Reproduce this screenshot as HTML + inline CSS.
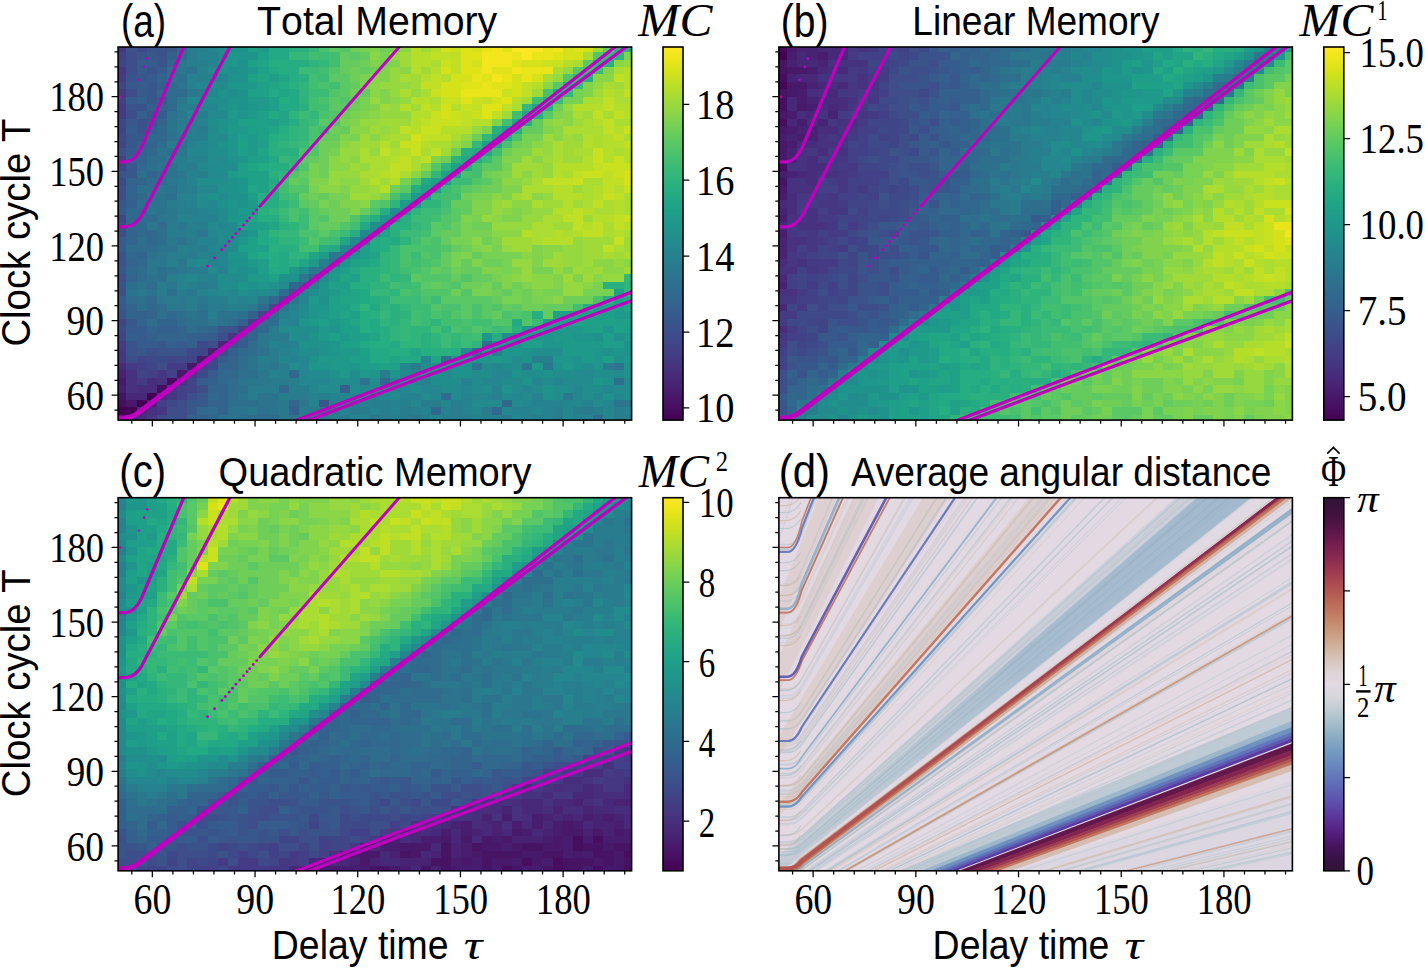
<!DOCTYPE html><html><head><meta charset="utf-8"><style>html,body{margin:0;padding:0;background:#fff;overflow:hidden}svg{display:block}text{font-kerning:none}</style></head><body><svg width="1425" height="968" viewBox="0 0 1425 968"><defs><clipPath id="clipA0_0"><rect x="118.1" y="47" width="513.5" height="373.1"/></clipPath><clipPath id="clipA661_0"><rect x="778.9" y="47" width="513.5" height="373.1"/></clipPath><clipPath id="clipA0_451"><rect x="118.1" y="497.7" width="513.5" height="373.1"/></clipPath><clipPath id="clipA661_451"><rect x="778.9" y="497.7" width="513.5" height="373.1"/></clipPath></defs><g clip-path="url(#clipA0_0)"><g transform="translate(116.25 44.8) scale(10.15 7.4)" shape-rendering="crispEdges"><path fill="#440154" d="M3 47h1v1h-1zM2 48h1v1h-1zM0 49h2v1h-2zM0 50h1v1h-1z"/><path fill="#470d60" d="M5 45h1v1h-1zM4 46h1v1h-1zM0 48h1v1h-1z"/><path fill="#471365" d="M0 47h1v1h-1z"/><path fill="#48186a" d="M7 43h1v1h-1zM6 44h1v1h-1zM0 45h1v1h-1zM1 48h1v1h-1z"/><path fill="#481d6f" d="M8 42h1v1h-1zM0 46h1v1h-1z"/><path fill="#482374" d="M9 41h1v1h-1zM0 44h1v1h-1zM3 48h1v1h-1z"/><path fill="#482878" d="M10 40h1v1h-1zM0 43h1v1h-1zM1 47h2v1h-2zM1 50h1v1h-1z"/><path fill="#472d7b" d="M3 45h1v1h-1zM2 46h2v1h-2zM4 47h1v1h-1zM2 49h1v1h-1zM2 50h1v1h-1z"/><path fill="#46327e" d="M1 44h1v1h-1zM1 45h1v1h-1zM4 45h1v1h-1zM1 46h1v1h-1zM3 49h1v1h-1z"/><path fill="#453781" d="M0 0h1v1h-1zM0 3h1v1h-1zM11 39h1v1h-1zM0 41h1v1h-1zM0 42h1v1h-1zM4 44h1v1h-1zM6 45h1v1h-1zM5 47h1v1h-1zM4 49h1v1h-1zM3 50h1v1h-1z"/><path fill="#443b84" d="M0 4h1v1h-1zM0 6h1v1h-1zM0 8h1v1h-1zM0 9h1v1h-1zM0 40h1v1h-1zM1 43h1v1h-1zM5 43h2v1h-2zM7 44h1v1h-1zM2 45h1v1h-1zM5 46h1v1h-1z"/><path fill="#424086" d="M0 1h1v1h-1zM0 7h1v1h-1zM0 15h1v1h-1zM13 37h1v1h-1zM12 38h1v1h-1zM2 43h1v1h-1zM8 43h1v1h-1zM3 44h1v1h-1zM5 44h1v1h-1zM6 46h1v1h-1zM6 47h1v1h-1zM4 48h1v1h-1z"/><path fill="#404588" d="M0 2h1v1h-1zM0 5h1v1h-1zM0 10h1v1h-1zM0 11h1v1h-1zM0 13h1v1h-1zM0 16h1v1h-1zM0 37h1v1h-1zM0 39h1v1h-1zM8 41h1v1h-1zM2 42h1v1h-1zM5 42h1v1h-1zM7 42h1v1h-1zM3 43h1v1h-1zM2 44h1v1h-1zM7 45h1v1h-1zM7 46h1v1h-1z"/><path fill="#3e4989" d="M2 0h1v1h-1zM0 12h1v1h-1zM0 18h1v1h-1zM0 23h1v1h-1zM14 36h1v1h-1zM0 38h1v1h-1zM8 40h1v1h-1zM7 41h1v1h-1zM3 42h2v1h-2zM6 42h1v1h-1zM9 42h1v1h-1zM9 43h1v1h-1zM8 44h1v1h-1zM5 48h1v1h-1zM4 50h1v1h-1z"/><path fill="#3d4e8a" d="M1 1h1v1h-1zM1 2h1v1h-1zM1 3h1v1h-1zM1 6h1v1h-1zM1 9h1v1h-1zM0 14h1v1h-1zM0 19h1v1h-1zM0 20h1v1h-1zM0 24h1v1h-1zM0 25h1v1h-1zM0 31h1v1h-1zM0 33h1v1h-1zM15 35h1v1h-1zM10 39h1v1h-1zM9 40h1v1h-1zM3 41h1v1h-1zM10 41h1v1h-1zM1 42h1v1h-1zM4 43h1v1h-1zM8 46h1v1h-1zM7 47h1v1h-1zM6 48h1v1h-1zM5 49h2v1h-2zM5 50h2v1h-2z"/><path fill="#3a538b" d="M1 0h1v1h-1zM3 0h2v1h-2zM2 1h1v1h-1zM4 1h1v1h-1zM4 2h1v1h-1zM3 3h1v1h-1zM1 4h1v1h-1zM1 8h2v1h-2zM2 10h1v1h-1zM2 11h1v1h-1zM0 17h1v1h-1zM0 28h1v1h-1zM0 29h1v1h-1zM0 32h1v1h-1zM16 34h1v1h-1zM0 36h1v1h-1zM11 38h1v1h-1zM1 40h1v1h-1zM11 40h1v1h-1zM1 41h1v1h-1zM4 41h3v1h-3z"/><path fill="#38588c" d="M5 0h1v1h-1zM3 1h1v1h-1zM2 4h1v1h-1zM1 5h1v1h-1zM3 5h1v1h-1zM3 6h1v1h-1zM3 7h1v1h-1zM3 9h1v1h-1zM1 10h1v1h-1zM3 10h1v1h-1zM1 12h2v1h-2zM1 13h1v1h-1zM1 16h1v1h-1zM1 17h1v1h-1zM0 21h1v1h-1zM0 22h1v1h-1zM0 30h1v1h-1zM17 33h1v1h-1zM0 35h1v1h-1zM1 37h1v1h-1zM10 38h1v1h-1zM4 40h1v1h-1zM2 41h1v1h-1zM8 47h1v1h-1zM7 48h2v1h-2zM20 48h1v1h-1zM7 49h1v1h-1z"/><path fill="#365c8d" d="M2 2h2v1h-2zM2 3h1v1h-1zM4 3h1v1h-1zM3 4h1v1h-1zM2 5h1v1h-1zM2 6h1v1h-1zM1 7h1v1h-1zM4 7h1v1h-1zM4 9h1v1h-1zM1 11h1v1h-1zM1 14h1v1h-1zM0 26h1v1h-1zM0 27h1v1h-1zM0 34h1v1h-1zM1 38h2v1h-2zM2 39h1v1h-1zM9 39h1v1h-1zM12 39h1v1h-1zM2 40h2v1h-2zM6 40h1v1h-1zM12 40h1v1h-1zM10 42h1v1h-1zM9 44h1v1h-1zM8 45h1v1h-1z"/><path fill="#34608d" d="M5 1h1v1h-1zM4 5h1v1h-1zM2 7h1v1h-1zM3 8h1v1h-1zM2 9h1v1h-1zM3 11h1v1h-1zM2 13h1v1h-1zM1 15h1v1h-1zM1 21h1v1h-1zM2 36h1v1h-1zM13 36h1v1h-1zM12 37h1v1h-1zM4 38h2v1h-2zM13 38h1v1h-1zM1 39h1v1h-1zM3 39h1v1h-1zM7 39h2v1h-2zM5 40h1v1h-1zM7 40h1v1h-1zM11 41h1v1h-1zM9 45h1v1h-1zM22 46h1v1h-1zM17 49h1v1h-1zM7 50h2v1h-2z"/><path fill="#32648e" d="M5 2h1v1h-1zM4 4h1v1h-1zM4 8h1v1h-1zM4 10h1v1h-1zM3 13h1v1h-1zM2 14h1v1h-1zM2 15h1v1h-1zM3 17h1v1h-1zM1 18h2v1h-2zM1 19h1v1h-1zM1 20h1v1h-1zM1 25h1v1h-1zM1 26h1v1h-1zM2 28h1v1h-1zM1 29h1v1h-1zM1 31h1v1h-1zM19 31h1v1h-1zM18 32h1v1h-1zM1 35h1v1h-1zM1 36h1v1h-1zM3 36h1v1h-1zM2 37h1v1h-1zM4 37h2v1h-2zM3 38h1v1h-1zM6 38h1v1h-1zM9 38h1v1h-1zM4 39h3v1h-3zM13 39h1v1h-1zM11 42h1v1h-1zM10 43h2v1h-2zM9 46h2v1h-2zM10 47h1v1h-1zM9 48h2v1h-2zM17 48h1v1h-1zM10 49h1v1h-1z"/><path fill="#31688e" d="M6 0h1v1h-1zM4 6h1v1h-1zM5 8h1v1h-1zM4 11h1v1h-1zM3 12h2v1h-2zM3 14h1v1h-1zM2 16h1v1h-1zM2 20h1v1h-1zM1 22h2v1h-2zM1 23h1v1h-1zM1 24h2v1h-2zM2 25h2v1h-2zM3 26h1v1h-1zM1 28h1v1h-1zM2 29h1v1h-1zM1 30h1v1h-1zM17 32h1v1h-1zM3 34h1v1h-1zM15 34h1v1h-1zM3 35h1v1h-1zM14 35h1v1h-1zM5 36h1v1h-1zM8 38h1v1h-1zM14 38h1v1h-1zM12 41h1v1h-1zM10 44h2v1h-2zM17 44h1v1h-1zM10 45h1v1h-1zM26 45h1v1h-1zM16 46h1v1h-1zM9 47h1v1h-1zM38 48h1v1h-1zM8 49h1v1h-1zM31 49h1v1h-1zM37 49h1v1h-1zM9 50h1v1h-1z"/><path fill="#2f6c8e" d="M5 5h1v1h-1zM5 6h2v1h-2zM5 7h1v1h-1zM4 13h1v1h-1zM4 17h1v1h-1zM3 18h2v1h-2zM3 19h1v1h-1zM3 23h1v1h-1zM4 24h1v1h-1zM1 27h3v1h-3zM2 30h1v1h-1zM2 31h1v1h-1zM3 32h1v1h-1zM16 33h1v1h-1zM1 34h1v1h-1zM4 35h1v1h-1zM3 37h1v1h-1zM6 37h1v1h-1zM11 37h1v1h-1zM14 37h2v1h-2zM7 38h1v1h-1zM13 40h1v1h-1zM13 41h1v1h-1zM12 42h1v1h-1zM12 43h1v1h-1zM11 45h1v1h-1zM11 46h1v1h-1zM11 47h1v1h-1zM32 47h1v1h-1zM9 49h1v1h-1zM13 50h3v1h-3zM47 50h1v1h-1z"/><path fill="#2d708e" d="M6 1h1v1h-1zM5 3h1v1h-1zM6 4h1v1h-1zM5 12h1v1h-1zM5 14h1v1h-1zM3 15h2v1h-2zM3 16h1v1h-1zM2 17h1v1h-1zM2 19h1v1h-1zM5 20h1v1h-1zM2 21h1v1h-1zM2 23h1v1h-1zM4 25h1v1h-1zM2 26h1v1h-1zM4 26h1v1h-1zM21 29h1v1h-1zM4 30h1v1h-1zM4 31h1v1h-1zM1 32h1v1h-1zM5 33h1v1h-1zM2 34h1v1h-1zM2 35h1v1h-1zM4 36h1v1h-1zM6 36h1v1h-1zM8 36h1v1h-1zM12 36h1v1h-1zM15 36h1v1h-1zM7 37h2v1h-2zM35 41h1v1h-1zM32 42h1v1h-1zM12 44h2v1h-2zM49 45h1v1h-1zM12 46h1v1h-1zM11 48h3v1h-3zM14 49h1v1h-1zM10 50h1v1h-1zM12 50h1v1h-1z"/><path fill="#2c738e" d="M7 3h1v1h-1zM5 4h1v1h-1zM6 5h1v1h-1zM5 9h1v1h-1zM5 10h1v1h-1zM5 11h1v1h-1zM6 13h1v1h-1zM4 14h1v1h-1zM4 16h2v1h-2zM5 17h1v1h-1zM5 19h1v1h-1zM3 20h2v1h-2zM3 21h2v1h-2zM4 22h1v1h-1zM6 26h1v1h-1zM4 27h2v1h-2zM3 28h1v1h-1zM5 30h1v1h-1zM20 30h1v1h-1zM3 31h1v1h-1zM2 32h1v1h-1zM1 33h1v1h-1zM3 33h1v1h-1zM8 35h1v1h-1zM7 36h1v1h-1zM10 36h2v1h-2zM10 37h1v1h-1zM36 40h1v1h-1zM14 41h1v1h-1zM13 42h1v1h-1zM13 43h1v1h-1zM35 43h1v1h-1zM40 43h1v1h-1zM49 43h1v1h-1zM12 45h1v1h-1zM24 45h1v1h-1zM12 47h1v1h-1zM14 47h2v1h-2zM14 48h2v1h-2zM49 48h1v1h-1zM11 49h2v1h-2zM15 49h1v1h-1zM11 50h1v1h-1zM17 50h1v1h-1z"/><path fill="#2a778e" d="M6 2h1v1h-1zM6 3h1v1h-1zM7 6h1v1h-1zM6 7h1v1h-1zM6 9h1v1h-1zM6 12h1v1h-1zM6 14h1v1h-1zM6 17h1v1h-1zM5 18h1v1h-1zM4 19h1v1h-1zM3 22h1v1h-1zM5 22h1v1h-1zM4 23h2v1h-2zM3 24h1v1h-1zM6 24h1v1h-1zM8 25h1v1h-1zM5 26h1v1h-1zM4 28h1v1h-1zM21 28h2v1h-2zM3 29h2v1h-2zM6 29h1v1h-1zM3 30h1v1h-1zM6 30h1v1h-1zM19 30h1v1h-1zM18 31h1v1h-1zM5 32h1v1h-1zM2 33h1v1h-1zM7 33h1v1h-1zM4 34h1v1h-1zM6 34h1v1h-1zM8 34h1v1h-1zM14 34h1v1h-1zM17 34h1v1h-1zM5 35h2v1h-2zM13 35h1v1h-1zM16 35h1v1h-1zM9 37h1v1h-1zM14 39h1v1h-1zM14 40h1v1h-1zM15 43h1v1h-1zM42 43h1v1h-1zM14 44h1v1h-1zM13 45h2v1h-2zM44 47h1v1h-1zM16 48h1v1h-1zM18 48h1v1h-1zM50 48h1v1h-1zM13 49h1v1h-1zM16 49h1v1h-1zM20 49h1v1h-1zM16 50h1v1h-1zM19 50h2v1h-2zM25 50h1v1h-1zM29 50h1v1h-1z"/><path fill="#297b8e" d="M7 0h1v1h-1zM7 1h1v1h-1zM7 8h1v1h-1zM6 10h2v1h-2zM8 11h1v1h-1zM5 13h1v1h-1zM5 15h2v1h-2zM7 16h1v1h-1zM6 18h1v1h-1zM6 19h1v1h-1zM5 21h1v1h-1zM5 24h1v1h-1zM5 25h2v1h-2zM7 26h1v1h-1zM24 26h1v1h-1zM8 27h1v1h-1zM5 28h1v1h-1zM7 28h1v1h-1zM7 30h2v1h-2zM4 32h1v1h-1zM8 32h1v1h-1zM4 33h1v1h-1zM5 34h1v1h-1zM7 35h1v1h-1zM9 35h2v1h-2zM15 38h1v1h-1zM15 39h2v1h-2zM15 41h1v1h-1zM15 42h1v1h-1zM14 43h1v1h-1zM29 43h1v1h-1zM48 43h1v1h-1zM26 44h1v1h-1zM15 45h2v1h-2zM13 46h3v1h-3zM13 47h1v1h-1zM17 47h2v1h-2zM23 48h1v1h-1zM30 48h1v1h-1zM18 49h2v1h-2zM21 49h1v1h-1zM23 49h1v1h-1zM28 49h1v1h-1zM33 49h1v1h-1zM36 49h1v1h-1zM46 49h1v1h-1zM18 50h1v1h-1zM22 50h1v1h-1zM26 50h1v1h-1zM28 50h1v1h-1zM33 50h1v1h-1zM38 50h1v1h-1zM43 50h1v1h-1z"/><path fill="#277f8e" d="M8 0h1v1h-1zM7 2h2v1h-2zM8 4h1v1h-1zM8 6h1v1h-1zM6 8h1v1h-1zM8 9h1v1h-1zM6 11h2v1h-2zM7 12h2v1h-2zM6 16h1v1h-1zM8 17h1v1h-1zM7 19h1v1h-1zM6 21h1v1h-1zM6 22h2v1h-2zM7 24h2v1h-2zM7 25h1v1h-1zM6 27h2v1h-2zM23 27h1v1h-1zM6 28h1v1h-1zM5 29h1v1h-1zM20 29h1v1h-1zM5 31h1v1h-1zM7 32h1v1h-1zM9 32h1v1h-1zM6 33h1v1h-1zM7 34h1v1h-1zM9 34h2v1h-2zM11 35h2v1h-2zM9 36h1v1h-1zM16 36h1v1h-1zM16 40h1v1h-1zM37 41h1v1h-1zM14 42h1v1h-1zM41 42h2v1h-2zM16 43h1v1h-1zM16 44h1v1h-1zM17 45h1v1h-1zM17 46h2v1h-2zM16 47h1v1h-1zM20 47h1v1h-1zM25 47h1v1h-1zM25 48h2v1h-2zM28 48h1v1h-1zM31 48h1v1h-1zM33 48h1v1h-1zM24 49h1v1h-1zM26 49h1v1h-1zM29 49h1v1h-1zM43 49h1v1h-1zM45 49h1v1h-1zM47 49h1v1h-1zM49 49h1v1h-1zM21 50h1v1h-1zM27 50h1v1h-1zM30 50h1v1h-1zM32 50h1v1h-1zM34 50h1v1h-1zM36 50h2v1h-2zM41 50h1v1h-1zM49 50h2v1h-2z"/><path fill="#26828e" d="M8 1h2v1h-2zM9 2h1v1h-1zM8 3h1v1h-1zM7 4h1v1h-1zM9 4h1v1h-1zM7 5h1v1h-1zM8 10h1v1h-1zM7 13h1v1h-1zM7 15h2v1h-2zM7 17h1v1h-1zM7 18h1v1h-1zM6 20h2v1h-2zM7 21h1v1h-1zM8 22h1v1h-1zM6 23h4v1h-4zM8 26h2v1h-2zM8 28h2v1h-2zM9 29h1v1h-1zM10 30h1v1h-1zM6 31h1v1h-1zM8 31h2v1h-2zM6 32h1v1h-1zM19 32h1v1h-1zM8 33h1v1h-1zM12 34h1v1h-1zM17 35h1v1h-1zM17 37h1v1h-1zM15 40h1v1h-1zM17 40h1v1h-1zM16 41h1v1h-1zM17 42h1v1h-1zM15 44h1v1h-1zM27 45h1v1h-1zM30 45h1v1h-1zM34 45h1v1h-1zM37 46h1v1h-1zM19 47h1v1h-1zM21 47h1v1h-1zM28 47h2v1h-2zM34 47h1v1h-1zM37 47h1v1h-1zM41 47h1v1h-1zM19 48h1v1h-1zM21 48h2v1h-2zM24 48h1v1h-1zM27 48h1v1h-1zM34 48h1v1h-1zM41 48h3v1h-3zM46 48h1v1h-1zM22 49h1v1h-1zM25 49h1v1h-1zM27 49h1v1h-1zM30 49h1v1h-1zM32 49h1v1h-1zM34 49h1v1h-1zM39 49h2v1h-2zM42 49h1v1h-1zM50 49h1v1h-1zM23 50h2v1h-2zM35 50h1v1h-1zM40 50h1v1h-1zM42 50h1v1h-1zM45 50h2v1h-2z"/><path fill="#24868e" d="M9 0h1v1h-1zM10 4h1v1h-1zM8 5h1v1h-1zM9 6h1v1h-1zM7 7h2v1h-2zM8 8h2v1h-2zM7 9h1v1h-1zM8 13h1v1h-1zM7 14h2v1h-2zM8 16h1v1h-1zM8 19h2v1h-2zM9 21h1v1h-1zM9 22h1v1h-1zM10 24h1v1h-1zM9 25h1v1h-1zM24 25h1v1h-1zM9 27h2v1h-2zM22 27h1v1h-1zM10 28h1v1h-1zM7 29h1v1h-1zM10 29h1v1h-1zM7 31h1v1h-1zM9 33h1v1h-1zM11 33h1v1h-1zM15 33h1v1h-1zM18 33h1v1h-1zM11 34h1v1h-1zM13 34h1v1h-1zM18 34h1v1h-1zM17 36h1v1h-1zM16 37h1v1h-1zM17 41h1v1h-1zM16 42h1v1h-1zM18 42h1v1h-1zM30 42h1v1h-1zM18 43h1v1h-1zM28 43h1v1h-1zM37 43h1v1h-1zM18 44h1v1h-1zM29 44h1v1h-1zM37 44h2v1h-2zM18 45h3v1h-3zM29 45h1v1h-1zM36 45h2v1h-2zM41 45h1v1h-1zM43 45h1v1h-1zM19 46h1v1h-1zM24 46h1v1h-1zM27 46h2v1h-2zM30 46h2v1h-2zM34 46h1v1h-1zM40 46h1v1h-1zM45 46h1v1h-1zM48 46h1v1h-1zM22 47h2v1h-2zM26 47h1v1h-1zM31 47h1v1h-1zM35 47h2v1h-2zM39 47h1v1h-1zM45 47h1v1h-1zM47 47h1v1h-1zM49 47h1v1h-1zM29 48h1v1h-1zM32 48h1v1h-1zM40 48h1v1h-1zM44 48h2v1h-2zM48 48h1v1h-1zM35 49h1v1h-1zM38 49h1v1h-1zM41 49h1v1h-1zM44 49h1v1h-1zM48 49h1v1h-1zM31 50h1v1h-1zM39 50h1v1h-1zM44 50h1v1h-1zM48 50h1v1h-1z"/><path fill="#238a8d" d="M10 0h1v1h-1zM10 1h1v1h-1zM9 3h1v1h-1zM10 5h1v1h-1zM9 9h2v1h-2zM9 11h1v1h-1zM10 12h1v1h-1zM9 13h1v1h-1zM10 15h1v1h-1zM9 16h1v1h-1zM9 17h2v1h-2zM8 20h1v1h-1zM10 20h1v1h-1zM8 21h1v1h-1zM10 22h1v1h-1zM10 23h1v1h-1zM9 24h1v1h-1zM11 24h1v1h-1zM26 24h1v1h-1zM10 25h2v1h-2zM25 25h1v1h-1zM10 26h1v1h-1zM23 26h1v1h-1zM11 27h1v1h-1zM8 29h1v1h-1zM9 30h1v1h-1zM11 31h1v1h-1zM20 31h1v1h-1zM16 32h1v1h-1zM10 33h1v1h-1zM13 33h1v1h-1zM18 35h1v1h-1zM16 38h1v1h-1zM18 39h1v1h-1zM19 41h1v1h-1zM39 42h1v1h-1zM17 43h1v1h-1zM36 43h1v1h-1zM38 43h1v1h-1zM19 44h2v1h-2zM28 44h1v1h-1zM32 44h1v1h-1zM35 44h1v1h-1zM45 44h2v1h-2zM49 44h1v1h-1zM23 45h1v1h-1zM35 45h1v1h-1zM38 45h2v1h-2zM42 45h1v1h-1zM44 45h3v1h-3zM50 45h1v1h-1zM21 46h1v1h-1zM25 46h2v1h-2zM32 46h2v1h-2zM35 46h1v1h-1zM39 46h1v1h-1zM41 46h1v1h-1zM49 46h1v1h-1zM24 47h1v1h-1zM27 47h1v1h-1zM30 47h1v1h-1zM33 47h1v1h-1zM38 47h1v1h-1zM40 47h1v1h-1zM35 48h3v1h-3zM39 48h1v1h-1zM47 48h1v1h-1z"/><path fill="#218e8d" d="M11 3h1v1h-1zM9 5h1v1h-1zM11 6h1v1h-1zM9 7h2v1h-2zM9 10h1v1h-1zM9 12h1v1h-1zM9 14h2v1h-2zM9 15h1v1h-1zM10 16h2v1h-2zM8 18h3v1h-3zM27 22h1v1h-1zM25 24h1v1h-1zM12 25h1v1h-1zM11 26h1v1h-1zM12 30h1v1h-1zM18 30h1v1h-1zM10 31h1v1h-1zM12 31h1v1h-1zM10 32h2v1h-2zM14 33h1v1h-1zM19 33h1v1h-1zM18 36h1v1h-1zM17 38h3v1h-3zM17 39h1v1h-1zM38 39h1v1h-1zM18 41h1v1h-1zM34 41h1v1h-1zM41 41h3v1h-3zM30 43h1v1h-1zM39 43h1v1h-1zM46 43h1v1h-1zM23 44h1v1h-1zM30 44h1v1h-1zM36 44h1v1h-1zM40 44h2v1h-2zM43 44h2v1h-2zM47 44h2v1h-2zM21 45h2v1h-2zM25 45h1v1h-1zM31 45h3v1h-3zM20 46h1v1h-1zM23 46h1v1h-1zM29 46h1v1h-1zM36 46h1v1h-1zM43 46h2v1h-2zM46 46h2v1h-2zM50 46h1v1h-1zM43 47h1v1h-1zM46 47h1v1h-1zM50 47h1v1h-1z"/><path fill="#20928c" d="M11 0h2v1h-2zM10 2h1v1h-1zM12 2h1v1h-1zM10 3h1v1h-1zM12 3h1v1h-1zM11 4h2v1h-2zM10 6h1v1h-1zM12 6h1v1h-1zM11 7h2v1h-2zM10 8h1v1h-1zM12 8h1v1h-1zM10 10h1v1h-1zM10 11h1v1h-1zM10 13h1v1h-1zM11 15h1v1h-1zM11 18h1v1h-1zM10 19h2v1h-2zM9 20h1v1h-1zM11 20h2v1h-2zM10 21h1v1h-1zM12 21h1v1h-1zM11 22h1v1h-1zM23 28h1v1h-1zM11 29h2v1h-2zM11 30h1v1h-1zM13 30h1v1h-1zM16 31h2v1h-2zM13 32h1v1h-1zM15 32h1v1h-1zM12 33h1v1h-1zM20 34h1v1h-1zM19 39h1v1h-1zM39 39h1v1h-1zM47 39h1v1h-1zM49 39h1v1h-1zM18 40h3v1h-3zM50 40h1v1h-1zM20 41h1v1h-1zM40 41h1v1h-1zM48 41h1v1h-1zM50 41h1v1h-1zM19 42h1v1h-1zM40 42h1v1h-1zM45 42h1v1h-1zM49 42h1v1h-1zM33 43h2v1h-2zM43 43h1v1h-1zM45 43h1v1h-1zM50 43h1v1h-1zM21 44h1v1h-1zM31 44h1v1h-1zM33 44h2v1h-2zM39 44h1v1h-1zM42 44h1v1h-1zM50 44h1v1h-1zM28 45h1v1h-1zM40 45h1v1h-1zM48 45h1v1h-1zM38 46h1v1h-1zM42 46h1v1h-1zM42 47h1v1h-1zM48 47h1v1h-1z"/><path fill="#1f968b" d="M11 1h3v1h-3zM11 2h1v1h-1zM13 3h1v1h-1zM11 5h2v1h-2zM11 8h1v1h-1zM13 8h1v1h-1zM12 9h1v1h-1zM11 10h1v1h-1zM11 12h1v1h-1zM11 13h1v1h-1zM11 14h1v1h-1zM12 15h1v1h-1zM12 18h1v1h-1zM12 19h1v1h-1zM11 21h1v1h-1zM29 21h1v1h-1zM11 23h2v1h-2zM26 23h2v1h-2zM13 25h1v1h-1zM12 26h1v1h-1zM11 28h2v1h-2zM22 29h1v1h-1zM21 30h1v1h-1zM12 32h1v1h-1zM14 32h1v1h-1zM20 32h1v1h-1zM20 33h1v1h-1zM19 35h2v1h-2zM19 36h1v1h-1zM18 37h1v1h-1zM21 38h1v1h-1zM43 38h1v1h-1zM48 38h1v1h-1zM36 39h1v1h-1zM42 39h1v1h-1zM45 39h2v1h-2zM21 40h1v1h-1zM37 40h1v1h-1zM39 40h1v1h-1zM42 40h2v1h-2zM21 41h1v1h-1zM38 41h2v1h-2zM47 41h1v1h-1zM49 41h1v1h-1zM33 42h1v1h-1zM35 42h2v1h-2zM38 42h1v1h-1zM43 42h2v1h-2zM47 42h1v1h-1zM50 42h1v1h-1zM19 43h2v1h-2zM23 43h1v1h-1zM31 43h2v1h-2zM47 43h1v1h-1zM25 44h1v1h-1zM27 44h1v1h-1zM47 45h1v1h-1z"/><path fill="#1f9a8a" d="M14 0h1v1h-1zM13 5h1v1h-1zM13 7h2v1h-2zM14 8h1v1h-1zM11 9h1v1h-1zM13 9h1v1h-1zM11 11h2v1h-2zM13 12h1v1h-1zM13 13h1v1h-1zM13 14h1v1h-1zM11 17h1v1h-1zM29 20h2v1h-2zM13 21h1v1h-1zM28 21h1v1h-1zM12 22h2v1h-2zM20 28h1v1h-1zM13 29h1v1h-1zM19 29h1v1h-1zM17 30h1v1h-1zM13 31h2v1h-2zM21 31h1v1h-1zM21 33h1v1h-1zM19 34h1v1h-1zM20 36h1v1h-1zM49 36h2v1h-2zM19 37h1v1h-1zM21 37h1v1h-1zM20 38h1v1h-1zM40 38h1v1h-1zM42 38h1v1h-1zM44 38h2v1h-2zM20 39h1v1h-1zM22 39h1v1h-1zM40 39h2v1h-2zM43 39h2v1h-2zM50 39h1v1h-1zM38 40h1v1h-1zM44 40h4v1h-4zM22 41h2v1h-2zM36 41h1v1h-1zM44 41h3v1h-3zM20 42h3v1h-3zM34 42h1v1h-1zM37 42h1v1h-1zM46 42h1v1h-1zM21 43h2v1h-2zM41 43h1v1h-1zM44 43h1v1h-1zM22 44h1v1h-1zM24 44h1v1h-1z"/><path fill="#1f9e89" d="M15 4h1v1h-1zM15 8h1v1h-1zM12 10h1v1h-1zM15 10h1v1h-1zM13 11h1v1h-1zM12 12h1v1h-1zM14 13h1v1h-1zM12 14h1v1h-1zM13 15h1v1h-1zM12 16h1v1h-1zM12 17h1v1h-1zM31 18h1v1h-1zM31 19h1v1h-1zM13 20h1v1h-1zM28 22h1v1h-1zM12 24h2v1h-2zM12 27h1v1h-1zM24 27h1v1h-1zM24 28h1v1h-1zM14 29h1v1h-1zM14 30h1v1h-1zM22 30h1v1h-1zM22 32h1v1h-1zM49 34h1v1h-1zM47 35h1v1h-1zM49 35h1v1h-1zM21 36h1v1h-1zM48 36h1v1h-1zM20 37h1v1h-1zM22 37h1v1h-1zM42 37h3v1h-3zM49 37h1v1h-1zM22 38h2v1h-2zM46 38h1v1h-1zM50 38h1v1h-1zM23 39h1v1h-1zM48 39h1v1h-1zM22 40h1v1h-1zM40 40h2v1h-2zM48 40h2v1h-2zM23 42h2v1h-2zM48 42h1v1h-1zM24 43h2v1h-2z"/><path fill="#1fa187" d="M13 0h1v1h-1zM14 1h1v1h-1zM13 2h1v1h-1zM14 3h1v1h-1zM13 4h1v1h-1zM14 5h1v1h-1zM13 6h2v1h-2zM15 7h1v1h-1zM14 9h1v1h-1zM13 10h2v1h-2zM14 11h1v1h-1zM38 11h1v1h-1zM14 12h1v1h-1zM12 13h1v1h-1zM36 13h1v1h-1zM14 15h1v1h-1zM33 16h1v1h-1zM13 17h2v1h-2zM32 17h2v1h-2zM13 18h2v1h-2zM32 18h1v1h-1zM14 19h1v1h-1zM30 19h1v1h-1zM14 24h1v1h-1zM13 26h1v1h-1zM13 27h2v1h-2zM23 29h1v1h-1zM15 31h1v1h-1zM23 31h1v1h-1zM21 32h1v1h-1zM22 33h1v1h-1zM49 33h1v1h-1zM21 34h1v1h-1zM21 35h2v1h-2zM23 36h1v1h-1zM43 36h5v1h-5zM46 37h3v1h-3zM50 37h1v1h-1zM41 38h1v1h-1zM47 38h1v1h-1zM49 38h1v1h-1zM21 39h1v1h-1zM24 39h1v1h-1zM23 40h1v1h-1zM24 41h1v1h-1zM26 43h2v1h-2z"/><path fill="#21a585" d="M14 2h1v1h-1zM14 4h1v1h-1zM16 4h1v1h-1zM15 5h1v1h-1zM16 6h1v1h-1zM41 8h1v1h-1zM16 9h1v1h-1zM40 9h1v1h-1zM16 10h1v1h-1zM39 10h1v1h-1zM15 11h1v1h-1zM37 12h1v1h-1zM37 13h1v1h-1zM14 14h1v1h-1zM13 16h1v1h-1zM13 19h1v1h-1zM13 23h1v1h-1zM15 24h1v1h-1zM26 25h1v1h-1zM22 26h1v1h-1zM13 28h1v1h-1zM19 28h1v1h-1zM25 28h1v1h-1zM18 29h1v1h-1zM24 29h1v1h-1zM22 31h1v1h-1zM23 33h1v1h-1zM22 34h2v1h-2zM48 35h1v1h-1zM50 35h1v1h-1zM22 36h1v1h-1zM23 37h1v1h-1zM45 37h1v1h-1zM25 39h1v1h-1zM29 41h1v1h-1zM27 42h1v1h-1zM31 42h1v1h-1z"/><path fill="#23a983" d="M15 0h2v1h-2zM15 1h2v1h-2zM15 3h1v1h-1zM16 5h1v1h-1zM15 6h1v1h-1zM17 6h1v1h-1zM43 6h1v1h-1zM17 7h1v1h-1zM16 8h2v1h-2zM15 9h1v1h-1zM35 14h2v1h-2zM15 15h1v1h-1zM34 15h1v1h-1zM14 16h1v1h-1zM15 18h1v1h-1zM30 18h1v1h-1zM24 24h1v1h-1zM14 25h1v1h-1zM14 26h1v1h-1zM25 26h1v1h-1zM27 26h1v1h-1zM21 27h1v1h-1zM25 27h1v1h-1zM14 28h1v1h-1zM16 28h1v1h-1zM16 29h1v1h-1zM25 29h1v1h-1zM15 30h2v1h-2zM23 30h1v1h-1zM24 33h1v1h-1zM24 34h1v1h-1zM50 34h1v1h-1zM23 35h1v1h-1zM25 35h1v1h-1zM25 37h1v1h-1zM39 37h1v1h-1zM25 38h1v1h-1zM24 40h1v1h-1zM27 40h1v1h-1zM25 41h2v1h-2zM25 42h2v1h-2zM28 42h2v1h-2z"/><path fill="#26ad81" d="M15 2h4v1h-4zM16 3h2v1h-2zM17 4h1v1h-1zM46 4h1v1h-1zM44 5h1v1h-1zM16 7h1v1h-1zM42 7h1v1h-1zM41 9h1v1h-1zM17 10h1v1h-1zM40 10h1v1h-1zM16 11h1v1h-1zM15 12h1v1h-1zM38 12h1v1h-1zM35 15h1v1h-1zM15 16h2v1h-2zM34 16h1v1h-1zM29 19h1v1h-1zM14 20h2v1h-2zM14 21h2v1h-2zM26 22h1v1h-1zM14 23h2v1h-2zM25 23h1v1h-1zM23 25h1v1h-1zM15 26h1v1h-1zM26 26h1v1h-1zM16 27h1v1h-1zM20 27h1v1h-1zM26 27h1v1h-1zM15 28h1v1h-1zM15 29h1v1h-1zM23 32h2v1h-2zM25 34h1v1h-1zM46 35h1v1h-1zM24 36h1v1h-1zM41 36h1v1h-1zM24 37h1v1h-1zM24 38h1v1h-1zM26 38h1v1h-1zM26 39h1v1h-1zM37 39h1v1h-1zM25 40h2v1h-2zM27 41h2v1h-2zM30 41h1v1h-1zM33 41h1v1h-1z"/><path fill="#2ab07f" d="M17 0h2v1h-2zM50 0h1v1h-1zM47 2h2v1h-2zM18 4h1v1h-1zM17 5h1v1h-1zM18 8h1v1h-1zM42 8h1v1h-1zM37 11h1v1h-1zM39 11h1v1h-1zM16 12h1v1h-1zM15 13h1v1h-1zM15 14h3v1h-3zM34 14h1v1h-1zM15 17h1v1h-1zM15 19h1v1h-1zM14 22h1v1h-1zM28 23h1v1h-1zM16 24h1v1h-1zM27 24h2v1h-2zM27 25h1v1h-1zM15 27h1v1h-1zM17 27h1v1h-1zM17 29h1v1h-1zM24 30h2v1h-2zM24 31h2v1h-2zM48 32h2v1h-2zM26 34h1v1h-1zM48 34h1v1h-1zM27 35h1v1h-1zM25 36h1v1h-1zM27 36h1v1h-1zM27 37h1v1h-1zM39 38h1v1h-1zM30 39h1v1h-1zM30 40h1v1h-1zM31 41h2v1h-2z"/><path fill="#2fb47c" d="M49 0h1v1h-1zM49 1h1v1h-1zM19 2h1v1h-1zM18 5h1v1h-1zM18 6h1v1h-1zM18 7h1v1h-1zM17 9h1v1h-1zM17 11h1v1h-1zM17 12h1v1h-1zM16 13h1v1h-1zM17 15h1v1h-1zM33 15h1v1h-1zM32 16h1v1h-1zM16 17h1v1h-1zM28 20h1v1h-1zM16 21h1v1h-1zM27 21h1v1h-1zM30 21h2v1h-2zM15 22h1v1h-1zM29 22h1v1h-1zM17 24h1v1h-1zM15 25h1v1h-1zM16 26h2v1h-2zM28 26h1v1h-1zM17 28h2v1h-2zM26 28h1v1h-1zM26 29h1v1h-1zM26 30h1v1h-1zM27 31h1v1h-1zM25 32h2v1h-2zM50 32h1v1h-1zM27 33h1v1h-1zM24 35h1v1h-1zM26 35h1v1h-1zM28 36h1v1h-1zM26 37h1v1h-1zM31 37h1v1h-1zM27 38h1v1h-1zM29 38h2v1h-2zM32 38h1v1h-1zM27 39h1v1h-1zM29 39h1v1h-1zM31 39h1v1h-1zM28 40h2v1h-2zM31 40h1v1h-1zM33 40h1v1h-1zM35 40h1v1h-1z"/><path fill="#35b779" d="M19 0h1v1h-1zM17 1h2v1h-2zM48 1h1v1h-1zM20 2h1v1h-1zM45 4h1v1h-1zM45 5h1v1h-1zM44 6h1v1h-1zM40 8h1v1h-1zM19 9h1v1h-1zM18 10h1v1h-1zM18 11h1v1h-1zM18 12h1v1h-1zM36 12h1v1h-1zM17 13h1v1h-1zM35 13h1v1h-1zM16 15h1v1h-1zM17 16h1v1h-1zM31 17h1v1h-1zM16 23h1v1h-1zM24 23h1v1h-1zM29 24h1v1h-1zM16 25h2v1h-2zM27 27h1v1h-1zM27 28h1v1h-1zM27 29h1v1h-1zM27 30h1v1h-1zM28 31h1v1h-1zM50 31h1v1h-1zM25 33h2v1h-2zM50 33h1v1h-1zM28 35h1v1h-1zM26 36h1v1h-1zM28 37h1v1h-1zM28 38h1v1h-1zM28 39h1v1h-1zM33 39h1v1h-1z"/><path fill="#3bbb75" d="M20 1h1v1h-1zM18 3h2v1h-2zM46 3h2v1h-2zM20 4h1v1h-1zM19 6h2v1h-2zM43 7h1v1h-1zM18 9h1v1h-1zM19 10h1v1h-1zM18 13h1v1h-1zM36 15h1v1h-1zM33 18h2v1h-2zM32 19h1v1h-1zM16 20h1v1h-1zM31 20h1v1h-1zM17 21h1v1h-1zM16 22h1v1h-1zM30 22h2v1h-2zM18 23h1v1h-1zM29 23h2v1h-2zM18 24h1v1h-1zM30 24h1v1h-1zM22 25h1v1h-1zM28 25h2v1h-2zM18 26h1v1h-1zM21 26h1v1h-1zM29 28h1v1h-1zM26 31h1v1h-1zM28 32h1v1h-1zM27 34h3v1h-3zM31 34h1v1h-1zM29 35h2v1h-2zM30 36h1v1h-1zM30 37h1v1h-1zM41 37h1v1h-1zM37 38h1v1h-1zM32 39h1v1h-1zM34 39h1v1h-1zM32 40h1v1h-1zM34 40h1v1h-1z"/><path fill="#42be71" d="M19 1h1v1h-1zM21 1h1v1h-1zM21 2h1v1h-1zM20 3h1v1h-1zM19 4h1v1h-1zM19 5h1v1h-1zM21 5h1v1h-1zM19 7h1v1h-1zM41 7h1v1h-1zM19 8h2v1h-2zM39 9h1v1h-1zM38 10h1v1h-1zM20 11h1v1h-1zM37 14h1v1h-1zM35 16h1v1h-1zM35 17h1v1h-1zM16 18h1v1h-1zM16 19h1v1h-1zM17 20h1v1h-1zM32 20h2v1h-2zM32 21h1v1h-1zM18 22h1v1h-1zM31 23h1v1h-1zM23 24h1v1h-1zM30 25h1v1h-1zM20 26h1v1h-1zM29 26h1v1h-1zM18 27h2v1h-2zM29 29h1v1h-1zM28 30h1v1h-1zM27 32h1v1h-1zM29 32h1v1h-1zM29 33h1v1h-1zM45 35h1v1h-1zM29 36h1v1h-1zM32 36h1v1h-1zM29 37h1v1h-1zM32 37h2v1h-2zM35 37h2v1h-2zM31 38h1v1h-1zM34 38h1v1h-1zM38 38h1v1h-1zM35 39h1v1h-1z"/><path fill="#4ac16d" d="M20 0h1v1h-1zM20 5h1v1h-1zM42 6h1v1h-1zM20 7h1v1h-1zM20 9h1v1h-1zM19 11h1v1h-1zM19 12h1v1h-1zM39 12h1v1h-1zM38 13h1v1h-1zM18 14h1v1h-1zM34 17h1v1h-1zM33 19h1v1h-1zM27 20h1v1h-1zM17 22h1v1h-1zM25 22h1v1h-1zM32 22h1v1h-1zM17 23h1v1h-1zM18 25h2v1h-2zM21 25h1v1h-1zM31 26h1v1h-1zM28 27h4v1h-4zM28 28h1v1h-1zM31 28h1v1h-1zM28 29h1v1h-1zM30 29h1v1h-1zM29 30h1v1h-1zM28 33h1v1h-1zM30 34h1v1h-1zM47 34h1v1h-1zM32 35h2v1h-2zM35 35h1v1h-1zM31 36h1v1h-1zM35 36h1v1h-1zM38 36h1v1h-1zM40 36h1v1h-1zM34 37h1v1h-1zM33 38h1v1h-1zM36 38h1v1h-1z"/><path fill="#52c569" d="M22 0h1v1h-1zM47 1h1v1h-1zM21 3h1v1h-1zM44 4h1v1h-1zM21 6h1v1h-1zM22 7h1v1h-1zM21 9h1v1h-1zM21 10h1v1h-1zM19 13h1v1h-1zM19 14h1v1h-1zM18 16h1v1h-1zM31 16h1v1h-1zM17 17h1v1h-1zM29 18h1v1h-1zM35 18h1v1h-1zM17 19h2v1h-2zM26 21h1v1h-1zM20 23h1v1h-1zM23 23h1v1h-1zM32 23h1v1h-1zM22 24h1v1h-1zM32 24h1v1h-1zM19 26h1v1h-1zM30 26h1v1h-1zM32 27h1v1h-1zM30 28h1v1h-1zM31 29h1v1h-1zM30 30h1v1h-1zM30 31h3v1h-3zM34 31h1v1h-1zM33 32h1v1h-1zM30 33h3v1h-3zM34 33h1v1h-1zM31 35h1v1h-1zM37 35h1v1h-1zM33 36h1v1h-1zM39 36h1v1h-1zM37 37h2v1h-2zM40 37h1v1h-1zM35 38h1v1h-1z"/><path fill="#5ac864" d="M21 0h1v1h-1zM23 1h1v1h-1zM46 2h1v1h-1zM45 3h1v1h-1zM21 4h2v1h-2zM22 5h1v1h-1zM43 5h1v1h-1zM22 6h1v1h-1zM21 7h1v1h-1zM21 8h2v1h-2zM42 9h1v1h-1zM20 10h1v1h-1zM18 15h1v1h-1zM37 15h1v1h-1zM36 16h2v1h-2zM18 18h1v1h-1zM36 18h1v1h-1zM28 19h1v1h-1zM34 19h1v1h-1zM18 21h1v1h-1zM25 21h1v1h-1zM19 22h1v1h-1zM33 22h1v1h-1zM19 23h1v1h-1zM33 23h1v1h-1zM19 24h1v1h-1zM31 24h1v1h-1zM20 25h1v1h-1zM31 25h1v1h-1zM32 30h1v1h-1zM29 31h1v1h-1zM30 32h1v1h-1zM32 32h1v1h-1zM32 34h5v1h-5zM34 35h1v1h-1zM36 35h1v1h-1zM39 35h1v1h-1zM34 36h1v1h-1zM36 36h1v1h-1z"/><path fill="#65cb5e" d="M48 0h1v1h-1zM22 1h1v1h-1zM24 1h1v1h-1zM22 2h2v1h-2zM22 3h1v1h-1zM24 3h1v1h-1zM23 5h1v1h-1zM24 6h1v1h-1zM23 7h1v1h-1zM41 10h1v1h-1zM22 11h1v1h-1zM40 11h2v1h-2zM20 12h2v1h-2zM19 15h1v1h-1zM18 17h1v1h-1zM30 17h1v1h-1zM17 18h1v1h-1zM35 19h1v1h-1zM18 20h1v1h-1zM20 20h1v1h-1zM19 21h1v1h-1zM33 21h2v1h-2zM20 22h1v1h-1zM24 22h1v1h-1zM34 22h1v1h-1zM20 24h2v1h-2zM33 24h1v1h-1zM32 25h2v1h-2zM32 26h1v1h-1zM33 27h1v1h-1zM32 28h1v1h-1zM35 28h1v1h-1zM32 29h1v1h-1zM34 29h1v1h-1zM31 30h1v1h-1zM34 30h2v1h-2zM33 31h1v1h-1zM35 31h2v1h-2zM31 32h1v1h-1zM37 32h1v1h-1zM38 33h1v1h-1zM37 34h1v1h-1zM38 35h1v1h-1zM42 35h3v1h-3zM37 36h1v1h-1zM42 36h1v1h-1z"/><path fill="#6ece58" d="M23 0h1v1h-1zM26 0h1v1h-1zM24 2h1v1h-1zM23 3h1v1h-1zM25 3h1v1h-1zM23 4h1v1h-1zM23 6h1v1h-1zM23 8h1v1h-1zM43 8h1v1h-1zM22 9h1v1h-1zM21 11h1v1h-1zM35 12h1v1h-1zM20 13h2v1h-2zM39 13h1v1h-1zM20 14h1v1h-1zM33 14h1v1h-1zM38 14h1v1h-1zM20 15h1v1h-1zM32 15h1v1h-1zM20 16h1v1h-1zM20 17h1v1h-1zM36 17h1v1h-1zM37 18h1v1h-1zM27 19h1v1h-1zM36 19h2v1h-2zM19 20h1v1h-1zM34 20h1v1h-1zM21 21h1v1h-1zM21 22h2v1h-2zM21 23h2v1h-2zM35 24h2v1h-2zM36 26h1v1h-1zM34 27h1v1h-1zM36 29h2v1h-2zM33 30h1v1h-1zM34 32h2v1h-2zM39 32h1v1h-1zM33 33h1v1h-1zM37 33h1v1h-1zM40 33h1v1h-1zM40 34h1v1h-1zM44 34h3v1h-3zM40 35h2v1h-2z"/><path fill="#77d153" d="M24 0h1v1h-1zM27 0h1v1h-1zM26 1h1v1h-1zM26 2h1v1h-1zM24 4h1v1h-1zM45 6h1v1h-1zM24 7h1v1h-1zM44 7h2v1h-2zM24 8h1v1h-1zM23 9h1v1h-1zM22 10h1v1h-1zM23 12h1v1h-1zM40 12h2v1h-2zM40 13h1v1h-1zM21 14h1v1h-1zM19 16h1v1h-1zM38 16h1v1h-1zM19 17h1v1h-1zM37 17h1v1h-1zM28 18h1v1h-1zM19 19h1v1h-1zM21 20h2v1h-2zM35 20h2v1h-2zM20 21h1v1h-1zM35 23h1v1h-1zM34 24h1v1h-1zM34 25h3v1h-3zM33 26h2v1h-2zM37 27h1v1h-1zM33 28h1v1h-1zM36 28h4v1h-4zM33 29h1v1h-1zM38 29h1v1h-1zM38 30h1v1h-1zM41 30h2v1h-2zM37 31h1v1h-1zM36 32h1v1h-1zM47 32h1v1h-1zM35 33h2v1h-2zM39 33h1v1h-1zM42 33h2v1h-2zM46 33h3v1h-3zM38 34h2v1h-2zM41 34h1v1h-1z"/><path fill="#81d34d" d="M25 0h1v1h-1zM50 1h1v1h-1zM25 2h1v1h-1zM27 2h1v1h-1zM26 3h1v1h-1zM48 3h1v1h-1zM26 4h1v1h-1zM24 5h1v1h-1zM46 5h1v1h-1zM26 6h1v1h-1zM46 6h1v1h-1zM26 7h1v1h-1zM25 8h1v1h-1zM24 9h1v1h-1zM43 9h1v1h-1zM23 10h1v1h-1zM37 10h1v1h-1zM36 11h1v1h-1zM42 11h1v1h-1zM22 12h1v1h-1zM34 13h1v1h-1zM39 14h2v1h-2zM31 15h1v1h-1zM38 15h2v1h-2zM38 17h1v1h-1zM19 18h2v1h-2zM22 19h1v1h-1zM38 19h2v1h-2zM26 20h1v1h-1zM38 20h1v1h-1zM22 21h2v1h-2zM35 21h2v1h-2zM23 22h1v1h-1zM35 22h2v1h-2zM39 22h1v1h-1zM34 23h1v1h-1zM38 23h2v1h-2zM37 26h1v1h-1zM35 27h1v1h-1zM41 27h1v1h-1zM34 28h1v1h-1zM41 28h1v1h-1zM35 29h1v1h-1zM41 29h1v1h-1zM36 30h2v1h-2zM39 30h1v1h-1zM44 30h1v1h-1zM38 31h1v1h-1zM43 31h1v1h-1zM45 31h1v1h-1zM38 32h1v1h-1zM40 32h1v1h-1zM43 32h1v1h-1zM41 33h1v1h-1zM42 34h1v1h-1z"/><path fill="#8bd646" d="M28 0h1v1h-1zM25 1h1v1h-1zM49 2h1v1h-1zM28 3h1v1h-1zM25 4h1v1h-1zM47 4h2v1h-2zM25 5h1v1h-1zM42 5h1v1h-1zM25 6h1v1h-1zM27 7h1v1h-1zM25 9h1v1h-1zM44 9h1v1h-1zM42 10h1v1h-1zM44 10h1v1h-1zM23 11h2v1h-2zM43 11h1v1h-1zM25 12h1v1h-1zM43 12h1v1h-1zM22 13h1v1h-1zM41 13h1v1h-1zM21 15h1v1h-1zM23 15h1v1h-1zM41 15h1v1h-1zM21 16h2v1h-2zM30 16h1v1h-1zM29 17h1v1h-1zM40 17h1v1h-1zM22 18h2v1h-2zM38 18h2v1h-2zM20 19h2v1h-2zM37 20h1v1h-1zM41 20h1v1h-1zM24 21h1v1h-1zM39 21h2v1h-2zM38 22h1v1h-1zM40 22h1v1h-1zM37 23h1v1h-1zM37 25h3v1h-3zM35 26h1v1h-1zM36 27h1v1h-1zM42 27h2v1h-2zM40 28h1v1h-1zM42 28h1v1h-1zM47 29h2v1h-2zM50 29h1v1h-1zM48 30h2v1h-2zM39 31h1v1h-1zM41 31h2v1h-2zM47 31h1v1h-1zM41 32h2v1h-2zM46 32h1v1h-1zM43 34h1v1h-1z"/><path fill="#95d840" d="M27 1h1v1h-1zM50 2h1v1h-1zM27 3h1v1h-1zM44 3h1v1h-1zM27 4h1v1h-1zM43 4h1v1h-1zM26 5h3v1h-3zM47 5h1v1h-1zM27 6h1v1h-1zM29 6h1v1h-1zM25 7h1v1h-1zM28 7h1v1h-1zM27 8h1v1h-1zM44 8h1v1h-1zM26 9h3v1h-3zM24 10h2v1h-2zM43 10h1v1h-1zM26 11h1v1h-1zM35 11h1v1h-1zM34 12h1v1h-1zM45 12h1v1h-1zM23 13h1v1h-1zM33 13h1v1h-1zM42 13h1v1h-1zM22 14h2v1h-2zM25 14h1v1h-1zM42 14h1v1h-1zM22 15h1v1h-1zM24 16h1v1h-1zM42 16h1v1h-1zM21 17h3v1h-3zM42 17h1v1h-1zM21 18h1v1h-1zM40 18h1v1h-1zM23 19h2v1h-2zM25 20h1v1h-1zM42 20h1v1h-1zM37 21h1v1h-1zM37 22h1v1h-1zM41 22h2v1h-2zM36 23h1v1h-1zM40 23h2v1h-2zM37 24h4v1h-4zM45 26h1v1h-1zM38 27h1v1h-1zM44 27h2v1h-2zM44 28h2v1h-2zM39 29h2v1h-2zM44 29h2v1h-2zM49 29h1v1h-1zM40 30h1v1h-1zM43 30h1v1h-1zM46 30h1v1h-1zM40 31h1v1h-1zM48 31h2v1h-2zM44 32h2v1h-2zM44 33h2v1h-2z"/><path fill="#a0da39" d="M30 0h1v1h-1zM47 0h1v1h-1zM28 1h1v1h-1zM28 2h1v1h-1zM30 3h1v1h-1zM29 4h1v1h-1zM29 5h1v1h-1zM49 5h1v1h-1zM41 6h1v1h-1zM47 6h1v1h-1zM40 7h1v1h-1zM26 8h1v1h-1zM29 8h1v1h-1zM38 9h1v1h-1zM46 9h1v1h-1zM26 10h3v1h-3zM45 10h1v1h-1zM25 11h1v1h-1zM27 11h1v1h-1zM24 12h1v1h-1zM26 12h1v1h-1zM42 12h1v1h-1zM44 12h1v1h-1zM24 13h2v1h-2zM27 13h1v1h-1zM44 13h2v1h-2zM32 14h1v1h-1zM41 14h1v1h-1zM44 14h1v1h-1zM40 15h1v1h-1zM42 15h1v1h-1zM44 15h2v1h-2zM23 16h1v1h-1zM39 16h3v1h-3zM39 17h1v1h-1zM41 17h1v1h-1zM24 18h1v1h-1zM26 18h1v1h-1zM25 19h1v1h-1zM45 19h1v1h-1zM23 20h2v1h-2zM39 20h1v1h-1zM38 21h1v1h-1zM42 21h2v1h-2zM45 21h1v1h-1zM46 23h1v1h-1zM43 24h2v1h-2zM38 26h3v1h-3zM46 26h3v1h-3zM50 26h1v1h-1zM39 27h2v1h-2zM46 27h2v1h-2zM50 27h1v1h-1zM43 28h1v1h-1zM46 28h2v1h-2zM49 28h1v1h-1zM42 29h2v1h-2zM46 29h1v1h-1zM45 30h1v1h-1zM47 30h1v1h-1zM50 30h1v1h-1zM44 31h1v1h-1zM46 31h1v1h-1z"/><path fill="#aadc32" d="M46 1h1v1h-1zM31 2h1v1h-1zM45 2h1v1h-1zM43 3h1v1h-1zM49 3h1v1h-1zM28 4h1v1h-1zM42 4h1v1h-1zM48 5h1v1h-1zM28 6h1v1h-1zM30 6h1v1h-1zM49 6h1v1h-1zM31 7h1v1h-1zM46 7h2v1h-2zM49 7h2v1h-2zM39 8h1v1h-1zM45 9h1v1h-1zM48 9h1v1h-1zM46 10h1v1h-1zM49 10h2v1h-2zM44 11h4v1h-4zM27 12h2v1h-2zM33 12h1v1h-1zM47 12h1v1h-1zM50 12h1v1h-1zM31 13h2v1h-2zM43 13h1v1h-1zM47 13h1v1h-1zM24 14h1v1h-1zM27 14h1v1h-1zM30 14h1v1h-1zM43 14h1v1h-1zM45 14h2v1h-2zM49 14h1v1h-1zM24 15h3v1h-3zM29 15h1v1h-1zM43 15h1v1h-1zM25 16h2v1h-2zM29 16h1v1h-1zM24 17h2v1h-2zM28 17h1v1h-1zM44 17h1v1h-1zM41 18h1v1h-1zM46 18h2v1h-2zM40 19h3v1h-3zM46 19h1v1h-1zM40 20h1v1h-1zM46 20h1v1h-1zM50 20h1v1h-1zM41 21h1v1h-1zM46 21h1v1h-1zM48 21h1v1h-1zM50 21h1v1h-1zM47 22h2v1h-2zM50 22h1v1h-1zM42 23h2v1h-2zM41 24h2v1h-2zM48 24h1v1h-1zM41 25h2v1h-2zM44 25h1v1h-1zM48 25h1v1h-1zM50 25h1v1h-1zM41 26h1v1h-1zM49 27h1v1h-1zM48 28h1v1h-1zM50 28h1v1h-1z"/><path fill="#b5de2b" d="M29 0h1v1h-1zM31 0h1v1h-1zM29 1h2v1h-2zM29 2h2v1h-2zM44 2h1v1h-1zM29 3h1v1h-1zM31 3h1v1h-1zM50 3h1v1h-1zM30 4h1v1h-1zM32 4h1v1h-1zM50 4h1v1h-1zM41 5h1v1h-1zM50 5h1v1h-1zM48 6h1v1h-1zM29 7h2v1h-2zM39 7h1v1h-1zM28 8h1v1h-1zM31 8h1v1h-1zM33 8h1v1h-1zM45 8h3v1h-3zM49 8h2v1h-2zM29 9h2v1h-2zM50 9h1v1h-1zM29 10h1v1h-1zM35 10h2v1h-2zM47 10h1v1h-1zM29 11h1v1h-1zM32 11h3v1h-3zM49 11h1v1h-1zM46 12h1v1h-1zM48 12h1v1h-1zM26 13h1v1h-1zM30 13h1v1h-1zM46 13h1v1h-1zM48 13h2v1h-2zM28 14h1v1h-1zM48 14h1v1h-1zM50 14h1v1h-1zM27 15h1v1h-1zM46 15h1v1h-1zM48 15h1v1h-1zM50 15h1v1h-1zM43 16h4v1h-4zM26 17h1v1h-1zM43 17h1v1h-1zM25 18h1v1h-1zM27 18h1v1h-1zM26 19h1v1h-1zM43 19h2v1h-2zM47 19h1v1h-1zM49 19h1v1h-1zM43 20h3v1h-3zM47 20h1v1h-1zM44 21h1v1h-1zM49 21h1v1h-1zM43 22h2v1h-2zM46 22h1v1h-1zM49 22h1v1h-1zM47 23h2v1h-2zM46 24h1v1h-1zM50 24h1v1h-1zM40 25h1v1h-1zM43 25h1v1h-1zM45 25h1v1h-1zM49 25h1v1h-1zM42 26h3v1h-3z"/><path fill="#c0df25" d="M31 1h3v1h-3zM33 2h1v1h-1zM33 3h1v1h-1zM31 4h1v1h-1zM49 4h1v1h-1zM30 5h2v1h-2zM40 5h1v1h-1zM40 6h1v1h-1zM50 6h1v1h-1zM36 7h1v1h-1zM48 7h1v1h-1zM30 8h1v1h-1zM35 8h1v1h-1zM38 8h1v1h-1zM48 8h1v1h-1zM34 9h1v1h-1zM37 9h1v1h-1zM47 9h1v1h-1zM49 9h1v1h-1zM30 10h1v1h-1zM34 10h1v1h-1zM48 10h1v1h-1zM28 11h1v1h-1zM48 11h1v1h-1zM30 12h3v1h-3zM49 12h1v1h-1zM50 13h1v1h-1zM26 14h1v1h-1zM31 14h1v1h-1zM28 15h1v1h-1zM30 15h1v1h-1zM27 16h2v1h-2zM47 16h1v1h-1zM27 17h1v1h-1zM45 17h1v1h-1zM48 17h1v1h-1zM42 18h3v1h-3zM48 18h2v1h-2zM48 19h1v1h-1zM49 20h1v1h-1zM47 21h1v1h-1zM45 22h1v1h-1zM44 23h2v1h-2zM49 23h1v1h-1zM45 24h1v1h-1zM47 24h1v1h-1zM49 24h1v1h-1zM46 25h2v1h-2zM48 27h1v1h-1z"/><path fill="#cae11f" d="M33 0h1v1h-1zM32 2h1v1h-1zM42 2h2v1h-2zM31 6h1v1h-1zM38 6h1v1h-1zM32 7h2v1h-2zM35 7h1v1h-1zM34 8h1v1h-1zM31 9h1v1h-1zM33 9h1v1h-1zM35 9h1v1h-1zM31 10h3v1h-3zM30 11h2v1h-2zM50 11h1v1h-1zM28 13h2v1h-2zM29 14h1v1h-1zM47 14h1v1h-1zM47 15h1v1h-1zM49 15h1v1h-1zM48 16h3v1h-3zM46 17h2v1h-2zM49 17h1v1h-1zM45 18h1v1h-1zM50 19h1v1h-1zM48 20h1v1h-1zM50 23h1v1h-1zM49 26h1v1h-1z"/><path fill="#d5e21a" d="M32 0h1v1h-1zM35 0h1v1h-1zM44 0h1v1h-1zM46 0h1v1h-1zM44 1h2v1h-2zM35 2h1v1h-1zM40 2h2v1h-2zM32 3h1v1h-1zM33 4h2v1h-2zM39 4h1v1h-1zM41 4h1v1h-1zM32 5h2v1h-2zM39 5h1v1h-1zM32 6h2v1h-2zM39 6h1v1h-1zM37 7h1v1h-1zM32 8h1v1h-1zM32 9h1v1h-1zM29 12h1v1h-1zM50 17h1v1h-1zM50 18h1v1h-1z"/><path fill="#dfe318" d="M34 0h1v1h-1zM38 0h1v1h-1zM45 0h1v1h-1zM34 1h2v1h-2zM43 1h1v1h-1zM34 2h1v1h-1zM39 2h1v1h-1zM34 3h2v1h-2zM37 3h2v1h-2zM36 4h1v1h-1zM34 5h2v1h-2zM37 5h2v1h-2zM34 7h1v1h-1zM38 7h1v1h-1zM36 8h2v1h-2zM36 9h1v1h-1z"/><path fill="#eae51a" d="M36 0h1v1h-1zM42 0h1v1h-1zM39 1h1v1h-1zM41 1h2v1h-2zM40 3h3v1h-3zM35 4h1v1h-1zM38 4h1v1h-1zM40 4h1v1h-1zM36 5h1v1h-1zM34 6h4v1h-4z"/><path fill="#f4e61e" d="M37 0h1v1h-1zM43 0h1v1h-1zM36 1h3v1h-3zM36 2h3v1h-3zM36 3h1v1h-1zM39 3h1v1h-1zM37 4h1v1h-1z"/><path fill="#fde725" d="M39 0h3v1h-3zM40 1h1v1h-1z"/></g></g><g clip-path="url(#clipA0_0)"><g transform="translate(0 0)" fill="none" stroke="#bf00bf" stroke-width="3.3"><path d="M110 162 L126 161.9 Q135 161 141.5 147.4 L184.5 45"/><path d="M110 227 L126 226.9 Q135 226 141.5 215.6 L231 45"/><path d="M110 417.3 L125 417.1 Q133 416.5 139.5 410.8 L460 168.3 L617 45.5"/><path d="M110 419 L125 418.8 Q133 418.2 139.5 413.2 L460 170.6 L627.5 46"/><path d="M291.3 422.3 L631.6 292.1 L640 289"/><path d="M303.5 422.3 L400 385.7 L631.6 300.7 L640 297.6"/><path d="M260.2 205.9 L400.5 45.5" stroke-width="3"/></g></g><g clip-path="url(#clipA0_0)"><g transform="translate(0 0)" fill="#bf00bf"><circle cx="207.5" cy="266.1" r="1.45"/><circle cx="214.615" cy="257.9762" r="1.45"/><circle cx="221.8618" cy="249.702" r="1.45"/><circle cx="225.2876" cy="245.7906" r="1.45"/><circle cx="229.1086" cy="241.4278" r="1.45"/><circle cx="232.5344" cy="237.5164" r="1.45"/><circle cx="235.9602" cy="233.605" r="1.45"/><circle cx="239.7812" cy="229.2422" r="1.45"/><circle cx="243.4705" cy="225.0299" r="1.45"/><circle cx="247.028" cy="220.968" r="1.45"/><circle cx="249.6632" cy="217.9592" r="1.45"/><circle cx="253.2866" cy="213.8221" r="1.45"/><circle cx="256.7124" cy="209.9107" r="1.45"/><circle cx="259.8746" cy="206.3001" r="1.45"/></g></g><g transform="translate(0 0)" fill="#bf00bf"><circle cx="147.2" cy="58.6" r="1.3"/><circle cx="144.1" cy="66.9" r="1.3"/><circle cx="138.9" cy="79.9" r="1.2"/><circle cx="120.3" cy="96.8" r="1.3"/></g><g clip-path="url(#clipA661_0)"><g transform="translate(777.05 44.8) scale(10.15 7.4)" shape-rendering="crispEdges"><path fill="#440154" d="M0 1h1v1h-1z"/><path fill="#46075a" d="M0 0h1v1h-1zM0 5h1v1h-1z"/><path fill="#470d60" d="M0 4h1v1h-1zM0 7h1v1h-1zM0 8h1v1h-1zM0 10h1v1h-1zM0 16h1v1h-1z"/><path fill="#471365" d="M0 2h1v1h-1zM0 3h1v1h-1zM0 6h1v1h-1zM0 18h1v1h-1z"/><path fill="#48186a" d="M1 0h1v1h-1zM1 3h2v1h-2zM1 5h2v1h-2zM1 6h1v1h-1zM2 8h1v1h-1zM0 9h1v1h-1zM0 11h1v1h-1zM0 13h1v1h-1zM0 14h1v1h-1zM0 15h1v1h-1zM0 19h1v1h-1z"/><path fill="#481d6f" d="M1 1h1v1h-1zM4 1h1v1h-1zM3 3h1v1h-1zM2 6h1v1h-1zM2 7h1v1h-1zM3 8h1v1h-1zM1 9h1v1h-1zM2 10h1v1h-1zM1 11h1v1h-1zM0 12h1v1h-1zM2 12h1v1h-1zM1 13h1v1h-1zM0 17h1v1h-1zM0 20h1v1h-1zM0 23h1v1h-1zM0 25h1v1h-1z"/><path fill="#482374" d="M2 0h2v1h-2zM3 1h1v1h-1zM1 2h1v1h-1zM4 2h1v1h-1zM1 4h1v1h-1zM3 5h1v1h-1zM3 7h1v1h-1zM5 9h1v1h-1zM4 10h1v1h-1zM2 11h2v1h-2zM1 12h1v1h-1zM3 12h1v1h-1zM1 14h1v1h-1zM1 15h1v1h-1zM1 17h1v1h-1zM0 22h1v1h-1zM0 26h1v1h-1zM0 27h1v1h-1zM0 28h1v1h-1zM0 32h1v1h-1z"/><path fill="#482878" d="M4 0h3v1h-3zM2 1h1v1h-1zM5 1h2v1h-2zM2 2h2v1h-2zM4 3h1v1h-1zM6 3h1v1h-1zM2 4h2v1h-2zM4 5h1v1h-1zM6 5h1v1h-1zM5 6h1v1h-1zM1 7h1v1h-1zM4 7h1v1h-1zM1 8h1v1h-1zM5 8h1v1h-1zM3 9h1v1h-1zM1 10h1v1h-1zM2 13h1v1h-1zM2 17h1v1h-1zM0 21h1v1h-1zM0 24h1v1h-1zM0 31h1v1h-1zM0 35h1v1h-1z"/><path fill="#472d7b" d="M5 3h1v1h-1zM5 5h1v1h-1zM3 6h1v1h-1zM5 7h2v1h-2zM4 8h1v1h-1zM6 8h1v1h-1zM2 9h1v1h-1zM3 10h1v1h-1zM4 11h2v1h-2zM3 13h1v1h-1zM4 14h1v1h-1zM3 15h1v1h-1zM3 16h2v1h-2zM3 17h1v1h-1zM3 18h1v1h-1zM1 20h1v1h-1zM1 21h1v1h-1zM1 22h1v1h-1zM0 29h1v1h-1zM0 38h1v1h-1z"/><path fill="#46327e" d="M8 0h1v1h-1zM5 2h4v1h-4zM4 4h1v1h-1zM8 4h1v1h-1zM8 5h1v1h-1zM4 6h1v1h-1zM7 7h1v1h-1zM4 9h1v1h-1zM6 10h2v1h-2zM4 12h1v1h-1zM6 12h1v1h-1zM4 13h2v1h-2zM2 14h1v1h-1zM6 14h1v1h-1zM2 15h1v1h-1zM1 16h2v1h-2zM4 17h2v1h-2zM1 18h2v1h-2zM1 19h3v1h-3zM3 22h1v1h-1zM1 23h1v1h-1zM3 23h1v1h-1zM2 24h3v1h-3zM1 26h2v1h-2zM1 27h1v1h-1zM2 29h1v1h-1zM0 30h2v1h-2zM0 33h2v1h-2z"/><path fill="#453781" d="M7 0h1v1h-1zM9 0h1v1h-1zM8 3h1v1h-1zM5 4h2v1h-2zM7 5h1v1h-1zM9 5h1v1h-1zM6 6h2v1h-2zM9 7h1v1h-1zM7 8h1v1h-1zM8 9h1v1h-1zM5 10h1v1h-1zM6 11h2v1h-2zM5 12h1v1h-1zM6 13h1v1h-1zM3 14h1v1h-1zM5 15h2v1h-2zM5 16h1v1h-1zM7 16h1v1h-1zM6 17h1v1h-1zM6 18h1v1h-1zM6 19h1v1h-1zM2 20h2v1h-2zM5 20h1v1h-1zM4 21h2v1h-2zM5 22h2v1h-2zM2 23h1v1h-1zM1 24h1v1h-1zM5 24h1v1h-1zM1 25h1v1h-1zM3 25h1v1h-1zM3 26h1v1h-1zM3 27h1v1h-1zM1 28h1v1h-1zM1 29h1v1h-1zM3 30h1v1h-1zM0 34h2v1h-2zM0 39h1v1h-1z"/><path fill="#443b84" d="M7 1h1v1h-1zM7 3h1v1h-1zM10 3h1v1h-1zM7 4h1v1h-1zM9 4h2v1h-2zM8 6h2v1h-2zM8 8h1v1h-1zM6 9h1v1h-1zM9 9h1v1h-1zM8 10h1v1h-1zM7 12h1v1h-1zM5 14h1v1h-1zM4 15h1v1h-1zM6 16h1v1h-1zM7 17h1v1h-1zM5 18h1v1h-1zM8 19h1v1h-1zM4 20h1v1h-1zM2 21h2v1h-2zM6 21h1v1h-1zM2 22h1v1h-1zM4 23h2v1h-2zM7 24h1v1h-1zM2 25h1v1h-1zM5 25h2v1h-2zM4 26h1v1h-1zM6 27h1v1h-1zM2 28h1v1h-1zM3 29h3v1h-3zM4 30h1v1h-1zM3 32h1v1h-1zM2 33h1v1h-1zM2 35h1v1h-1zM0 36h2v1h-2zM0 37h1v1h-1zM1 38h1v1h-1zM0 40h1v1h-1z"/><path fill="#424086" d="M10 0h1v1h-1zM12 0h1v1h-1zM8 1h3v1h-3zM10 2h1v1h-1zM9 3h1v1h-1zM10 6h1v1h-1zM8 7h1v1h-1zM7 9h1v1h-1zM10 9h1v1h-1zM8 11h2v1h-2zM8 12h1v1h-1zM10 12h1v1h-1zM8 13h1v1h-1zM7 14h2v1h-2zM7 15h1v1h-1zM8 17h3v1h-3zM4 18h1v1h-1zM7 18h3v1h-3zM4 19h2v1h-2zM7 19h1v1h-1zM6 20h2v1h-2zM9 20h1v1h-1zM4 22h1v1h-1zM8 22h1v1h-1zM7 23h1v1h-1zM4 25h1v1h-1zM5 26h1v1h-1zM7 26h1v1h-1zM2 27h1v1h-1zM5 27h1v1h-1zM3 28h1v1h-1zM2 30h1v1h-1zM1 31h1v1h-1zM3 31h1v1h-1zM1 32h1v1h-1zM5 32h1v1h-1zM3 33h1v1h-1zM5 33h1v1h-1zM2 34h2v1h-2zM1 39h2v1h-2zM0 41h1v1h-1zM0 43h1v1h-1z"/><path fill="#404588" d="M11 0h1v1h-1zM12 1h1v1h-1zM9 2h1v1h-1zM11 2h1v1h-1zM10 5h1v1h-1zM10 8h1v1h-1zM9 10h3v1h-3zM11 11h1v1h-1zM11 12h1v1h-1zM7 13h1v1h-1zM11 13h1v1h-1zM9 14h1v1h-1zM8 16h2v1h-2zM9 19h1v1h-1zM11 19h1v1h-1zM8 20h1v1h-1zM7 21h2v1h-2zM6 23h1v1h-1zM8 23h1v1h-1zM10 23h1v1h-1zM8 24h1v1h-1zM8 26h1v1h-1zM4 27h1v1h-1zM8 27h1v1h-1zM4 28h2v1h-2zM7 28h1v1h-1zM7 29h1v1h-1zM5 30h1v1h-1zM2 31h1v1h-1zM4 31h1v1h-1zM7 31h1v1h-1zM2 32h1v1h-1zM7 32h1v1h-1zM7 33h1v1h-1zM4 34h1v1h-1zM6 34h1v1h-1zM1 35h1v1h-1zM4 35h1v1h-1zM3 37h2v1h-2zM2 38h1v1h-1zM4 38h1v1h-1zM3 39h1v1h-1zM2 40h1v1h-1zM0 42h1v1h-1z"/><path fill="#3e4989" d="M14 0h1v1h-1zM11 1h1v1h-1zM13 1h1v1h-1zM12 2h1v1h-1zM11 3h1v1h-1zM14 6h1v1h-1zM10 7h2v1h-2zM9 8h1v1h-1zM11 9h1v1h-1zM12 10h1v1h-1zM10 11h1v1h-1zM12 11h1v1h-1zM9 12h1v1h-1zM13 12h1v1h-1zM9 13h2v1h-2zM10 14h1v1h-1zM13 14h1v1h-1zM8 15h1v1h-1zM10 15h2v1h-2zM10 16h1v1h-1zM10 18h1v1h-1zM12 18h1v1h-1zM10 19h1v1h-1zM12 19h1v1h-1zM11 20h2v1h-2zM9 21h1v1h-1zM11 21h1v1h-1zM7 22h1v1h-1zM9 22h3v1h-3zM9 23h1v1h-1zM11 23h1v1h-1zM6 24h1v1h-1zM7 25h1v1h-1zM11 25h1v1h-1zM6 26h1v1h-1zM9 27h1v1h-1zM9 28h1v1h-1zM6 29h1v1h-1zM6 30h2v1h-2zM5 31h1v1h-1zM4 32h1v1h-1zM6 33h1v1h-1zM5 34h1v1h-1zM2 36h5v1h-5zM1 37h2v1h-2zM3 40h1v1h-1zM2 41h1v1h-1z"/><path fill="#3d4e8a" d="M13 0h1v1h-1zM15 2h1v1h-1zM13 3h2v1h-2zM11 4h3v1h-3zM11 5h1v1h-1zM15 5h1v1h-1zM11 6h3v1h-3zM12 7h1v1h-1zM14 7h1v1h-1zM11 8h2v1h-2zM12 9h2v1h-2zM15 10h1v1h-1zM14 11h1v1h-1zM12 12h1v1h-1zM12 13h1v1h-1zM12 14h1v1h-1zM9 15h1v1h-1zM11 16h1v1h-1zM13 16h2v1h-2zM11 17h1v1h-1zM14 17h1v1h-1zM11 18h1v1h-1zM13 19h1v1h-1zM13 20h1v1h-1zM10 21h1v1h-1zM12 21h1v1h-1zM12 22h1v1h-1zM12 23h1v1h-1zM9 24h1v1h-1zM8 25h1v1h-1zM10 25h1v1h-1zM7 27h1v1h-1zM11 27h1v1h-1zM6 28h1v1h-1zM10 28h2v1h-2zM9 29h1v1h-1zM9 30h1v1h-1zM11 30h1v1h-1zM6 31h1v1h-1zM8 31h1v1h-1zM6 32h1v1h-1zM10 32h1v1h-1zM4 33h1v1h-1zM10 33h1v1h-1zM3 35h1v1h-1zM5 35h2v1h-2zM8 35h2v1h-2zM7 36h1v1h-1zM6 37h2v1h-2zM3 38h1v1h-1zM1 40h1v1h-1zM4 40h1v1h-1zM1 41h1v1h-1zM3 41h1v1h-1zM0 44h1v1h-1zM0 45h1v1h-1zM0 46h1v1h-1z"/><path fill="#3a538b" d="M14 1h3v1h-3zM13 2h2v1h-2zM12 3h1v1h-1zM15 3h1v1h-1zM14 4h1v1h-1zM12 5h3v1h-3zM15 6h1v1h-1zM13 7h1v1h-1zM14 8h1v1h-1zM13 10h1v1h-1zM15 12h1v1h-1zM11 14h1v1h-1zM15 14h1v1h-1zM12 15h1v1h-1zM12 16h1v1h-1zM12 17h2v1h-2zM15 17h1v1h-1zM15 18h2v1h-2zM15 19h1v1h-1zM10 20h1v1h-1zM13 21h1v1h-1zM15 21h1v1h-1zM9 25h1v1h-1zM13 25h2v1h-2zM13 26h1v1h-1zM8 28h1v1h-1zM12 28h1v1h-1zM14 28h1v1h-1zM8 29h1v1h-1zM8 30h1v1h-1zM11 31h1v1h-1zM8 32h2v1h-2zM8 33h2v1h-2zM7 34h2v1h-2zM10 35h1v1h-1zM9 36h1v1h-1zM5 37h1v1h-1zM8 37h1v1h-1zM6 39h1v1h-1zM4 41h1v1h-1zM2 42h2v1h-2zM1 43h1v1h-1zM2 44h1v1h-1zM0 49h1v1h-1z"/><path fill="#38588c" d="M15 0h1v1h-1zM16 3h1v1h-1zM17 4h1v1h-1zM17 5h1v1h-1zM13 8h1v1h-1zM17 8h1v1h-1zM15 9h1v1h-1zM14 10h1v1h-1zM13 11h1v1h-1zM13 13h1v1h-1zM16 13h1v1h-1zM13 15h2v1h-2zM15 16h1v1h-1zM17 17h1v1h-1zM13 18h2v1h-2zM14 19h1v1h-1zM16 19h1v1h-1zM13 22h1v1h-1zM13 23h1v1h-1zM10 24h2v1h-2zM14 24h1v1h-1zM15 25h1v1h-1zM24 25h1v1h-1zM9 26h2v1h-2zM12 26h1v1h-1zM14 26h1v1h-1zM10 27h1v1h-1zM14 27h2v1h-2zM10 29h1v1h-1zM10 30h1v1h-1zM9 31h2v1h-2zM11 34h1v1h-1zM7 35h1v1h-1zM8 36h1v1h-1zM10 37h1v1h-1zM5 38h1v1h-1zM7 38h2v1h-2zM4 39h2v1h-2zM7 41h1v1h-1zM1 42h1v1h-1zM5 42h1v1h-1zM2 43h2v1h-2zM0 48h1v1h-1z"/><path fill="#365c8d" d="M17 0h1v1h-1zM16 2h2v1h-2zM17 3h1v1h-1zM19 3h1v1h-1zM15 4h1v1h-1zM16 5h1v1h-1zM15 7h1v1h-1zM17 7h1v1h-1zM15 8h2v1h-2zM14 9h1v1h-1zM17 10h1v1h-1zM15 11h1v1h-1zM14 12h1v1h-1zM14 13h1v1h-1zM14 14h1v1h-1zM17 14h1v1h-1zM15 15h1v1h-1zM16 17h1v1h-1zM18 17h1v1h-1zM17 19h1v1h-1zM14 20h1v1h-1zM14 23h1v1h-1zM25 23h1v1h-1zM12 24h2v1h-2zM12 25h1v1h-1zM11 26h1v1h-1zM13 27h1v1h-1zM21 27h1v1h-1zM13 28h1v1h-1zM21 28h1v1h-1zM11 29h2v1h-2zM12 30h1v1h-1zM15 30h1v1h-1zM18 30h1v1h-1zM14 31h2v1h-2zM11 32h1v1h-1zM11 33h3v1h-3zM15 33h1v1h-1zM9 34h1v1h-1zM13 35h1v1h-1zM10 36h1v1h-1zM9 37h1v1h-1zM11 37h1v1h-1zM6 38h1v1h-1zM9 38h2v1h-2zM5 40h3v1h-3zM4 42h1v1h-1zM5 43h1v1h-1zM4 44h1v1h-1zM1 45h1v1h-1zM0 47h1v1h-1z"/><path fill="#34608d" d="M16 0h1v1h-1zM19 0h1v1h-1zM18 1h1v1h-1zM18 2h1v1h-1zM18 3h1v1h-1zM16 4h1v1h-1zM18 5h1v1h-1zM16 6h4v1h-4zM16 7h1v1h-1zM18 7h2v1h-2zM17 9h2v1h-2zM16 10h1v1h-1zM18 10h1v1h-1zM16 11h1v1h-1zM18 11h1v1h-1zM38 11h1v1h-1zM16 12h2v1h-2zM37 12h1v1h-1zM15 13h1v1h-1zM17 13h2v1h-2zM36 13h1v1h-1zM18 16h1v1h-1zM33 16h1v1h-1zM17 18h2v1h-2zM15 20h1v1h-1zM17 20h1v1h-1zM29 20h1v1h-1zM14 21h1v1h-1zM17 21h1v1h-1zM27 21h1v1h-1zM14 22h2v1h-2zM27 22h1v1h-1zM16 23h2v1h-2zM26 23h1v1h-1zM15 24h1v1h-1zM17 24h1v1h-1zM16 25h2v1h-2zM19 25h1v1h-1zM23 25h1v1h-1zM12 27h1v1h-1zM22 27h1v1h-1zM17 28h1v1h-1zM13 29h4v1h-4zM20 29h1v1h-1zM13 30h1v1h-1zM12 31h2v1h-2zM17 31h1v1h-1zM12 32h1v1h-1zM14 32h2v1h-2zM16 33h1v1h-1zM10 34h1v1h-1zM12 34h4v1h-4zM11 35h1v1h-1zM11 36h1v1h-1zM7 39h1v1h-1zM10 39h1v1h-1zM9 40h1v1h-1zM5 41h1v1h-1zM1 44h1v1h-1z"/><path fill="#32648e" d="M18 0h1v1h-1zM21 0h1v1h-1zM17 1h1v1h-1zM19 1h2v1h-2zM20 2h1v1h-1zM20 3h1v1h-1zM18 4h1v1h-1zM20 4h1v1h-1zM42 7h1v1h-1zM42 8h1v1h-1zM16 9h1v1h-1zM40 9h1v1h-1zM19 10h1v1h-1zM39 10h2v1h-2zM17 11h1v1h-1zM19 11h1v1h-1zM19 12h1v1h-1zM35 13h1v1h-1zM37 13h1v1h-1zM16 14h1v1h-1zM35 14h1v1h-1zM16 15h3v1h-3zM16 16h2v1h-2zM31 17h1v1h-1zM31 18h1v1h-1zM16 20h1v1h-1zM19 20h1v1h-1zM18 22h1v1h-1zM15 23h1v1h-1zM16 24h1v1h-1zM25 24h1v1h-1zM20 25h1v1h-1zM22 25h1v1h-1zM15 26h1v1h-1zM17 26h1v1h-1zM22 26h1v1h-1zM17 27h1v1h-1zM19 27h1v1h-1zM15 28h2v1h-2zM20 28h1v1h-1zM17 29h3v1h-3zM14 30h1v1h-1zM16 30h1v1h-1zM13 32h1v1h-1zM16 32h1v1h-1zM14 33h1v1h-1zM12 35h1v1h-1zM14 35h1v1h-1zM12 36h1v1h-1zM8 39h2v1h-2zM6 41h1v1h-1zM6 42h2v1h-2zM4 43h1v1h-1zM3 44h1v1h-1zM5 44h1v1h-1zM2 45h1v1h-1zM4 45h1v1h-1zM1 46h2v1h-2zM2 47h1v1h-1zM1 49h1v1h-1z"/><path fill="#31688e" d="M20 0h1v1h-1zM21 1h1v1h-1zM19 2h1v1h-1zM21 2h2v1h-2zM19 4h1v1h-1zM21 4h1v1h-1zM19 5h1v1h-1zM20 6h1v1h-1zM20 7h1v1h-1zM41 7h1v1h-1zM18 8h1v1h-1zM20 8h1v1h-1zM40 8h2v1h-2zM39 9h1v1h-1zM41 9h1v1h-1zM38 10h1v1h-1zM39 11h1v1h-1zM18 12h1v1h-1zM20 12h1v1h-1zM19 14h2v1h-2zM34 14h1v1h-1zM19 15h1v1h-1zM33 15h2v1h-2zM31 16h2v1h-2zM19 17h1v1h-1zM32 17h1v1h-1zM18 19h1v1h-1zM30 19h1v1h-1zM20 20h1v1h-1zM27 20h2v1h-2zM16 21h1v1h-1zM18 21h2v1h-2zM28 21h1v1h-1zM16 22h2v1h-2zM19 22h1v1h-1zM18 24h1v1h-1zM20 24h1v1h-1zM24 24h1v1h-1zM18 25h1v1h-1zM16 26h1v1h-1zM18 26h1v1h-1zM20 26h2v1h-2zM23 26h1v1h-1zM16 27h1v1h-1zM20 27h1v1h-1zM17 30h1v1h-1zM19 30h1v1h-1zM16 31h1v1h-1zM18 31h1v1h-1zM17 32h1v1h-1zM8 40h1v1h-1zM8 41h1v1h-1zM3 45h1v1h-1zM1 47h1v1h-1zM1 48h1v1h-1zM0 50h1v1h-1z"/><path fill="#2f6c8e" d="M22 0h2v1h-2zM22 1h1v1h-1zM21 3h1v1h-1zM21 5h1v1h-1zM43 5h1v1h-1zM21 6h1v1h-1zM43 6h1v1h-1zM43 7h1v1h-1zM37 10h1v1h-1zM21 11h1v1h-1zM37 11h1v1h-1zM36 12h1v1h-1zM38 12h1v1h-1zM18 14h1v1h-1zM21 15h1v1h-1zM32 15h1v1h-1zM19 16h1v1h-1zM20 17h1v1h-1zM33 17h1v1h-1zM28 18h1v1h-1zM30 18h1v1h-1zM19 19h1v1h-1zM29 19h1v1h-1zM18 20h1v1h-1zM20 21h1v1h-1zM25 21h1v1h-1zM21 22h1v1h-1zM24 22h1v1h-1zM26 22h1v1h-1zM19 23h1v1h-1zM22 23h1v1h-1zM23 24h1v1h-1zM18 27h1v1h-1zM18 28h2v1h-2zM13 36h1v1h-1zM12 37h1v1h-1zM11 38h1v1h-1zM6 43h1v1h-1zM3 46h1v1h-1z"/><path fill="#2d708e" d="M24 0h1v1h-1zM23 2h2v1h-2zM22 4h2v1h-2zM45 4h1v1h-1zM20 5h1v1h-1zM44 5h1v1h-1zM22 6h1v1h-1zM42 6h1v1h-1zM40 7h1v1h-1zM19 8h1v1h-1zM19 9h1v1h-1zM21 9h1v1h-1zM20 10h1v1h-1zM20 11h1v1h-1zM22 11h1v1h-1zM36 11h1v1h-1zM21 12h2v1h-2zM35 12h1v1h-1zM19 13h2v1h-2zM34 13h1v1h-1zM22 14h1v1h-1zM20 15h1v1h-1zM22 15h1v1h-1zM35 15h1v1h-1zM20 16h2v1h-2zM34 16h1v1h-1zM22 17h1v1h-1zM29 17h1v1h-1zM19 18h2v1h-2zM20 19h1v1h-1zM27 19h2v1h-2zM21 20h1v1h-1zM30 20h1v1h-1zM24 21h1v1h-1zM26 21h1v1h-1zM20 22h1v1h-1zM25 22h1v1h-1zM18 23h1v1h-1zM21 23h1v1h-1zM23 23h2v1h-2zM19 24h1v1h-1zM19 26h1v1h-1zM4 46h1v1h-1zM3 47h1v1h-1zM1 50h1v1h-1z"/><path fill="#2c738e" d="M26 1h1v1h-1zM47 2h1v1h-1zM22 3h1v1h-1zM46 3h1v1h-1zM23 6h1v1h-1zM21 7h1v1h-1zM23 7h1v1h-1zM39 8h1v1h-1zM20 9h1v1h-1zM38 9h1v1h-1zM21 13h3v1h-3zM23 14h1v1h-1zM36 14h1v1h-1zM30 16h1v1h-1zM21 17h1v1h-1zM30 17h1v1h-1zM22 18h1v1h-1zM29 18h1v1h-1zM32 18h1v1h-1zM31 19h1v1h-1zM20 23h1v1h-1zM21 24h1v1h-1zM21 25h1v1h-1z"/><path fill="#2a778e" d="M25 0h3v1h-3zM23 1h3v1h-3zM47 1h1v1h-1zM26 2h1v1h-1zM46 2h1v1h-1zM23 3h1v1h-1zM22 5h1v1h-1zM45 5h1v1h-1zM24 6h2v1h-2zM44 6h1v1h-1zM22 7h1v1h-1zM24 7h1v1h-1zM21 8h2v1h-2zM24 8h1v1h-1zM22 9h1v1h-1zM24 9h1v1h-1zM37 9h1v1h-1zM21 10h1v1h-1zM23 10h2v1h-2zM34 12h1v1h-1zM33 13h1v1h-1zM21 14h1v1h-1zM33 14h1v1h-1zM23 15h1v1h-1zM23 16h1v1h-1zM29 16h1v1h-1zM23 17h1v1h-1zM28 17h1v1h-1zM27 18h1v1h-1zM21 19h1v1h-1zM23 19h1v1h-1zM24 20h1v1h-1zM26 20h1v1h-1zM21 21h2v1h-2zM22 22h1v1h-1zM22 24h1v1h-1zM19 31h1v1h-1zM18 32h1v1h-1zM17 33h1v1h-1zM15 35h1v1h-1zM14 36h1v1h-1zM5 45h1v1h-1zM2 48h1v1h-1z"/><path fill="#297b8e" d="M28 0h1v1h-1zM48 1h1v1h-1zM25 2h1v1h-1zM27 2h2v1h-2zM24 3h2v1h-2zM24 4h1v1h-1zM44 4h1v1h-1zM23 5h1v1h-1zM26 6h1v1h-1zM25 7h1v1h-1zM23 8h1v1h-1zM23 9h1v1h-1zM22 10h1v1h-1zM23 12h2v1h-2zM24 13h2v1h-2zM24 14h1v1h-1zM24 15h1v1h-1zM30 15h2v1h-2zM22 16h1v1h-1zM24 16h2v1h-2zM24 17h1v1h-1zM21 18h1v1h-1zM23 18h1v1h-1zM26 18h1v1h-1zM26 19h1v1h-1zM22 20h1v1h-1zM25 20h1v1h-1zM23 21h1v1h-1zM23 22h1v1h-1zM8 42h1v1h-1zM7 43h1v1h-1z"/><path fill="#277f8e" d="M48 0h2v1h-2zM28 1h1v1h-1zM27 3h1v1h-1zM45 3h1v1h-1zM25 4h1v1h-1zM43 4h1v1h-1zM46 4h1v1h-1zM24 5h2v1h-2zM42 5h1v1h-1zM28 6h1v1h-1zM41 6h1v1h-1zM27 7h1v1h-1zM38 8h1v1h-1zM25 9h1v1h-1zM25 10h2v1h-2zM36 10h1v1h-1zM23 11h1v1h-1zM35 11h1v1h-1zM25 14h2v1h-2zM32 14h1v1h-1zM25 15h1v1h-1zM25 17h2v1h-2zM24 18h1v1h-1zM22 19h1v1h-1zM25 19h1v1h-1zM23 20h1v1h-1zM29 21h1v1h-1zM23 27h1v1h-1zM21 29h1v1h-1zM16 34h1v1h-1zM13 37h1v1h-1zM6 44h1v1h-1zM3 48h1v1h-1zM2 49h2v1h-2zM2 50h1v1h-1z"/><path fill="#26828e" d="M29 0h1v1h-1zM27 1h1v1h-1zM30 1h1v1h-1zM29 2h1v1h-1zM26 3h1v1h-1zM28 3h1v1h-1zM26 4h1v1h-1zM28 4h2v1h-2zM26 5h1v1h-1zM27 6h1v1h-1zM40 6h1v1h-1zM28 7h1v1h-1zM26 8h1v1h-1zM26 9h1v1h-1zM27 10h2v1h-2zM24 11h1v1h-1zM26 11h2v1h-2zM25 12h3v1h-3zM26 13h1v1h-1zM31 14h1v1h-1zM29 15h1v1h-1zM28 22h1v1h-1zM24 26h1v1h-1zM20 30h1v1h-1zM12 38h1v1h-1zM5 46h1v1h-1z"/><path fill="#24868e" d="M30 0h2v1h-2zM29 1h1v1h-1zM30 2h1v1h-1zM45 2h1v1h-1zM27 4h1v1h-1zM27 5h1v1h-1zM31 5h1v1h-1zM30 6h1v1h-1zM26 7h1v1h-1zM30 7h1v1h-1zM25 8h1v1h-1zM27 8h1v1h-1zM31 8h1v1h-1zM27 9h2v1h-2zM31 10h1v1h-1zM25 11h1v1h-1zM28 11h2v1h-2zM28 12h2v1h-2zM29 13h1v1h-1zM32 13h1v1h-1zM28 14h1v1h-1zM30 14h1v1h-1zM26 15h2v1h-2zM26 16h3v1h-3zM27 17h1v1h-1zM24 19h1v1h-1zM27 23h1v1h-1zM11 39h1v1h-1zM4 47h1v1h-1zM6 50h1v1h-1z"/><path fill="#238a8d" d="M31 2h1v1h-1zM48 2h1v1h-1zM29 3h1v1h-1zM31 3h1v1h-1zM44 3h1v1h-1zM47 3h1v1h-1zM28 5h1v1h-1zM41 5h1v1h-1zM31 7h1v1h-1zM39 7h1v1h-1zM29 8h1v1h-1zM37 8h1v1h-1zM29 9h1v1h-1zM32 9h1v1h-1zM30 10h1v1h-1zM33 12h1v1h-1zM27 13h1v1h-1zM30 13h1v1h-1zM27 14h1v1h-1zM28 15h1v1h-1zM25 18h1v1h-1zM26 24h1v1h-1zM22 28h1v1h-1zM10 40h1v1h-1zM9 41h1v1h-1zM9 42h1v1h-1zM6 45h2v1h-2zM7 47h1v1h-1zM4 48h1v1h-1zM4 49h2v1h-2zM4 50h1v1h-1z"/><path fill="#218e8d" d="M32 0h1v1h-1zM31 1h2v1h-2zM32 2h1v1h-1zM30 3h1v1h-1zM30 4h2v1h-2zM29 5h2v1h-2zM29 6h1v1h-1zM31 6h2v1h-2zM29 7h1v1h-1zM38 7h1v1h-1zM28 8h1v1h-1zM30 8h1v1h-1zM30 9h1v1h-1zM36 9h1v1h-1zM33 11h2v1h-2zM32 12h1v1h-1zM28 13h1v1h-1zM31 13h1v1h-1zM25 25h1v1h-1zM14 37h1v1h-1zM8 43h1v1h-1zM5 47h1v1h-1zM8 47h1v1h-1zM6 48h3v1h-3zM7 49h1v1h-1zM9 49h1v1h-1zM3 50h1v1h-1z"/><path fill="#20928c" d="M33 0h1v1h-1zM33 1h2v1h-2zM46 1h1v1h-1zM33 2h1v1h-1zM33 3h1v1h-1zM35 3h1v1h-1zM32 5h3v1h-3zM33 6h1v1h-1zM33 7h1v1h-1zM32 8h1v1h-1zM31 9h1v1h-1zM29 10h1v1h-1zM32 10h1v1h-1zM35 10h1v1h-1zM30 11h1v1h-1zM29 14h1v1h-1zM12 39h1v1h-1zM12 41h1v1h-1zM10 42h1v1h-1zM7 44h1v1h-1zM9 44h1v1h-1zM6 46h5v1h-5zM10 47h2v1h-2zM5 48h1v1h-1zM6 49h1v1h-1zM8 49h1v1h-1zM10 49h1v1h-1zM5 50h1v1h-1zM7 50h1v1h-1zM10 50h1v1h-1z"/><path fill="#1f968b" d="M34 0h2v1h-2zM47 0h1v1h-1zM35 1h1v1h-1zM36 2h1v1h-1zM32 3h1v1h-1zM36 3h1v1h-1zM32 4h3v1h-3zM42 4h1v1h-1zM40 5h1v1h-1zM34 6h2v1h-2zM39 6h1v1h-1zM32 7h1v1h-1zM33 8h2v1h-2zM34 9h1v1h-1zM33 10h1v1h-1zM31 11h1v1h-1zM30 12h2v1h-2zM20 31h1v1h-1zM17 34h1v1h-1zM17 35h1v1h-1zM15 37h1v1h-1zM13 40h1v1h-1zM10 41h1v1h-1zM12 42h1v1h-1zM8 44h1v1h-1zM10 44h1v1h-1zM13 44h1v1h-1zM8 45h2v1h-2zM12 46h2v1h-2zM6 47h1v1h-1zM9 48h1v1h-1zM9 50h1v1h-1z"/><path fill="#1f9a8a" d="M36 1h1v1h-1zM49 1h1v1h-1zM34 2h1v1h-1zM44 2h1v1h-1zM34 3h1v1h-1zM43 3h1v1h-1zM36 6h2v1h-2zM34 7h4v1h-4zM33 9h1v1h-1zM35 9h1v1h-1zM34 10h1v1h-1zM32 11h1v1h-1zM24 27h1v1h-1zM22 29h1v1h-1zM18 33h2v1h-2zM16 37h1v1h-1zM14 38h3v1h-3zM11 40h1v1h-1zM14 40h1v1h-1zM11 41h1v1h-1zM13 41h2v1h-2zM11 42h1v1h-1zM14 42h1v1h-1zM9 43h2v1h-2zM14 44h1v1h-1zM10 45h1v1h-1zM9 47h1v1h-1zM14 47h1v1h-1zM10 48h1v1h-1zM13 49h1v1h-1zM8 50h1v1h-1z"/><path fill="#1f9e89" d="M36 0h3v1h-3zM46 0h1v1h-1zM50 0h1v1h-1zM38 1h1v1h-1zM45 1h1v1h-1zM35 2h1v1h-1zM37 2h1v1h-1zM42 3h1v1h-1zM35 4h3v1h-3zM41 4h1v1h-1zM35 8h2v1h-2zM25 26h1v1h-1zM21 30h1v1h-1zM19 32h1v1h-1zM20 33h1v1h-1zM16 35h1v1h-1zM18 35h1v1h-1zM15 36h2v1h-2zM18 36h1v1h-1zM17 37h1v1h-1zM13 38h1v1h-1zM13 39h1v1h-1zM12 40h1v1h-1zM15 41h1v1h-1zM15 42h1v1h-1zM11 43h2v1h-2zM16 43h1v1h-1zM11 44h1v1h-1zM15 44h1v1h-1zM11 45h2v1h-2zM11 46h1v1h-1zM16 46h1v1h-1zM12 47h1v1h-1zM11 48h1v1h-1zM11 49h1v1h-1zM14 49h1v1h-1zM14 50h1v1h-1z"/><path fill="#1fa187" d="M38 3h1v1h-1zM41 3h1v1h-1zM40 4h1v1h-1zM35 5h4v1h-4zM27 24h1v1h-1zM23 28h1v1h-1zM21 31h1v1h-1zM20 32h2v1h-2zM18 34h1v1h-1zM20 34h1v1h-1zM17 36h1v1h-1zM14 39h1v1h-1zM17 39h1v1h-1zM18 40h1v1h-1zM13 42h1v1h-1zM13 43h2v1h-2zM17 43h1v1h-1zM12 44h1v1h-1zM17 44h1v1h-1zM14 45h1v1h-1zM17 45h1v1h-1zM14 46h2v1h-2zM17 46h1v1h-1zM13 47h1v1h-1zM12 48h1v1h-1zM14 48h1v1h-1zM17 48h1v1h-1zM12 49h1v1h-1zM17 49h1v1h-1zM11 50h3v1h-3z"/><path fill="#21a585" d="M37 1h1v1h-1zM39 1h2v1h-2zM44 1h1v1h-1zM39 2h1v1h-1zM43 2h1v1h-1zM40 3h1v1h-1zM39 4h1v1h-1zM39 5h1v1h-1zM38 6h1v1h-1zM29 22h1v1h-1zM28 23h1v1h-1zM26 26h1v1h-1zM23 29h1v1h-1zM22 30h1v1h-1zM23 31h1v1h-1zM19 34h1v1h-1zM18 37h2v1h-2zM17 38h2v1h-2zM15 39h2v1h-2zM19 39h1v1h-1zM15 40h1v1h-1zM17 40h1v1h-1zM19 41h1v1h-1zM15 43h1v1h-1zM19 43h1v1h-1zM16 44h1v1h-1zM13 45h1v1h-1zM15 45h2v1h-2zM15 47h1v1h-1zM13 48h1v1h-1zM15 48h1v1h-1zM18 48h1v1h-1zM15 49h1v1h-1zM15 50h2v1h-2z"/><path fill="#23a983" d="M39 0h1v1h-1zM43 1h1v1h-1zM38 2h1v1h-1zM41 2h1v1h-1zM37 3h1v1h-1zM38 4h1v1h-1zM26 25h1v1h-1zM24 29h1v1h-1zM22 31h1v1h-1zM22 33h1v1h-1zM21 34h1v1h-1zM19 35h3v1h-3zM19 36h1v1h-1zM21 36h1v1h-1zM21 38h1v1h-1zM20 39h1v1h-1zM16 40h1v1h-1zM21 40h1v1h-1zM16 41h2v1h-2zM17 42h1v1h-1zM20 42h1v1h-1zM18 43h1v1h-1zM20 43h1v1h-1zM20 45h1v1h-1zM19 46h1v1h-1zM21 46h1v1h-1zM16 47h2v1h-2zM16 48h1v1h-1zM19 48h1v1h-1z"/><path fill="#26ad81" d="M43 0h1v1h-1zM45 0h1v1h-1zM42 2h1v1h-1zM39 3h1v1h-1zM30 21h1v1h-1zM25 28h1v1h-1zM22 32h1v1h-1zM21 33h1v1h-1zM22 34h1v1h-1zM22 36h1v1h-1zM21 37h1v1h-1zM19 38h1v1h-1zM22 38h1v1h-1zM18 39h1v1h-1zM21 39h1v1h-1zM22 40h1v1h-1zM20 41h1v1h-1zM22 41h1v1h-1zM16 42h1v1h-1zM18 42h1v1h-1zM31 42h1v1h-1zM18 44h3v1h-3zM23 44h1v1h-1zM27 44h1v1h-1zM18 45h2v1h-2zM22 45h1v1h-1zM25 45h2v1h-2zM18 46h1v1h-1zM23 46h1v1h-1zM18 47h1v1h-1zM16 49h1v1h-1zM19 49h1v1h-1z"/><path fill="#2ab07f" d="M41 0h1v1h-1zM44 0h1v1h-1zM42 1h1v1h-1zM40 2h1v1h-1zM40 11h1v1h-1zM38 13h1v1h-1zM37 14h1v1h-1zM36 15h1v1h-1zM32 19h1v1h-1zM31 20h1v1h-1zM27 25h1v1h-1zM25 27h1v1h-1zM24 28h1v1h-1zM26 28h1v1h-1zM25 29h2v1h-2zM23 30h1v1h-1zM24 31h2v1h-2zM24 32h1v1h-1zM23 33h1v1h-1zM23 34h1v1h-1zM24 35h1v1h-1zM20 36h1v1h-1zM24 36h1v1h-1zM20 37h1v1h-1zM24 37h1v1h-1zM23 38h1v1h-1zM22 39h1v1h-1zM19 40h1v1h-1zM18 41h1v1h-1zM21 41h1v1h-1zM24 41h1v1h-1zM19 42h1v1h-1zM22 42h1v1h-1zM22 43h1v1h-1zM21 44h1v1h-1zM21 45h1v1h-1zM23 45h2v1h-2zM20 46h1v1h-1zM22 46h1v1h-1zM24 46h1v1h-1zM19 47h4v1h-4zM20 48h1v1h-1zM18 49h1v1h-1z"/><path fill="#2fb47c" d="M40 0h1v1h-1zM41 1h1v1h-1zM43 8h1v1h-1zM42 9h1v1h-1zM41 10h1v1h-1zM33 18h1v1h-1zM33 19h1v1h-1zM29 23h2v1h-2zM28 24h2v1h-2zM28 25h1v1h-1zM27 26h2v1h-2zM24 30h2v1h-2zM27 30h1v1h-1zM23 32h1v1h-1zM25 33h2v1h-2zM24 34h2v1h-2zM22 35h2v1h-2zM25 37h1v1h-1zM20 38h1v1h-1zM24 38h1v1h-1zM23 39h1v1h-1zM20 40h1v1h-1zM36 40h1v1h-1zM23 41h1v1h-1zM21 42h1v1h-1zM25 42h2v1h-2zM30 42h1v1h-1zM21 43h1v1h-1zM23 43h1v1h-1zM27 43h1v1h-1zM29 43h1v1h-1zM28 44h1v1h-1zM17 50h1v1h-1z"/><path fill="#35b779" d="M42 0h1v1h-1zM45 6h1v1h-1zM44 7h1v1h-1zM39 12h1v1h-1zM35 16h1v1h-1zM34 17h1v1h-1zM32 20h1v1h-1zM31 21h1v1h-1zM30 22h2v1h-2zM26 27h1v1h-1zM27 28h1v1h-1zM27 29h1v1h-1zM27 31h1v1h-1zM26 32h1v1h-1zM24 33h1v1h-1zM25 35h1v1h-1zM23 36h1v1h-1zM26 36h1v1h-1zM22 37h2v1h-2zM27 37h1v1h-1zM25 38h1v1h-1zM25 39h1v1h-1zM38 39h1v1h-1zM23 40h1v1h-1zM25 40h2v1h-2zM35 40h1v1h-1zM32 41h3v1h-3zM23 42h1v1h-1zM32 42h1v1h-1zM24 43h2v1h-2zM28 43h1v1h-1zM30 43h1v1h-1zM22 44h1v1h-1zM24 44h1v1h-1zM26 44h1v1h-1z"/><path fill="#3bbb75" d="M49 2h1v1h-1zM46 5h1v1h-1zM42 10h1v1h-1zM38 14h1v1h-1zM37 15h1v1h-1zM35 17h1v1h-1zM34 18h1v1h-1zM32 21h1v1h-1zM31 24h1v1h-1zM30 25h1v1h-1zM29 26h1v1h-1zM27 27h3v1h-3zM29 29h1v1h-1zM26 30h1v1h-1zM28 30h1v1h-1zM29 31h1v1h-1zM25 32h1v1h-1zM26 34h2v1h-2zM28 35h1v1h-1zM25 36h1v1h-1zM28 36h1v1h-1zM26 37h1v1h-1zM42 37h1v1h-1zM26 38h3v1h-3zM24 39h1v1h-1zM26 39h1v1h-1zM29 39h1v1h-1zM36 39h2v1h-2zM24 40h1v1h-1zM33 40h2v1h-2zM25 41h1v1h-1zM24 42h1v1h-1zM27 42h1v1h-1zM25 44h1v1h-1zM20 49h1v1h-1zM18 50h1v1h-1zM21 50h2v1h-2z"/><path fill="#42be71" d="M50 1h1v1h-1zM48 3h1v1h-1zM43 9h1v1h-1zM40 12h1v1h-1zM39 13h2v1h-2zM36 17h1v1h-1zM32 22h1v1h-1zM31 23h2v1h-2zM28 28h1v1h-1zM28 29h1v1h-1zM30 29h1v1h-1zM26 31h1v1h-1zM27 32h1v1h-1zM29 32h1v1h-1zM27 33h1v1h-1zM29 33h1v1h-1zM48 34h2v1h-2zM26 35h2v1h-2zM29 35h1v1h-1zM27 36h1v1h-1zM44 36h1v1h-1zM30 38h1v1h-1zM28 39h1v1h-1zM27 40h3v1h-3zM26 41h2v1h-2zM30 41h1v1h-1zM28 42h1v1h-1zM26 43h1v1h-1zM31 43h1v1h-1zM25 46h1v1h-1zM23 47h1v1h-1zM21 48h2v1h-2zM21 49h1v1h-1zM25 49h1v1h-1zM19 50h2v1h-2zM23 50h1v1h-1z"/><path fill="#4ac16d" d="M47 4h1v1h-1zM47 5h1v1h-1zM45 7h1v1h-1zM44 8h1v1h-1zM43 10h1v1h-1zM41 11h2v1h-2zM36 16h2v1h-2zM34 19h1v1h-1zM33 20h1v1h-1zM34 21h1v1h-1zM30 24h1v1h-1zM29 25h1v1h-1zM31 25h1v1h-1zM30 26h1v1h-1zM31 27h2v1h-2zM29 30h2v1h-2zM28 31h1v1h-1zM28 32h1v1h-1zM30 32h1v1h-1zM28 33h1v1h-1zM50 33h1v1h-1zM30 35h1v1h-1zM29 36h2v1h-2zM29 37h1v1h-1zM31 37h1v1h-1zM41 37h1v1h-1zM43 37h1v1h-1zM29 38h1v1h-1zM31 38h1v1h-1zM39 38h3v1h-3zM27 39h1v1h-1zM32 40h1v1h-1zM37 40h1v1h-1zM28 41h2v1h-2zM31 41h1v1h-1zM29 42h1v1h-1zM29 44h1v1h-1zM27 45h1v1h-1zM25 47h1v1h-1zM26 48h1v1h-1zM23 49h1v1h-1z"/><path fill="#52c569" d="M49 3h1v1h-1zM41 12h1v1h-1zM41 13h1v1h-1zM38 16h2v1h-2zM35 18h1v1h-1zM37 18h1v1h-1zM34 20h1v1h-1zM33 21h1v1h-1zM35 21h1v1h-1zM34 22h1v1h-1zM33 24h1v1h-1zM32 25h1v1h-1zM31 26h1v1h-1zM30 27h1v1h-1zM29 28h1v1h-1zM31 28h1v1h-1zM33 28h1v1h-1zM31 29h2v1h-2zM31 30h1v1h-1zM30 31h1v1h-1zM31 32h1v1h-1zM33 32h1v1h-1zM28 34h3v1h-3zM32 34h1v1h-1zM46 35h2v1h-2zM31 36h1v1h-1zM45 36h1v1h-1zM28 37h1v1h-1zM33 38h1v1h-1zM38 38h1v1h-1zM30 39h1v1h-1zM32 39h1v1h-1zM35 39h1v1h-1zM30 40h1v1h-1zM35 41h1v1h-1zM24 47h1v1h-1zM28 47h1v1h-1zM25 48h1v1h-1zM22 49h1v1h-1zM27 49h1v1h-1zM25 50h1v1h-1z"/><path fill="#5ac864" d="M50 2h1v1h-1zM50 3h1v1h-1zM48 4h2v1h-2zM48 5h1v1h-1zM46 6h1v1h-1zM46 7h1v1h-1zM42 12h1v1h-1zM39 14h3v1h-3zM38 15h1v1h-1zM33 22h1v1h-1zM35 22h1v1h-1zM32 24h1v1h-1zM32 26h1v1h-1zM33 27h1v1h-1zM30 28h1v1h-1zM31 31h2v1h-2zM32 32h1v1h-1zM34 32h1v1h-1zM30 33h1v1h-1zM34 33h1v1h-1zM31 34h1v1h-1zM33 34h1v1h-1zM31 35h1v1h-1zM48 35h1v1h-1zM33 36h1v1h-1zM30 37h1v1h-1zM32 37h1v1h-1zM34 37h1v1h-1zM39 37h2v1h-2zM32 38h1v1h-1zM34 38h1v1h-1zM37 38h1v1h-1zM33 39h2v1h-2zM39 39h1v1h-1zM31 40h1v1h-1zM33 42h1v1h-1zM30 45h1v1h-1zM26 46h2v1h-2zM27 47h1v1h-1zM31 47h1v1h-1zM23 48h2v1h-2zM27 48h1v1h-1zM29 48h1v1h-1zM24 49h1v1h-1zM26 49h1v1h-1zM30 49h1v1h-1zM33 49h3v1h-3zM37 49h1v1h-1zM24 50h1v1h-1zM26 50h2v1h-2zM29 50h1v1h-1zM33 50h2v1h-2z"/><path fill="#65cb5e" d="M47 7h1v1h-1zM45 8h1v1h-1zM44 9h1v1h-1zM43 11h1v1h-1zM39 15h2v1h-2zM39 17h1v1h-1zM36 18h1v1h-1zM35 19h2v1h-2zM38 19h1v1h-1zM35 20h2v1h-2zM36 21h1v1h-1zM36 22h1v1h-1zM33 23h3v1h-3zM36 24h1v1h-1zM33 26h1v1h-1zM32 28h1v1h-1zM35 28h1v1h-1zM33 29h1v1h-1zM32 30h4v1h-4zM34 31h1v1h-1zM31 33h2v1h-2zM50 34h1v1h-1zM32 35h3v1h-3zM49 35h1v1h-1zM34 36h1v1h-1zM43 36h1v1h-1zM46 36h1v1h-1zM33 37h1v1h-1zM35 37h1v1h-1zM37 37h1v1h-1zM36 38h1v1h-1zM31 39h1v1h-1zM32 44h1v1h-1zM32 45h1v1h-1zM29 46h2v1h-2zM26 47h1v1h-1zM29 47h2v1h-2zM32 47h3v1h-3zM36 47h1v1h-1zM30 48h1v1h-1zM34 48h1v1h-1zM38 48h1v1h-1zM31 49h1v1h-1zM30 50h1v1h-1zM35 50h1v1h-1zM37 50h2v1h-2zM41 50h2v1h-2zM46 50h1v1h-1z"/><path fill="#6ece58" d="M47 6h1v1h-1zM46 8h1v1h-1zM44 10h2v1h-2zM44 11h2v1h-2zM44 12h1v1h-1zM42 13h1v1h-1zM44 13h1v1h-1zM37 17h2v1h-2zM38 18h1v1h-1zM37 19h1v1h-1zM39 19h1v1h-1zM39 20h1v1h-1zM37 21h1v1h-1zM38 22h1v1h-1zM34 24h1v1h-1zM37 24h1v1h-1zM33 25h1v1h-1zM34 26h2v1h-2zM34 27h1v1h-1zM34 28h1v1h-1zM36 29h1v1h-1zM35 32h2v1h-2zM33 33h1v1h-1zM35 33h1v1h-1zM34 34h1v1h-1zM36 34h1v1h-1zM35 35h1v1h-1zM44 35h2v1h-2zM32 36h1v1h-1zM36 36h1v1h-1zM42 36h1v1h-1zM47 36h2v1h-2zM36 37h1v1h-1zM35 38h1v1h-1zM33 43h2v1h-2zM30 44h1v1h-1zM34 44h1v1h-1zM29 45h1v1h-1zM31 45h1v1h-1zM34 45h1v1h-1zM36 45h2v1h-2zM28 46h1v1h-1zM33 46h2v1h-2zM36 46h2v1h-2zM38 47h1v1h-1zM44 47h1v1h-1zM28 48h1v1h-1zM32 48h2v1h-2zM36 48h1v1h-1zM39 48h2v1h-2zM42 48h1v1h-1zM44 48h1v1h-1zM48 48h1v1h-1zM28 49h2v1h-2zM28 50h1v1h-1zM31 50h2v1h-2z"/><path fill="#77d153" d="M50 4h1v1h-1zM50 6h1v1h-1zM48 8h1v1h-1zM45 9h1v1h-1zM43 12h1v1h-1zM40 16h2v1h-2zM40 17h2v1h-2zM40 18h1v1h-1zM37 20h1v1h-1zM40 21h1v1h-1zM37 22h1v1h-1zM39 22h1v1h-1zM37 23h2v1h-2zM35 24h1v1h-1zM34 25h1v1h-1zM36 25h1v1h-1zM35 27h1v1h-1zM38 28h1v1h-1zM34 29h1v1h-1zM37 29h1v1h-1zM36 30h2v1h-2zM33 31h1v1h-1zM35 31h1v1h-1zM37 31h1v1h-1zM38 33h1v1h-1zM47 34h1v1h-1zM37 35h1v1h-1zM35 36h1v1h-1zM40 36h2v1h-2zM44 37h1v1h-1zM46 37h1v1h-1zM38 40h1v1h-1zM35 42h1v1h-1zM37 42h1v1h-1zM35 43h2v1h-2zM38 43h1v1h-1zM31 44h1v1h-1zM33 44h1v1h-1zM28 45h1v1h-1zM35 45h1v1h-1zM39 45h1v1h-1zM45 45h1v1h-1zM31 46h2v1h-2zM40 46h1v1h-1zM42 46h1v1h-1zM48 46h1v1h-1zM37 47h1v1h-1zM41 47h1v1h-1zM48 47h1v1h-1zM31 48h1v1h-1zM35 48h1v1h-1zM37 48h1v1h-1zM41 48h1v1h-1zM46 48h2v1h-2zM32 49h1v1h-1zM36 49h1v1h-1zM38 49h2v1h-2zM41 49h1v1h-1zM44 49h1v1h-1zM46 49h1v1h-1zM36 50h1v1h-1zM39 50h1v1h-1zM44 50h1v1h-1zM47 50h1v1h-1z"/><path fill="#81d34d" d="M49 5h2v1h-2zM48 6h1v1h-1zM48 7h1v1h-1zM47 8h1v1h-1zM47 9h1v1h-1zM46 10h1v1h-1zM45 12h3v1h-3zM45 13h1v1h-1zM42 14h3v1h-3zM46 14h1v1h-1zM41 15h4v1h-4zM42 16h1v1h-1zM43 17h1v1h-1zM39 18h1v1h-1zM41 18h2v1h-2zM40 19h2v1h-2zM40 20h1v1h-1zM42 21h1v1h-1zM40 22h1v1h-1zM36 23h1v1h-1zM40 24h1v1h-1zM35 25h1v1h-1zM37 25h1v1h-1zM36 26h2v1h-2zM36 27h4v1h-4zM36 28h2v1h-2zM35 29h1v1h-1zM40 29h1v1h-1zM39 32h1v1h-1zM36 33h1v1h-1zM39 33h1v1h-1zM35 34h1v1h-1zM38 34h1v1h-1zM36 35h1v1h-1zM41 35h1v1h-1zM38 36h1v1h-1zM38 37h1v1h-1zM45 37h1v1h-1zM47 37h1v1h-1zM44 38h1v1h-1zM40 39h1v1h-1zM39 40h1v1h-1zM41 40h1v1h-1zM36 41h1v1h-1zM39 41h1v1h-1zM34 42h1v1h-1zM40 42h1v1h-1zM32 43h1v1h-1zM39 43h1v1h-1zM42 44h1v1h-1zM45 44h1v1h-1zM48 44h1v1h-1zM33 45h1v1h-1zM38 45h1v1h-1zM41 45h1v1h-1zM43 45h2v1h-2zM48 45h1v1h-1zM35 46h1v1h-1zM38 46h2v1h-2zM50 46h1v1h-1zM35 47h1v1h-1zM40 47h1v1h-1zM43 47h1v1h-1zM45 47h2v1h-2zM50 47h1v1h-1zM43 48h1v1h-1zM45 48h1v1h-1zM50 48h1v1h-1zM40 49h1v1h-1zM42 49h2v1h-2zM47 49h2v1h-2zM50 49h1v1h-1zM40 50h1v1h-1zM43 50h1v1h-1zM45 50h1v1h-1zM48 50h2v1h-2z"/><path fill="#8bd646" d="M49 8h1v1h-1zM46 9h1v1h-1zM49 9h1v1h-1zM47 10h1v1h-1zM49 10h2v1h-2zM48 11h1v1h-1zM43 13h1v1h-1zM45 15h2v1h-2zM43 16h2v1h-2zM38 20h1v1h-1zM41 20h1v1h-1zM43 20h1v1h-1zM38 21h1v1h-1zM41 21h1v1h-1zM42 22h1v1h-1zM39 23h1v1h-1zM42 23h1v1h-1zM38 25h1v1h-1zM40 25h1v1h-1zM40 27h1v1h-1zM38 29h2v1h-2zM40 30h1v1h-1zM36 31h1v1h-1zM38 31h1v1h-1zM37 32h1v1h-1zM37 33h1v1h-1zM40 33h1v1h-1zM49 33h1v1h-1zM39 34h1v1h-1zM45 34h1v1h-1zM38 35h2v1h-2zM42 35h1v1h-1zM50 35h1v1h-1zM37 36h1v1h-1zM49 36h2v1h-2zM49 37h1v1h-1zM42 38h2v1h-2zM46 38h1v1h-1zM41 39h1v1h-1zM44 39h3v1h-3zM40 40h1v1h-1zM37 41h1v1h-1zM41 41h3v1h-3zM38 42h1v1h-1zM37 43h1v1h-1zM49 43h1v1h-1zM35 44h5v1h-5zM49 44h1v1h-1zM42 45h1v1h-1zM41 46h1v1h-1zM45 46h1v1h-1zM49 46h1v1h-1zM39 47h1v1h-1zM42 47h1v1h-1zM47 47h1v1h-1zM49 48h1v1h-1zM45 49h1v1h-1zM49 49h1v1h-1zM50 50h1v1h-1z"/><path fill="#95d840" d="M49 6h1v1h-1zM49 7h1v1h-1zM50 8h1v1h-1zM48 9h1v1h-1zM46 11h2v1h-2zM49 12h1v1h-1zM48 14h2v1h-2zM42 17h1v1h-1zM44 18h1v1h-1zM44 19h2v1h-2zM39 21h1v1h-1zM43 21h1v1h-1zM41 22h1v1h-1zM40 23h1v1h-1zM38 24h1v1h-1zM43 24h1v1h-1zM39 25h1v1h-1zM41 25h1v1h-1zM38 26h1v1h-1zM41 26h1v1h-1zM42 27h1v1h-1zM39 28h3v1h-3zM41 29h1v1h-1zM38 30h2v1h-2zM38 32h1v1h-1zM41 32h1v1h-1zM37 34h1v1h-1zM43 35h1v1h-1zM39 36h1v1h-1zM48 37h1v1h-1zM45 38h1v1h-1zM42 39h2v1h-2zM42 40h1v1h-1zM44 40h2v1h-2zM38 41h1v1h-1zM44 41h1v1h-1zM36 42h1v1h-1zM41 42h1v1h-1zM43 42h1v1h-1zM47 42h1v1h-1zM41 43h2v1h-2zM45 43h1v1h-1zM40 44h2v1h-2zM46 44h2v1h-2zM40 45h1v1h-1zM46 45h2v1h-2zM49 45h2v1h-2zM43 46h2v1h-2zM46 46h2v1h-2zM49 47h1v1h-1z"/><path fill="#a0da39" d="M50 7h1v1h-1zM50 9h1v1h-1zM48 10h1v1h-1zM50 12h1v1h-1zM46 13h2v1h-2zM50 13h1v1h-1zM45 14h1v1h-1zM50 15h1v1h-1zM45 16h3v1h-3zM44 17h1v1h-1zM43 18h1v1h-1zM45 18h2v1h-2zM47 19h1v1h-1zM42 20h1v1h-1zM44 20h2v1h-2zM46 21h1v1h-1zM44 22h1v1h-1zM46 22h1v1h-1zM45 23h1v1h-1zM39 24h1v1h-1zM41 24h2v1h-2zM39 26h1v1h-1zM43 26h1v1h-1zM42 28h1v1h-1zM41 30h1v1h-1zM44 30h1v1h-1zM46 30h1v1h-1zM39 31h4v1h-4zM40 32h1v1h-1zM43 32h1v1h-1zM41 33h1v1h-1zM44 33h1v1h-1zM42 34h1v1h-1zM46 34h1v1h-1zM40 35h1v1h-1zM47 38h1v1h-1zM49 38h1v1h-1zM47 39h2v1h-2zM39 42h1v1h-1zM44 42h1v1h-1zM40 43h1v1h-1zM43 43h2v1h-2zM46 43h1v1h-1zM48 43h1v1h-1zM43 44h2v1h-2z"/><path fill="#aadc32" d="M49 11h2v1h-2zM48 12h1v1h-1zM48 13h1v1h-1zM47 14h1v1h-1zM47 15h3v1h-3zM50 16h1v1h-1zM49 17h2v1h-2zM42 19h2v1h-2zM46 19h1v1h-1zM49 19h2v1h-2zM46 20h1v1h-1zM49 20h2v1h-2zM45 21h1v1h-1zM48 22h2v1h-2zM41 23h1v1h-1zM47 23h1v1h-1zM46 24h1v1h-1zM40 26h1v1h-1zM45 29h1v1h-1zM48 29h1v1h-1zM42 30h2v1h-2zM48 30h1v1h-1zM45 31h1v1h-1zM42 32h1v1h-1zM46 32h2v1h-2zM50 32h1v1h-1zM42 33h2v1h-2zM47 33h2v1h-2zM40 34h2v1h-2zM50 37h1v1h-1zM48 38h1v1h-1zM50 38h1v1h-1zM49 39h1v1h-1zM43 40h1v1h-1zM46 40h2v1h-2zM40 41h1v1h-1zM50 41h1v1h-1zM42 42h1v1h-1zM46 42h1v1h-1zM48 42h2v1h-2zM47 43h1v1h-1zM50 43h1v1h-1zM50 44h1v1h-1z"/><path fill="#b5de2b" d="M49 13h1v1h-1zM48 16h2v1h-2zM45 17h4v1h-4zM47 18h1v1h-1zM50 18h1v1h-1zM48 19h1v1h-1zM47 20h2v1h-2zM44 21h1v1h-1zM47 21h1v1h-1zM43 22h1v1h-1zM45 22h1v1h-1zM43 23h2v1h-2zM46 23h1v1h-1zM49 23h1v1h-1zM42 25h1v1h-1zM42 26h1v1h-1zM44 26h1v1h-1zM46 26h1v1h-1zM41 27h1v1h-1zM43 27h3v1h-3zM44 28h1v1h-1zM46 28h1v1h-1zM42 29h1v1h-1zM44 29h1v1h-1zM47 29h1v1h-1zM49 29h2v1h-2zM45 30h1v1h-1zM50 30h1v1h-1zM43 31h2v1h-2zM46 31h1v1h-1zM50 31h1v1h-1zM45 32h1v1h-1zM48 32h2v1h-2zM43 34h2v1h-2zM48 40h2v1h-2zM45 41h2v1h-2zM48 41h2v1h-2zM45 42h1v1h-1zM50 42h1v1h-1z"/><path fill="#c0df25" d="M50 14h1v1h-1zM48 18h1v1h-1zM47 22h1v1h-1zM50 23h1v1h-1zM44 24h2v1h-2zM47 24h1v1h-1zM43 25h1v1h-1zM47 25h1v1h-1zM45 26h1v1h-1zM47 26h1v1h-1zM48 27h1v1h-1zM50 27h1v1h-1zM43 28h1v1h-1zM47 28h1v1h-1zM43 29h1v1h-1zM47 30h1v1h-1zM49 30h1v1h-1zM47 31h1v1h-1zM49 31h1v1h-1zM44 32h1v1h-1zM45 33h2v1h-2zM50 39h1v1h-1zM47 41h1v1h-1z"/><path fill="#cae11f" d="M49 18h1v1h-1zM48 21h3v1h-3zM48 24h1v1h-1zM44 25h3v1h-3zM48 25h1v1h-1zM48 26h1v1h-1zM46 27h1v1h-1zM45 28h1v1h-1zM49 28h2v1h-2zM46 29h1v1h-1zM48 31h1v1h-1zM50 40h1v1h-1z"/><path fill="#d5e21a" d="M50 22h1v1h-1zM48 23h1v1h-1zM49 25h1v1h-1zM49 26h1v1h-1zM47 27h1v1h-1zM49 27h1v1h-1zM48 28h1v1h-1z"/><path fill="#dfe318" d="M50 26h1v1h-1z"/><path fill="#eae51a" d="M49 24h2v1h-2z"/><path fill="#f4e61e" d="M50 25h1v1h-1z"/></g></g><g clip-path="url(#clipA661_0)"><g transform="translate(660.8 0)" fill="none" stroke="#bf00bf" stroke-width="3.3"><path d="M110 162 L126 161.9 Q135 161 141.5 147.4 L184.5 45"/><path d="M110 227 L126 226.9 Q135 226 141.5 215.6 L231 45"/><path d="M110 417.3 L125 417.1 Q133 416.5 139.5 410.8 L460 168.3 L617 45.5"/><path d="M110 419 L125 418.8 Q133 418.2 139.5 413.2 L460 170.6 L627.5 46"/><path d="M291.3 422.3 L631.6 292.1 L640 289"/><path d="M303.5 422.3 L400 385.7 L631.6 300.7 L640 297.6"/><path d="M260.2 205.9 L400.5 45.5" stroke-width="3"/></g></g><g clip-path="url(#clipA661_0)"><g transform="translate(660.8 0)" fill="#bf00bf"><circle cx="207.5" cy="266.1" r="1.45"/><circle cx="214.615" cy="257.9762" r="1.45"/><circle cx="221.8618" cy="249.702" r="1.45"/><circle cx="225.2876" cy="245.7906" r="1.45"/><circle cx="229.1086" cy="241.4278" r="1.45"/><circle cx="232.5344" cy="237.5164" r="1.45"/><circle cx="235.9602" cy="233.605" r="1.45"/><circle cx="239.7812" cy="229.2422" r="1.45"/><circle cx="243.4705" cy="225.0299" r="1.45"/><circle cx="247.028" cy="220.968" r="1.45"/><circle cx="249.6632" cy="217.9592" r="1.45"/><circle cx="253.2866" cy="213.8221" r="1.45"/><circle cx="256.7124" cy="209.9107" r="1.45"/><circle cx="259.8746" cy="206.3001" r="1.45"/></g></g><g transform="translate(660.8 0)" fill="#bf00bf"><circle cx="147.2" cy="58.6" r="1.3"/><circle cx="144.1" cy="66.9" r="1.3"/><circle cx="138.9" cy="79.9" r="1.2"/><circle cx="120.3" cy="96.8" r="1.3"/></g><g clip-path="url(#clipA0_451)"><g transform="translate(116.25 495.5) scale(10.15 7.4)" shape-rendering="crispEdges"><path fill="#470d60" d="M45 46h1v1h-1zM47 46h1v1h-1zM45 47h1v1h-1zM50 48h1v1h-1zM40 49h1v1h-1zM43 49h1v1h-1zM38 50h1v1h-1zM43 50h1v1h-1zM47 50h1v1h-1zM50 50h1v1h-1z"/><path fill="#471365" d="M32 47h1v1h-1zM35 47h1v1h-1zM40 47h2v1h-2zM46 47h2v1h-2zM49 47h2v1h-2zM28 48h1v1h-1zM32 48h1v1h-1zM36 48h4v1h-4zM42 48h2v1h-2zM47 48h2v1h-2zM31 49h2v1h-2zM36 49h1v1h-1zM44 49h3v1h-3zM48 49h1v1h-1zM50 49h1v1h-1zM25 50h2v1h-2zM30 50h1v1h-1zM32 50h1v1h-1zM36 50h1v1h-1zM39 50h1v1h-1zM42 50h1v1h-1zM44 50h2v1h-2z"/><path fill="#48186a" d="M44 44h1v1h-1zM39 45h1v1h-1zM44 45h2v1h-2zM47 45h1v1h-1zM49 45h1v1h-1zM32 46h1v1h-1zM34 46h1v1h-1zM36 46h1v1h-1zM38 46h1v1h-1zM43 46h1v1h-1zM28 47h3v1h-3zM36 47h2v1h-2zM39 47h1v1h-1zM42 47h2v1h-2zM48 47h1v1h-1zM24 48h2v1h-2zM29 48h1v1h-1zM35 48h1v1h-1zM40 48h2v1h-2zM45 48h1v1h-1zM49 48h1v1h-1zM24 49h1v1h-1zM34 49h1v1h-1zM37 49h2v1h-2zM41 49h1v1h-1zM47 49h1v1h-1zM49 49h1v1h-1zM27 50h1v1h-1zM33 50h1v1h-1zM48 50h2v1h-2z"/><path fill="#481d6f" d="M38 43h1v1h-1zM41 43h1v1h-1zM46 43h1v1h-1zM48 43h1v1h-1zM34 44h1v1h-1zM39 44h1v1h-1zM41 44h1v1h-1zM43 44h1v1h-1zM45 44h1v1h-1zM49 44h1v1h-1zM32 45h1v1h-1zM34 45h1v1h-1zM40 45h1v1h-1zM43 45h1v1h-1zM50 45h1v1h-1zM30 46h2v1h-2zM37 46h1v1h-1zM42 46h1v1h-1zM44 46h1v1h-1zM46 46h1v1h-1zM48 46h3v1h-3zM24 47h1v1h-1zM26 47h2v1h-2zM34 47h1v1h-1zM38 47h1v1h-1zM44 47h1v1h-1zM22 48h2v1h-2zM34 48h1v1h-1zM44 48h1v1h-1zM46 48h1v1h-1zM33 49h1v1h-1zM35 49h1v1h-1zM39 49h1v1h-1zM42 49h1v1h-1zM19 50h6v1h-6zM28 50h1v1h-1zM34 50h2v1h-2zM37 50h1v1h-1zM40 50h2v1h-2zM46 50h1v1h-1z"/><path fill="#482374" d="M45 41h1v1h-1zM49 41h2v1h-2zM38 42h1v1h-1zM43 42h1v1h-1zM46 42h1v1h-1zM36 43h1v1h-1zM42 43h1v1h-1zM44 43h1v1h-1zM47 43h1v1h-1zM49 43h1v1h-1zM33 44h1v1h-1zM37 44h1v1h-1zM47 44h2v1h-2zM35 45h1v1h-1zM37 45h1v1h-1zM42 45h1v1h-1zM46 45h1v1h-1zM48 45h1v1h-1zM27 46h1v1h-1zM39 46h3v1h-3zM33 47h1v1h-1zM27 48h1v1h-1zM31 48h1v1h-1zM33 48h1v1h-1zM20 49h1v1h-1zM23 49h1v1h-1zM25 49h1v1h-1zM28 49h3v1h-3zM18 50h1v1h-1zM31 50h1v1h-1z"/><path fill="#482878" d="M46 39h1v1h-1zM50 39h1v1h-1zM45 40h2v1h-2zM50 40h1v1h-1zM40 41h2v1h-2zM43 41h2v1h-2zM48 41h1v1h-1zM40 42h2v1h-2zM47 42h2v1h-2zM43 43h1v1h-1zM45 43h1v1h-1zM50 43h1v1h-1zM32 44h1v1h-1zM36 44h1v1h-1zM40 44h1v1h-1zM42 44h1v1h-1zM46 44h1v1h-1zM50 44h1v1h-1zM28 45h2v1h-2zM31 45h1v1h-1zM33 45h1v1h-1zM36 45h1v1h-1zM38 45h1v1h-1zM41 45h1v1h-1zM26 46h1v1h-1zM29 46h1v1h-1zM33 46h1v1h-1zM35 46h1v1h-1zM25 47h1v1h-1zM31 47h1v1h-1zM26 48h1v1h-1zM30 48h1v1h-1zM19 49h1v1h-1zM22 49h1v1h-1zM26 49h2v1h-2zM17 50h1v1h-1zM29 50h1v1h-1z"/><path fill="#472d7b" d="M46 37h2v1h-2zM44 38h2v1h-2zM40 39h1v1h-1zM43 39h1v1h-1zM47 39h1v1h-1zM42 40h1v1h-1zM47 40h3v1h-3zM37 41h1v1h-1zM39 41h1v1h-1zM46 41h1v1h-1zM34 42h4v1h-4zM42 42h1v1h-1zM44 42h2v1h-2zM49 42h2v1h-2zM35 43h1v1h-1zM40 43h1v1h-1zM31 44h1v1h-1zM35 44h1v1h-1zM38 44h1v1h-1zM30 45h1v1h-1zM28 46h1v1h-1zM21 49h1v1h-1z"/><path fill="#46327e" d="M48 36h1v1h-1zM46 38h1v1h-1zM50 38h1v1h-1zM42 39h1v1h-1zM44 39h2v1h-2zM40 40h2v1h-2zM36 41h1v1h-1zM38 41h1v1h-1zM42 41h1v1h-1zM47 41h1v1h-1zM39 42h1v1h-1zM32 43h3v1h-3zM37 43h1v1h-1zM39 43h1v1h-1zM30 44h1v1h-1zM21 48h1v1h-1z"/><path fill="#453781" d="M50 34h1v1h-1zM45 37h1v1h-1zM49 37h1v1h-1zM48 38h2v1h-2zM48 39h2v1h-2zM38 40h1v1h-1zM43 40h2v1h-2zM33 42h1v1h-1zM29 44h1v1h-1zM16 49h1v1h-1zM15 50h2v1h-2z"/><path fill="#443b84" d="M49 34h1v1h-1zM50 35h1v1h-1zM44 37h1v1h-1zM48 37h1v1h-1zM50 37h1v1h-1zM43 38h1v1h-1zM47 38h1v1h-1zM39 39h1v1h-1zM41 39h1v1h-1zM39 40h1v1h-1zM35 41h1v1h-1zM27 45h1v1h-1zM25 46h1v1h-1zM23 47h1v1h-1zM17 48h1v1h-1zM10 49h1v1h-1zM12 49h2v1h-2zM17 49h1v1h-1zM11 50h4v1h-4z"/><path fill="#424086" d="M49 35h1v1h-1zM46 36h2v1h-2zM49 36h2v1h-2zM42 38h1v1h-1zM31 43h1v1h-1zM27 44h1v1h-1zM23 45h2v1h-2zM26 45h1v1h-1zM20 46h1v1h-1zM15 47h1v1h-1zM20 47h1v1h-1zM12 48h1v1h-1zM15 48h1v1h-1zM18 48h1v1h-1zM20 48h1v1h-1zM18 49h1v1h-1zM0 50h1v1h-1zM8 50h2v1h-2z"/><path fill="#404588" d="M48 35h1v1h-1zM45 36h1v1h-1zM42 37h2v1h-2zM41 38h1v1h-1zM28 43h1v1h-1zM30 43h1v1h-1zM19 44h1v1h-1zM16 46h2v1h-2zM21 46h2v1h-2zM24 46h1v1h-1zM10 47h1v1h-1zM14 47h1v1h-1zM18 47h1v1h-1zM21 47h2v1h-2zM16 48h1v1h-1zM5 49h1v1h-1zM7 49h1v1h-1zM9 49h1v1h-1zM15 49h1v1h-1zM3 50h2v1h-2zM7 50h1v1h-1z"/><path fill="#3e4989" d="M46 35h2v1h-2zM40 38h1v1h-1zM37 40h1v1h-1zM26 41h1v1h-1zM29 41h1v1h-1zM31 41h2v1h-2zM19 43h1v1h-1zM22 43h1v1h-1zM24 43h3v1h-3zM29 43h1v1h-1zM22 44h3v1h-3zM28 44h1v1h-1zM22 45h1v1h-1zM9 47h1v1h-1zM11 47h1v1h-1zM13 47h1v1h-1zM5 48h1v1h-1zM9 48h1v1h-1zM11 48h1v1h-1zM13 48h1v1h-1zM19 48h1v1h-1zM8 49h1v1h-1zM14 49h1v1h-1zM2 50h1v1h-1zM10 50h1v1h-1z"/><path fill="#3d4e8a" d="M43 36h2v1h-2zM34 39h2v1h-2zM38 39h1v1h-1zM32 40h2v1h-2zM35 40h1v1h-1zM15 41h2v1h-2zM28 41h1v1h-1zM34 41h1v1h-1zM14 42h2v1h-2zM22 42h1v1h-1zM25 42h1v1h-1zM27 42h1v1h-1zM29 42h2v1h-2zM32 42h1v1h-1zM8 43h2v1h-2zM13 43h2v1h-2zM23 43h1v1h-1zM27 43h1v1h-1zM8 44h1v1h-1zM13 44h1v1h-1zM25 44h2v1h-2zM16 45h1v1h-1zM18 45h1v1h-1zM25 45h1v1h-1zM0 46h1v1h-1zM8 46h1v1h-1zM18 46h2v1h-2zM23 46h1v1h-1zM4 47h1v1h-1zM6 47h1v1h-1zM12 47h1v1h-1zM16 47h2v1h-2zM19 47h1v1h-1zM1 48h3v1h-3zM6 48h3v1h-3zM14 48h1v1h-1zM0 49h2v1h-2zM3 49h1v1h-1zM6 49h1v1h-1zM11 49h1v1h-1zM5 50h2v1h-2z"/><path fill="#3a538b" d="M49 33h1v1h-1zM47 34h1v1h-1zM42 36h1v1h-1zM41 37h1v1h-1zM38 38h1v1h-1zM31 39h2v1h-2zM36 39h1v1h-1zM11 40h1v1h-1zM14 40h1v1h-1zM25 40h1v1h-1zM27 40h2v1h-2zM30 40h1v1h-1zM34 40h1v1h-1zM36 40h1v1h-1zM11 41h1v1h-1zM13 41h2v1h-2zM17 41h1v1h-1zM20 41h3v1h-3zM25 41h1v1h-1zM8 42h1v1h-1zM13 42h1v1h-1zM18 42h3v1h-3zM23 42h1v1h-1zM31 42h1v1h-1zM10 43h1v1h-1zM12 43h1v1h-1zM15 43h3v1h-3zM6 44h1v1h-1zM12 44h1v1h-1zM18 44h1v1h-1zM20 44h1v1h-1zM0 45h1v1h-1zM6 45h2v1h-2zM9 45h1v1h-1zM12 45h1v1h-1zM14 45h1v1h-1zM19 45h3v1h-3zM5 46h1v1h-1zM11 46h1v1h-1zM14 46h2v1h-2zM0 47h2v1h-2zM5 47h1v1h-1zM7 47h2v1h-2zM0 48h1v1h-1zM4 48h1v1h-1zM10 48h1v1h-1zM4 49h1v1h-1zM1 50h1v1h-1z"/><path fill="#38588c" d="M48 33h1v1h-1zM50 33h1v1h-1zM17 34h1v1h-1zM48 34h1v1h-1zM40 36h1v1h-1zM37 37h1v1h-1zM40 37h1v1h-1zM13 38h1v1h-1zM18 38h1v1h-1zM26 38h1v1h-1zM28 38h1v1h-1zM33 38h1v1h-1zM35 38h1v1h-1zM37 38h1v1h-1zM39 38h1v1h-1zM15 39h1v1h-1zM17 39h1v1h-1zM22 39h1v1h-1zM24 39h1v1h-1zM28 39h1v1h-1zM37 39h1v1h-1zM12 40h1v1h-1zM16 40h3v1h-3zM20 40h1v1h-1zM26 40h1v1h-1zM29 40h1v1h-1zM9 41h2v1h-2zM23 41h1v1h-1zM27 41h1v1h-1zM30 41h1v1h-1zM33 41h1v1h-1zM9 42h3v1h-3zM17 42h1v1h-1zM21 42h1v1h-1zM24 42h1v1h-1zM26 42h1v1h-1zM28 42h1v1h-1zM11 43h1v1h-1zM18 43h1v1h-1zM20 43h2v1h-2zM17 44h1v1h-1zM21 44h1v1h-1zM8 45h1v1h-1zM10 45h1v1h-1zM13 45h1v1h-1zM15 45h1v1h-1zM17 45h1v1h-1zM10 46h1v1h-1zM12 46h2v1h-2zM2 47h1v1h-1zM2 49h1v1h-1z"/><path fill="#365c8d" d="M50 32h1v1h-1zM43 34h1v1h-1zM43 35h1v1h-1zM45 35h1v1h-1zM17 36h1v1h-1zM19 36h1v1h-1zM35 36h1v1h-1zM41 36h1v1h-1zM15 37h2v1h-2zM19 37h1v1h-1zM21 37h1v1h-1zM23 37h1v1h-1zM31 37h1v1h-1zM38 37h2v1h-2zM12 38h1v1h-1zM20 38h2v1h-2zM25 38h1v1h-1zM27 38h1v1h-1zM36 38h1v1h-1zM13 39h2v1h-2zM19 39h2v1h-2zM23 39h1v1h-1zM25 39h2v1h-2zM29 39h1v1h-1zM33 39h1v1h-1zM10 40h1v1h-1zM13 40h1v1h-1zM22 40h3v1h-3zM31 40h1v1h-1zM12 41h1v1h-1zM18 41h2v1h-2zM24 41h1v1h-1zM5 43h1v1h-1zM7 43h1v1h-1zM3 44h1v1h-1zM5 44h1v1h-1zM7 44h1v1h-1zM9 44h3v1h-3zM14 44h3v1h-3zM5 45h1v1h-1zM11 45h1v1h-1zM3 46h2v1h-2zM6 46h2v1h-2zM9 46h1v1h-1z"/><path fill="#34608d" d="M24 27h1v1h-1zM23 29h1v1h-1zM20 31h1v1h-1zM20 32h1v1h-1zM19 33h1v1h-1zM45 33h1v1h-1zM47 33h1v1h-1zM18 34h1v1h-1zM16 35h2v1h-2zM21 35h1v1h-1zM41 35h2v1h-2zM44 35h1v1h-1zM14 36h1v1h-1zM20 36h2v1h-2zM24 36h1v1h-1zM14 37h1v1h-1zM17 37h2v1h-2zM20 37h1v1h-1zM33 37h2v1h-2zM15 38h3v1h-3zM19 38h1v1h-1zM23 38h1v1h-1zM31 38h1v1h-1zM34 38h1v1h-1zM12 39h1v1h-1zM16 39h1v1h-1zM18 39h1v1h-1zM21 39h1v1h-1zM27 39h1v1h-1zM30 39h1v1h-1zM15 40h1v1h-1zM19 40h1v1h-1zM21 40h1v1h-1zM0 41h1v1h-1zM7 41h1v1h-1zM0 42h1v1h-1zM5 42h2v1h-2zM12 42h1v1h-1zM16 42h1v1h-1zM0 43h1v1h-1zM4 43h1v1h-1zM6 43h1v1h-1zM0 44h1v1h-1zM1 45h1v1h-1zM3 45h2v1h-2zM1 46h1v1h-1zM3 47h1v1h-1z"/><path fill="#32648e" d="M30 21h1v1h-1zM28 24h1v1h-1zM25 25h4v1h-4zM24 26h2v1h-2zM25 27h1v1h-1zM22 28h1v1h-1zM26 28h1v1h-1zM21 30h1v1h-1zM23 30h4v1h-4zM19 31h1v1h-1zM21 31h1v1h-1zM49 32h1v1h-1zM18 33h1v1h-1zM20 33h1v1h-1zM24 33h1v1h-1zM42 33h1v1h-1zM46 33h1v1h-1zM19 34h1v1h-1zM34 34h1v1h-1zM40 34h1v1h-1zM42 34h1v1h-1zM44 34h1v1h-1zM46 34h1v1h-1zM15 35h1v1h-1zM18 35h1v1h-1zM20 35h1v1h-1zM22 35h1v1h-1zM24 35h1v1h-1zM27 35h1v1h-1zM33 35h2v1h-2zM40 35h1v1h-1zM15 36h1v1h-1zM23 36h1v1h-1zM26 36h1v1h-1zM29 36h2v1h-2zM33 36h2v1h-2zM38 36h2v1h-2zM13 37h1v1h-1zM22 37h1v1h-1zM24 37h1v1h-1zM29 37h1v1h-1zM32 37h1v1h-1zM36 37h1v1h-1zM14 38h1v1h-1zM22 38h1v1h-1zM24 38h1v1h-1zM29 38h2v1h-2zM32 38h1v1h-1zM11 39h1v1h-1zM7 40h3v1h-3zM6 41h1v1h-1zM8 41h1v1h-1zM7 42h1v1h-1zM3 43h1v1h-1zM1 44h1v1h-1zM2 46h1v1h-1z"/><path fill="#31688e" d="M38 13h1v1h-1zM36 15h1v1h-1zM36 16h1v1h-1zM33 18h1v1h-1zM32 19h1v1h-1zM29 22h1v1h-1zM29 23h2v1h-2zM27 24h1v1h-1zM29 25h1v1h-1zM26 26h2v1h-2zM23 28h2v1h-2zM28 28h1v1h-1zM21 29h2v1h-2zM24 29h2v1h-2zM28 29h2v1h-2zM22 30h1v1h-1zM28 30h1v1h-1zM22 31h1v1h-1zM25 31h2v1h-2zM22 32h1v1h-1zM24 32h2v1h-2zM27 32h1v1h-1zM45 32h2v1h-2zM21 33h1v1h-1zM23 33h1v1h-1zM25 33h3v1h-3zM35 33h1v1h-1zM20 34h1v1h-1zM22 34h2v1h-2zM27 34h1v1h-1zM32 34h2v1h-2zM41 34h1v1h-1zM45 34h1v1h-1zM19 35h1v1h-1zM23 35h1v1h-1zM31 35h2v1h-2zM36 35h3v1h-3zM16 36h1v1h-1zM18 36h1v1h-1zM22 36h1v1h-1zM25 36h1v1h-1zM27 36h2v1h-2zM32 36h1v1h-1zM36 36h2v1h-2zM26 37h3v1h-3zM30 37h1v1h-1zM35 37h1v1h-1zM11 38h1v1h-1zM0 40h1v1h-1zM4 44h1v1h-1zM2 45h1v1h-1z"/><path fill="#2f6c8e" d="M41 10h1v1h-1zM40 11h1v1h-1zM38 14h1v1h-1zM38 15h1v1h-1zM35 16h1v1h-1zM35 17h1v1h-1zM35 18h1v1h-1zM33 19h1v1h-1zM31 20h1v1h-1zM31 21h1v1h-1zM30 22h2v1h-2zM27 23h1v1h-1zM31 23h1v1h-1zM34 23h1v1h-1zM26 24h1v1h-1zM31 24h1v1h-1zM33 24h1v1h-1zM29 26h3v1h-3zM27 27h5v1h-5zM27 30h1v1h-1zM29 30h1v1h-1zM33 30h2v1h-2zM23 31h2v1h-2zM27 31h1v1h-1zM44 31h2v1h-2zM49 31h1v1h-1zM19 32h1v1h-1zM21 32h1v1h-1zM26 32h1v1h-1zM28 32h2v1h-2zM32 32h1v1h-1zM34 32h2v1h-2zM43 32h1v1h-1zM47 32h1v1h-1zM17 33h1v1h-1zM28 33h2v1h-2zM31 33h1v1h-1zM33 33h1v1h-1zM37 33h2v1h-2zM41 33h1v1h-1zM44 33h1v1h-1zM16 34h1v1h-1zM21 34h1v1h-1zM24 34h3v1h-3zM28 34h1v1h-1zM30 34h2v1h-2zM36 34h1v1h-1zM39 34h1v1h-1zM25 35h2v1h-2zM28 35h3v1h-3zM35 35h1v1h-1zM39 35h1v1h-1zM31 36h1v1h-1zM25 37h1v1h-1zM10 38h1v1h-1zM8 39h3v1h-3zM5 41h1v1h-1zM1 42h3v1h-3zM2 43h1v1h-1zM2 44h1v1h-1z"/><path fill="#2d708e" d="M45 8h1v1h-1zM45 10h1v1h-1zM41 11h2v1h-2zM40 12h1v1h-1zM42 13h1v1h-1zM37 14h1v1h-1zM34 18h1v1h-1zM31 19h1v1h-1zM34 19h1v1h-1zM32 20h3v1h-3zM29 21h1v1h-1zM34 21h1v1h-1zM28 22h1v1h-1zM34 22h1v1h-1zM28 23h1v1h-1zM36 24h1v1h-1zM30 25h1v1h-1zM36 25h1v1h-1zM28 26h1v1h-1zM32 26h1v1h-1zM34 26h1v1h-1zM23 27h1v1h-1zM26 27h1v1h-1zM34 27h1v1h-1zM25 28h1v1h-1zM32 28h1v1h-1zM36 28h1v1h-1zM26 29h1v1h-1zM36 29h1v1h-1zM20 30h1v1h-1zM49 30h1v1h-1zM28 31h3v1h-3zM34 31h1v1h-1zM37 31h2v1h-2zM40 31h1v1h-1zM46 31h1v1h-1zM48 31h1v1h-1zM50 31h1v1h-1zM18 32h1v1h-1zM23 32h1v1h-1zM31 32h1v1h-1zM40 32h1v1h-1zM48 32h1v1h-1zM22 33h1v1h-1zM36 33h1v1h-1zM40 33h1v1h-1zM43 33h1v1h-1zM29 34h1v1h-1zM37 34h2v1h-2zM13 36h1v1h-1zM0 39h1v1h-1zM7 39h1v1h-1zM5 40h1v1h-1zM1 41h1v1h-1zM4 41h1v1h-1zM4 42h1v1h-1zM1 43h1v1h-1z"/><path fill="#2c738e" d="M50 3h1v1h-1zM46 5h1v1h-1zM45 6h2v1h-2zM43 8h1v1h-1zM48 8h1v1h-1zM42 9h1v1h-1zM45 9h1v1h-1zM43 10h1v1h-1zM39 12h1v1h-1zM41 12h1v1h-1zM39 13h2v1h-2zM44 13h1v1h-1zM42 14h1v1h-1zM38 16h1v1h-1zM34 17h1v1h-1zM36 17h1v1h-1zM32 18h1v1h-1zM35 19h1v1h-1zM35 20h1v1h-1zM38 20h1v1h-1zM32 21h2v1h-2zM32 22h1v1h-1zM35 22h1v1h-1zM37 22h1v1h-1zM32 23h2v1h-2zM36 23h1v1h-1zM29 24h2v1h-2zM32 24h1v1h-1zM35 24h1v1h-1zM39 24h1v1h-1zM34 25h1v1h-1zM33 26h1v1h-1zM32 27h2v1h-2zM36 27h2v1h-2zM27 28h1v1h-1zM29 28h3v1h-3zM33 28h1v1h-1zM35 28h1v1h-1zM27 29h1v1h-1zM30 29h1v1h-1zM40 29h2v1h-2zM31 30h2v1h-2zM36 30h1v1h-1zM46 30h2v1h-2zM32 31h1v1h-1zM36 31h1v1h-1zM42 31h1v1h-1zM47 31h1v1h-1zM30 32h1v1h-1zM36 32h4v1h-4zM42 32h1v1h-1zM44 32h1v1h-1zM30 33h1v1h-1zM32 33h1v1h-1zM39 33h1v1h-1zM35 34h1v1h-1zM12 37h1v1h-1zM0 38h1v1h-1zM9 38h1v1h-1zM1 40h1v1h-1zM3 41h1v1h-1z"/><path fill="#2a778e" d="M48 3h1v1h-1zM50 4h1v1h-1zM48 6h1v1h-1zM44 7h1v1h-1zM47 7h2v1h-2zM50 7h1v1h-1zM44 8h1v1h-1zM47 8h1v1h-1zM44 9h1v1h-1zM49 9h1v1h-1zM46 10h2v1h-2zM50 11h1v1h-1zM38 12h1v1h-1zM42 12h1v1h-1zM45 12h1v1h-1zM47 12h1v1h-1zM37 13h1v1h-1zM45 13h2v1h-2zM39 14h2v1h-2zM46 14h1v1h-1zM35 15h1v1h-1zM37 15h1v1h-1zM39 15h1v1h-1zM45 15h1v1h-1zM37 16h1v1h-1zM39 16h3v1h-3zM44 16h1v1h-1zM36 18h1v1h-1zM39 18h2v1h-2zM37 19h1v1h-1zM39 19h1v1h-1zM30 20h1v1h-1zM37 20h1v1h-1zM39 20h2v1h-2zM36 21h1v1h-1zM41 21h1v1h-1zM33 22h1v1h-1zM38 22h1v1h-1zM40 22h1v1h-1zM35 23h1v1h-1zM37 23h3v1h-3zM34 24h1v1h-1zM37 24h1v1h-1zM31 25h3v1h-3zM35 25h1v1h-1zM38 25h1v1h-1zM40 25h1v1h-1zM38 26h1v1h-1zM40 26h2v1h-2zM39 27h2v1h-2zM42 27h2v1h-2zM34 28h1v1h-1zM39 28h2v1h-2zM43 28h1v1h-1zM50 28h1v1h-1zM31 29h1v1h-1zM34 29h2v1h-2zM38 29h2v1h-2zM42 29h1v1h-1zM48 29h3v1h-3zM19 30h1v1h-1zM30 30h1v1h-1zM37 30h1v1h-1zM39 30h1v1h-1zM41 30h3v1h-3zM50 30h1v1h-1zM31 31h1v1h-1zM33 31h1v1h-1zM35 31h1v1h-1zM17 32h1v1h-1zM33 32h1v1h-1zM41 32h1v1h-1zM16 33h1v1h-1zM34 33h1v1h-1zM14 35h1v1h-1zM11 37h1v1h-1zM5 39h2v1h-2zM2 40h1v1h-1zM4 40h1v1h-1zM6 40h1v1h-1zM2 41h1v1h-1z"/><path fill="#297b8e" d="M49 3h1v1h-1zM47 4h3v1h-3zM47 5h4v1h-4zM47 6h1v1h-1zM49 6h2v1h-2zM45 7h2v1h-2zM46 8h1v1h-1zM50 8h1v1h-1zM41 9h1v1h-1zM43 9h1v1h-1zM46 9h1v1h-1zM48 9h1v1h-1zM42 10h1v1h-1zM44 10h1v1h-1zM50 10h1v1h-1zM39 11h1v1h-1zM44 11h1v1h-1zM47 11h1v1h-1zM49 11h1v1h-1zM48 12h2v1h-2zM41 13h1v1h-1zM48 13h2v1h-2zM36 14h1v1h-1zM41 14h1v1h-1zM49 14h1v1h-1zM41 15h4v1h-4zM34 16h1v1h-1zM45 16h1v1h-1zM33 17h1v1h-1zM37 17h1v1h-1zM40 17h1v1h-1zM42 17h2v1h-2zM37 18h2v1h-2zM43 18h1v1h-1zM36 19h1v1h-1zM40 19h2v1h-2zM36 20h1v1h-1zM42 20h2v1h-2zM35 21h1v1h-1zM38 21h1v1h-1zM42 21h2v1h-2zM36 22h1v1h-1zM44 22h1v1h-1zM46 22h2v1h-2zM40 23h2v1h-2zM43 23h1v1h-1zM38 24h1v1h-1zM41 24h1v1h-1zM37 25h1v1h-1zM35 26h1v1h-1zM37 26h1v1h-1zM45 26h1v1h-1zM35 27h1v1h-1zM41 27h1v1h-1zM45 27h1v1h-1zM48 27h1v1h-1zM37 28h2v1h-2zM42 28h1v1h-1zM45 28h2v1h-2zM49 28h1v1h-1zM32 29h2v1h-2zM46 29h1v1h-1zM35 30h1v1h-1zM38 30h1v1h-1zM40 30h1v1h-1zM48 30h1v1h-1zM39 31h1v1h-1zM41 31h1v1h-1zM43 31h1v1h-1zM15 34h1v1h-1zM13 35h1v1h-1zM1 39h1v1h-1zM3 40h1v1h-1z"/><path fill="#277f8e" d="M49 2h2v1h-2zM44 6h1v1h-1zM0 7h1v1h-1zM49 7h1v1h-1zM42 8h1v1h-1zM49 8h1v1h-1zM47 9h1v1h-1zM48 10h2v1h-2zM43 11h1v1h-1zM45 11h2v1h-2zM43 12h2v1h-2zM43 13h1v1h-1zM47 13h1v1h-1zM43 14h1v1h-1zM45 14h1v1h-1zM48 14h1v1h-1zM40 15h1v1h-1zM46 15h3v1h-3zM46 16h1v1h-1zM38 17h2v1h-2zM41 17h1v1h-1zM46 17h1v1h-1zM48 17h1v1h-1zM41 18h1v1h-1zM38 19h1v1h-1zM44 19h3v1h-3zM48 19h1v1h-1zM45 20h1v1h-1zM37 21h1v1h-1zM39 21h2v1h-2zM44 21h1v1h-1zM49 21h1v1h-1zM41 22h1v1h-1zM49 22h1v1h-1zM26 23h1v1h-1zM42 23h1v1h-1zM47 23h1v1h-1zM50 23h1v1h-1zM25 24h1v1h-1zM42 24h1v1h-1zM39 25h1v1h-1zM41 25h2v1h-2zM44 25h2v1h-2zM23 26h1v1h-1zM36 26h1v1h-1zM44 26h1v1h-1zM47 26h1v1h-1zM49 26h1v1h-1zM22 27h1v1h-1zM38 27h1v1h-1zM47 27h1v1h-1zM41 28h1v1h-1zM47 28h2v1h-2zM37 29h1v1h-1zM44 29h2v1h-2zM47 29h1v1h-1zM44 30h2v1h-2zM18 31h1v1h-1zM0 35h1v1h-1zM11 36h2v1h-2zM0 37h1v1h-1zM9 37h2v1h-2z"/><path fill="#26828e" d="M0 1h1v1h-1zM0 3h1v1h-1zM47 3h1v1h-1zM0 4h1v1h-1zM43 7h1v1h-1zM0 9h1v1h-1zM50 9h1v1h-1zM0 10h1v1h-1zM48 11h1v1h-1zM46 12h1v1h-1zM0 13h1v1h-1zM44 14h1v1h-1zM50 14h1v1h-1zM0 16h1v1h-1zM42 16h2v1h-2zM48 16h1v1h-1zM50 16h1v1h-1zM45 17h1v1h-1zM47 17h1v1h-1zM49 17h1v1h-1zM42 18h1v1h-1zM44 18h1v1h-1zM49 18h2v1h-2zM42 19h2v1h-2zM47 19h1v1h-1zM49 19h2v1h-2zM41 20h1v1h-1zM44 20h1v1h-1zM50 20h1v1h-1zM27 22h1v1h-1zM39 22h1v1h-1zM42 22h2v1h-2zM48 22h1v1h-1zM50 22h1v1h-1zM40 24h1v1h-1zM45 24h1v1h-1zM43 25h1v1h-1zM46 25h1v1h-1zM48 25h1v1h-1zM39 26h1v1h-1zM42 26h2v1h-2zM46 26h1v1h-1zM50 26h1v1h-1zM46 27h1v1h-1zM50 27h1v1h-1zM21 28h1v1h-1zM44 28h1v1h-1zM43 29h1v1h-1zM0 36h1v1h-1zM5 38h1v1h-1zM8 38h1v1h-1zM2 39h3v1h-3z"/><path fill="#24868e" d="M0 0h1v1h-1zM50 1h1v1h-1zM0 6h1v1h-1zM40 10h1v1h-1zM50 12h1v1h-1zM50 13h1v1h-1zM47 14h1v1h-1zM0 17h1v1h-1zM44 17h1v1h-1zM0 18h1v1h-1zM46 18h1v1h-1zM46 20h4v1h-4zM28 21h1v1h-1zM46 21h2v1h-2zM44 23h3v1h-3zM43 24h2v1h-2zM46 24h4v1h-4zM47 25h1v1h-1zM50 25h1v1h-1zM48 26h1v1h-1zM44 27h1v1h-1zM49 27h1v1h-1zM20 29h1v1h-1zM16 32h1v1h-1zM12 35h1v1h-1zM4 37h1v1h-1zM8 37h1v1h-1zM1 38h3v1h-3zM6 38h2v1h-2z"/><path fill="#238a8d" d="M50 0h1v1h-1zM49 1h1v1h-1zM0 2h1v1h-1zM48 2h1v1h-1zM0 8h1v1h-1zM0 11h1v1h-1zM0 12h1v1h-1zM0 14h1v1h-1zM49 15h2v1h-2zM47 16h1v1h-1zM49 16h1v1h-1zM50 17h1v1h-1zM45 18h1v1h-1zM47 18h1v1h-1zM30 19h1v1h-1zM29 20h1v1h-1zM45 21h1v1h-1zM48 21h1v1h-1zM50 21h1v1h-1zM45 22h1v1h-1zM48 23h2v1h-2zM50 24h1v1h-1zM24 25h1v1h-1zM49 25h1v1h-1zM0 28h1v1h-1zM0 30h1v1h-1zM0 31h1v1h-1zM17 31h1v1h-1zM0 32h1v1h-1zM0 33h1v1h-1zM0 34h1v1h-1zM13 34h2v1h-2zM9 36h1v1h-1zM3 37h1v1h-1zM5 37h1v1h-1zM4 38h1v1h-1z"/><path fill="#218e8d" d="M46 4h1v1h-1zM0 5h1v1h-1zM45 5h1v1h-1zM38 11h1v1h-1zM0 15h1v1h-1zM31 18h1v1h-1zM48 18h1v1h-1zM0 25h1v1h-1zM0 27h1v1h-1zM19 29h1v1h-1zM15 33h1v1h-1zM1 35h2v1h-2zM4 35h1v1h-1zM10 35h1v1h-1zM3 36h1v1h-1zM10 36h1v1h-1zM1 37h1v1h-1zM6 37h2v1h-2z"/><path fill="#20928c" d="M47 2h1v1h-1zM1 5h1v1h-1zM43 6h1v1h-1zM39 10h1v1h-1zM36 13h1v1h-1zM1 15h1v1h-1zM0 19h1v1h-1zM0 20h1v1h-1zM0 21h1v1h-1zM0 24h1v1h-1zM0 26h1v1h-1zM0 29h1v1h-1zM16 31h1v1h-1zM14 33h1v1h-1zM1 34h2v1h-2zM3 35h1v1h-1zM2 36h1v1h-1zM7 36h2v1h-2zM2 37h1v1h-1z"/><path fill="#1f968b" d="M2 0h1v1h-1zM1 1h2v1h-2zM48 1h1v1h-1zM46 3h1v1h-1zM1 4h1v1h-1zM1 7h1v1h-1zM42 7h1v1h-1zM1 9h1v1h-1zM2 11h1v1h-1zM1 12h1v1h-1zM37 12h1v1h-1zM35 14h1v1h-1zM33 16h1v1h-1zM0 22h1v1h-1zM20 28h1v1h-1zM17 30h2v1h-2zM1 32h1v1h-1zM15 32h1v1h-1zM12 34h1v1h-1zM8 35h2v1h-2zM11 35h1v1h-1zM1 36h1v1h-1zM4 36h1v1h-1zM6 36h1v1h-1z"/><path fill="#1f9a8a" d="M1 0h1v1h-1zM49 0h1v1h-1zM3 5h1v1h-1zM44 5h1v1h-1zM41 8h1v1h-1zM40 9h1v1h-1zM1 13h1v1h-1zM34 15h1v1h-1zM1 16h1v1h-1zM32 17h1v1h-1zM1 18h1v1h-1zM29 19h1v1h-1zM28 20h1v1h-1zM0 23h1v1h-1zM1 29h1v1h-1zM2 32h1v1h-1zM14 32h1v1h-1zM2 33h1v1h-1zM3 34h1v1h-1zM5 36h1v1h-1z"/><path fill="#1f9e89" d="M3 0h1v1h-1zM48 0h1v1h-1zM3 1h1v1h-1zM1 2h1v1h-1zM1 3h2v1h-2zM2 4h1v1h-1zM45 4h1v1h-1zM1 6h2v1h-2zM41 7h1v1h-1zM3 9h1v1h-1zM39 9h1v1h-1zM1 10h1v1h-1zM3 10h1v1h-1zM2 13h1v1h-1zM35 13h1v1h-1zM1 14h1v1h-1zM34 14h1v1h-1zM27 21h1v1h-1zM25 23h1v1h-1zM24 24h1v1h-1zM23 25h1v1h-1zM22 26h1v1h-1zM21 27h1v1h-1zM2 30h1v1h-1zM1 31h4v1h-4zM15 31h1v1h-1zM3 32h1v1h-1zM1 33h1v1h-1zM3 33h1v1h-1zM4 34h1v1h-1zM9 34h1v1h-1zM5 35h1v1h-1zM7 35h1v1h-1z"/><path fill="#1fa187" d="M4 1h1v1h-1zM47 1h1v1h-1zM2 2h3v1h-3zM3 4h1v1h-1zM44 4h1v1h-1zM2 5h1v1h-1zM3 6h1v1h-1zM1 8h1v1h-1zM1 11h1v1h-1zM3 11h1v1h-1zM37 11h1v1h-1zM2 12h1v1h-1zM3 13h1v1h-1zM2 15h1v1h-1zM1 17h1v1h-1zM1 19h1v1h-1zM1 24h1v1h-1zM1 26h1v1h-1zM1 28h1v1h-1zM5 32h1v1h-1zM13 32h1v1h-1zM4 33h2v1h-2zM12 33h2v1h-2zM5 34h1v1h-1zM10 34h2v1h-2zM6 35h1v1h-1z"/><path fill="#21a585" d="M46 2h1v1h-1zM4 3h1v1h-1zM44 3h1v1h-1zM43 4h1v1h-1zM43 5h1v1h-1zM2 7h1v1h-1zM2 8h3v1h-3zM2 9h1v1h-1zM2 10h1v1h-1zM4 10h1v1h-1zM3 12h1v1h-1zM2 14h1v1h-1zM33 15h1v1h-1zM32 16h1v1h-1zM31 17h1v1h-1zM30 18h1v1h-1zM26 22h1v1h-1zM23 24h1v1h-1zM2 25h1v1h-1zM22 25h1v1h-1zM3 29h2v1h-2zM18 29h1v1h-1zM1 30h1v1h-1zM3 30h1v1h-1zM5 31h1v1h-1zM7 32h1v1h-1zM7 33h1v1h-1zM6 34h1v1h-1z"/><path fill="#23a983" d="M4 0h1v1h-1zM47 0h1v1h-1zM46 1h1v1h-1zM5 2h1v1h-1zM45 2h1v1h-1zM3 3h1v1h-1zM45 3h1v1h-1zM4 4h1v1h-1zM5 6h1v1h-1zM42 6h1v1h-1zM3 7h3v1h-3zM40 8h1v1h-1zM4 9h1v1h-1zM37 10h2v1h-2zM35 12h2v1h-2zM3 14h1v1h-1zM2 16h1v1h-1zM31 16h1v1h-1zM2 19h1v1h-1zM28 19h1v1h-1zM1 20h1v1h-1zM26 21h1v1h-1zM1 22h1v1h-1zM25 22h1v1h-1zM1 23h1v1h-1zM2 24h1v1h-1zM3 25h1v1h-1zM3 26h1v1h-1zM21 26h1v1h-1zM1 27h1v1h-1zM20 27h1v1h-1zM2 28h3v1h-3zM18 28h2v1h-2zM2 29h1v1h-1zM5 29h1v1h-1zM17 29h1v1h-1zM5 30h1v1h-1zM6 31h1v1h-1zM14 31h1v1h-1zM4 32h1v1h-1zM6 32h1v1h-1zM11 32h1v1h-1zM6 33h1v1h-1zM9 33h3v1h-3zM7 34h2v1h-2z"/><path fill="#26ad81" d="M5 1h1v1h-1zM5 3h1v1h-1zM4 5h1v1h-1zM42 5h1v1h-1zM4 6h1v1h-1zM40 7h1v1h-1zM2 17h1v1h-1zM26 20h1v1h-1zM1 21h2v1h-2zM1 25h1v1h-1zM2 27h2v1h-2zM19 27h1v1h-1zM5 28h1v1h-1zM6 29h1v1h-1zM4 30h1v1h-1zM14 30h3v1h-3zM7 31h1v1h-1zM13 31h1v1h-1zM10 32h1v1h-1z"/><path fill="#2ab07f" d="M5 0h1v1h-1zM5 8h1v1h-1zM38 8h2v1h-2zM38 9h1v1h-1zM4 11h1v1h-1zM36 11h1v1h-1zM4 12h1v1h-1zM33 13h2v1h-2zM33 14h1v1h-1zM30 16h1v1h-1zM29 17h1v1h-1zM2 18h1v1h-1zM29 18h1v1h-1zM2 20h1v1h-1zM2 23h1v1h-1zM4 23h1v1h-1zM24 23h1v1h-1zM2 26h1v1h-1zM4 26h1v1h-1zM4 27h1v1h-1zM6 28h1v1h-1zM6 30h1v1h-1zM8 31h1v1h-1zM10 31h1v1h-1zM12 32h1v1h-1zM8 33h1v1h-1z"/><path fill="#2fb47c" d="M6 0h1v1h-1zM5 4h1v1h-1zM5 5h1v1h-1zM41 6h1v1h-1zM39 7h1v1h-1zM32 14h1v1h-1zM3 15h1v1h-1zM31 15h2v1h-2zM3 16h1v1h-1zM3 17h1v1h-1zM30 17h1v1h-1zM3 18h1v1h-1zM27 19h1v1h-1zM27 20h1v1h-1zM3 21h1v1h-1zM2 22h1v1h-1zM23 23h1v1h-1zM3 24h1v1h-1zM4 25h1v1h-1zM5 26h1v1h-1zM7 26h1v1h-1zM7 27h1v1h-1zM7 28h1v1h-1zM8 29h1v1h-1zM14 29h1v1h-1zM16 29h1v1h-1zM7 30h3v1h-3zM9 31h1v1h-1zM12 31h1v1h-1z"/><path fill="#35b779" d="M46 0h1v1h-1zM45 1h1v1h-1zM44 2h1v1h-1zM6 3h1v1h-1zM43 3h1v1h-1zM6 5h1v1h-1zM41 5h1v1h-1zM40 6h1v1h-1zM5 9h1v1h-1zM37 9h1v1h-1zM36 10h1v1h-1zM28 18h1v1h-1zM4 20h1v1h-1zM25 21h1v1h-1zM3 22h2v1h-2zM24 22h1v1h-1zM3 23h1v1h-1zM8 23h1v1h-1zM5 24h2v1h-2zM5 25h2v1h-2zM8 25h1v1h-1zM21 25h1v1h-1zM20 26h1v1h-1zM5 27h1v1h-1zM8 27h1v1h-1zM15 28h1v1h-1zM17 28h1v1h-1zM7 29h1v1h-1zM12 30h2v1h-2zM11 31h1v1h-1zM8 32h2v1h-2z"/><path fill="#3bbb75" d="M42 3h1v1h-1zM6 4h1v1h-1zM41 4h2v1h-2zM40 5h1v1h-1zM6 6h1v1h-1zM34 11h2v1h-2zM34 12h1v1h-1zM4 13h1v1h-1zM4 14h1v1h-1zM27 18h1v1h-1zM5 19h1v1h-1zM26 19h1v1h-1zM3 20h1v1h-1zM4 21h5v1h-5zM5 22h1v1h-1zM7 22h1v1h-1zM6 23h1v1h-1zM22 23h1v1h-1zM4 24h1v1h-1zM22 24h1v1h-1zM6 26h1v1h-1zM19 26h1v1h-1zM6 27h1v1h-1zM16 27h1v1h-1zM16 28h1v1h-1zM9 29h1v1h-1zM11 29h1v1h-1zM15 29h1v1h-1zM10 30h1v1h-1z"/><path fill="#42be71" d="M40 4h1v1h-1zM6 9h1v1h-1zM5 10h1v1h-1zM5 11h1v1h-1zM5 12h1v1h-1zM33 12h1v1h-1zM32 13h1v1h-1zM30 15h1v1h-1zM4 16h1v1h-1zM29 16h1v1h-1zM7 17h1v1h-1zM28 17h1v1h-1zM9 18h1v1h-1zM3 19h2v1h-2zM7 19h1v1h-1zM7 20h1v1h-1zM25 20h1v1h-1zM6 22h1v1h-1zM5 23h1v1h-1zM7 23h1v1h-1zM7 24h1v1h-1zM9 25h1v1h-1zM9 26h1v1h-1zM10 27h1v1h-1zM15 27h1v1h-1zM18 27h1v1h-1zM8 28h1v1h-1zM10 28h1v1h-1zM12 28h1v1h-1zM13 29h1v1h-1zM11 30h1v1h-1z"/><path fill="#4ac16d" d="M44 0h2v1h-2zM6 1h1v1h-1zM6 2h1v1h-1zM39 5h1v1h-1zM38 6h2v1h-2zM38 7h1v1h-1zM37 8h1v1h-1zM36 9h1v1h-1zM6 10h1v1h-1zM32 12h1v1h-1zM5 14h1v1h-1zM9 14h2v1h-2zM31 14h1v1h-1zM4 15h1v1h-1zM9 16h1v1h-1zM6 17h1v1h-1zM8 17h1v1h-1zM10 17h1v1h-1zM5 18h1v1h-1zM26 18h1v1h-1zM9 19h2v1h-2zM25 19h1v1h-1zM5 20h1v1h-1zM9 20h1v1h-1zM9 21h2v1h-2zM23 21h2v1h-2zM9 22h1v1h-1zM22 22h2v1h-2zM9 24h1v1h-1zM20 24h1v1h-1zM7 25h1v1h-1zM10 25h1v1h-1zM19 25h1v1h-1zM8 26h1v1h-1zM11 26h1v1h-1zM16 26h1v1h-1zM18 26h1v1h-1zM9 27h1v1h-1zM11 27h1v1h-1zM17 27h1v1h-1zM9 28h1v1h-1zM13 28h2v1h-2zM10 29h1v1h-1zM12 29h1v1h-1z"/><path fill="#52c569" d="M7 0h1v1h-1zM43 0h1v1h-1zM43 1h2v1h-2zM41 2h1v1h-1zM43 2h1v1h-1zM7 4h1v1h-1zM6 7h1v1h-1zM37 7h1v1h-1zM6 8h1v1h-1zM35 10h1v1h-1zM6 11h1v1h-1zM13 11h1v1h-1zM12 13h1v1h-1zM31 13h1v1h-1zM6 16h1v1h-1zM11 16h1v1h-1zM4 17h1v1h-1zM9 17h1v1h-1zM11 17h1v1h-1zM6 18h3v1h-3zM6 19h1v1h-1zM8 19h1v1h-1zM6 20h1v1h-1zM8 20h1v1h-1zM8 22h1v1h-1zM10 23h1v1h-1zM21 23h1v1h-1zM8 24h1v1h-1zM10 24h1v1h-1zM21 24h1v1h-1zM18 25h1v1h-1zM20 25h1v1h-1zM14 26h2v1h-2zM13 27h2v1h-2zM11 28h1v1h-1z"/><path fill="#5ac864" d="M7 1h1v1h-1zM7 2h1v1h-1zM42 2h1v1h-1zM7 3h1v1h-1zM40 3h2v1h-2zM38 4h2v1h-2zM36 7h1v1h-1zM15 8h2v1h-2zM13 9h1v1h-1zM10 10h1v1h-1zM34 10h1v1h-1zM11 11h1v1h-1zM32 11h2v1h-2zM9 12h2v1h-2zM12 12h1v1h-1zM31 12h1v1h-1zM5 13h1v1h-1zM9 13h1v1h-1zM11 13h1v1h-1zM30 13h1v1h-1zM8 14h1v1h-1zM5 15h1v1h-1zM8 15h1v1h-1zM10 15h2v1h-2zM13 15h1v1h-1zM29 15h1v1h-1zM7 16h2v1h-2zM10 16h1v1h-1zM5 17h1v1h-1zM12 17h1v1h-1zM10 18h2v1h-2zM12 19h1v1h-1zM24 19h1v1h-1zM10 20h2v1h-2zM9 23h1v1h-1zM11 23h1v1h-1zM20 23h1v1h-1zM11 24h1v1h-1zM18 24h1v1h-1zM11 25h2v1h-2zM15 25h1v1h-1zM17 25h1v1h-1zM10 26h1v1h-1zM13 26h1v1h-1zM17 26h1v1h-1z"/><path fill="#65cb5e" d="M8 0h1v1h-1zM42 0h1v1h-1zM42 1h1v1h-1zM15 4h1v1h-1zM18 5h1v1h-1zM37 5h2v1h-2zM7 6h1v1h-1zM37 6h1v1h-1zM7 7h1v1h-1zM13 7h1v1h-1zM15 7h1v1h-1zM7 8h1v1h-1zM12 8h1v1h-1zM36 8h1v1h-1zM7 9h1v1h-1zM34 9h2v1h-2zM9 10h1v1h-1zM11 10h1v1h-1zM10 11h1v1h-1zM8 12h1v1h-1zM11 12h1v1h-1zM13 12h1v1h-1zM7 13h1v1h-1zM10 13h1v1h-1zM13 13h1v1h-1zM7 14h1v1h-1zM11 14h2v1h-2zM14 14h1v1h-1zM29 14h2v1h-2zM7 15h1v1h-1zM9 15h1v1h-1zM12 15h1v1h-1zM28 15h1v1h-1zM12 16h2v1h-2zM27 16h2v1h-2zM27 17h1v1h-1zM4 18h1v1h-1zM12 18h1v1h-1zM25 18h1v1h-1zM24 20h1v1h-1zM11 21h1v1h-1zM22 21h1v1h-1zM10 22h3v1h-3zM19 22h1v1h-1zM21 22h1v1h-1zM17 23h2v1h-2zM12 24h1v1h-1zM14 24h1v1h-1zM19 24h1v1h-1zM12 26h1v1h-1zM12 27h1v1h-1z"/><path fill="#6ece58" d="M17 2h1v1h-1zM14 3h1v1h-1zM38 3h1v1h-1zM14 4h1v1h-1zM17 4h1v1h-1zM14 5h2v1h-2zM17 5h1v1h-1zM11 6h1v1h-1zM15 6h1v1h-1zM17 6h1v1h-1zM36 6h1v1h-1zM12 7h1v1h-1zM16 7h1v1h-1zM10 8h2v1h-2zM11 9h2v1h-2zM14 9h4v1h-4zM12 10h4v1h-4zM17 10h1v1h-1zM33 10h1v1h-1zM12 11h1v1h-1zM14 11h2v1h-2zM31 11h1v1h-1zM14 12h3v1h-3zM30 12h1v1h-1zM8 13h1v1h-1zM14 13h2v1h-2zM29 13h1v1h-1zM13 14h1v1h-1zM6 15h1v1h-1zM16 15h1v1h-1zM27 15h1v1h-1zM25 17h2v1h-2zM13 18h1v1h-1zM11 19h1v1h-1zM13 20h1v1h-1zM23 20h1v1h-1zM12 21h1v1h-1zM19 21h1v1h-1zM20 22h1v1h-1zM12 23h2v1h-2zM13 24h1v1h-1zM16 24h2v1h-2zM13 25h2v1h-2zM16 25h1v1h-1z"/><path fill="#77d153" d="M16 0h1v1h-1zM41 0h1v1h-1zM8 1h1v1h-1zM15 1h2v1h-2zM18 1h1v1h-1zM40 1h2v1h-2zM15 2h1v1h-1zM18 2h1v1h-1zM39 2h2v1h-2zM15 3h1v1h-1zM18 3h2v1h-2zM12 4h1v1h-1zM16 4h1v1h-1zM7 5h1v1h-1zM8 6h1v1h-1zM12 6h2v1h-2zM10 7h2v1h-2zM14 7h1v1h-1zM17 7h1v1h-1zM35 7h1v1h-1zM13 8h2v1h-2zM18 8h1v1h-1zM33 8h1v1h-1zM35 8h1v1h-1zM33 9h1v1h-1zM32 10h1v1h-1zM8 11h2v1h-2zM30 11h1v1h-1zM6 12h1v1h-1zM17 14h1v1h-1zM27 14h2v1h-2zM15 15h1v1h-1zM26 15h1v1h-1zM5 16h1v1h-1zM15 16h1v1h-1zM15 17h1v1h-1zM14 18h1v1h-1zM14 19h1v1h-1zM12 20h1v1h-1zM16 20h1v1h-1zM21 20h2v1h-2zM13 21h1v1h-1zM18 21h1v1h-1zM20 21h2v1h-2zM14 22h2v1h-2zM17 22h1v1h-1zM16 23h1v1h-1zM19 23h1v1h-1z"/><path fill="#81d34d" d="M13 0h1v1h-1zM18 0h3v1h-3zM39 0h2v1h-2zM13 1h2v1h-2zM12 2h1v1h-1zM16 2h1v1h-1zM37 2h1v1h-1zM20 3h1v1h-1zM22 3h1v1h-1zM39 3h1v1h-1zM13 4h1v1h-1zM18 4h1v1h-1zM37 4h1v1h-1zM11 5h1v1h-1zM16 5h1v1h-1zM35 5h1v1h-1zM14 6h1v1h-1zM16 6h1v1h-1zM18 6h2v1h-2zM8 7h1v1h-1zM18 7h2v1h-2zM17 8h1v1h-1zM20 8h1v1h-1zM34 8h1v1h-1zM9 9h2v1h-2zM18 9h1v1h-1zM16 10h1v1h-1zM19 10h1v1h-1zM31 10h1v1h-1zM16 11h1v1h-1zM18 11h2v1h-2zM29 12h1v1h-1zM16 13h3v1h-3zM28 13h1v1h-1zM6 14h1v1h-1zM15 14h2v1h-2zM14 15h1v1h-1zM14 16h1v1h-1zM26 16h1v1h-1zM13 17h1v1h-1zM16 17h1v1h-1zM24 17h1v1h-1zM15 18h1v1h-1zM21 18h1v1h-1zM24 18h1v1h-1zM13 19h1v1h-1zM16 19h1v1h-1zM14 21h1v1h-1zM17 21h1v1h-1zM13 22h1v1h-1zM16 22h1v1h-1zM14 23h1v1h-1zM15 24h1v1h-1z"/><path fill="#8bd646" d="M14 0h2v1h-2zM17 0h1v1h-1zM23 0h1v1h-1zM19 1h2v1h-2zM24 1h1v1h-1zM8 2h1v1h-1zM14 2h1v1h-1zM19 2h4v1h-4zM12 3h2v1h-2zM16 3h2v1h-2zM21 3h1v1h-1zM34 3h1v1h-1zM36 3h2v1h-2zM19 4h2v1h-2zM23 4h1v1h-1zM34 4h1v1h-1zM36 4h1v1h-1zM12 5h2v1h-2zM19 5h2v1h-2zM36 5h1v1h-1zM21 6h1v1h-1zM20 7h1v1h-1zM34 7h1v1h-1zM19 8h1v1h-1zM20 9h1v1h-1zM29 9h1v1h-1zM7 10h1v1h-1zM18 10h1v1h-1zM17 11h1v1h-1zM17 12h2v1h-2zM27 13h1v1h-1zM18 14h1v1h-1zM24 14h1v1h-1zM26 14h1v1h-1zM20 15h1v1h-1zM24 15h2v1h-2zM17 16h1v1h-1zM23 16h1v1h-1zM14 17h1v1h-1zM17 18h2v1h-2zM22 18h2v1h-2zM17 19h1v1h-1zM22 19h2v1h-2zM14 20h2v1h-2zM17 20h1v1h-1zM20 20h1v1h-1zM16 21h1v1h-1zM18 22h1v1h-1zM15 23h1v1h-1z"/><path fill="#95d840" d="M21 0h2v1h-2zM38 0h1v1h-1zM17 1h1v1h-1zM21 1h2v1h-2zM25 1h1v1h-1zM36 1h1v1h-1zM39 1h1v1h-1zM13 2h1v1h-1zM36 2h1v1h-1zM38 2h1v1h-1zM33 3h1v1h-1zM8 4h1v1h-1zM11 4h1v1h-1zM21 4h2v1h-2zM33 4h1v1h-1zM8 5h1v1h-1zM22 5h1v1h-1zM20 6h1v1h-1zM30 6h1v1h-1zM34 6h2v1h-2zM25 7h1v1h-1zM32 7h1v1h-1zM21 8h1v1h-1zM30 8h1v1h-1zM19 9h1v1h-1zM26 9h3v1h-3zM30 9h1v1h-1zM32 9h1v1h-1zM20 10h1v1h-1zM20 11h2v1h-2zM23 11h3v1h-3zM28 11h2v1h-2zM19 12h3v1h-3zM24 12h1v1h-1zM22 13h1v1h-1zM25 13h1v1h-1zM25 14h1v1h-1zM17 15h1v1h-1zM16 16h1v1h-1zM25 16h1v1h-1zM16 18h1v1h-1zM15 19h1v1h-1zM20 19h2v1h-2zM18 20h2v1h-2zM15 21h1v1h-1z"/><path fill="#a0da39" d="M12 0h1v1h-1zM24 0h1v1h-1zM35 0h1v1h-1zM37 0h1v1h-1zM11 1h2v1h-2zM23 1h1v1h-1zM38 1h1v1h-1zM11 2h1v1h-1zM23 2h1v1h-1zM33 2h1v1h-1zM35 3h1v1h-1zM35 4h1v1h-1zM21 5h1v1h-1zM30 5h1v1h-1zM33 5h2v1h-2zM10 6h1v1h-1zM24 6h1v1h-1zM27 6h2v1h-2zM32 6h2v1h-2zM21 7h3v1h-3zM27 7h2v1h-2zM30 7h1v1h-1zM26 8h1v1h-1zM28 8h2v1h-2zM32 8h1v1h-1zM21 9h4v1h-4zM23 10h3v1h-3zM30 10h1v1h-1zM26 11h2v1h-2zM22 12h1v1h-1zM27 12h2v1h-2zM6 13h1v1h-1zM20 13h2v1h-2zM26 13h1v1h-1zM22 14h1v1h-1zM22 15h1v1h-1zM21 16h2v1h-2zM24 16h1v1h-1zM17 17h1v1h-1zM19 17h1v1h-1zM22 17h2v1h-2zM19 18h1v1h-1zM18 19h1v1h-1z"/><path fill="#aadc32" d="M25 0h3v1h-3zM36 0h1v1h-1zM26 1h4v1h-4zM31 1h1v1h-1zM34 1h2v1h-2zM37 1h1v1h-1zM10 2h1v1h-1zM25 2h4v1h-4zM32 2h1v1h-1zM34 2h2v1h-2zM10 3h2v1h-2zM23 3h2v1h-2zM26 3h1v1h-1zM29 3h1v1h-1zM9 4h1v1h-1zM24 4h2v1h-2zM27 4h2v1h-2zM30 4h2v1h-2zM9 5h1v1h-1zM23 5h3v1h-3zM31 6h1v1h-1zM31 7h1v1h-1zM33 7h1v1h-1zM27 8h1v1h-1zM31 8h1v1h-1zM31 9h1v1h-1zM8 10h1v1h-1zM22 10h1v1h-1zM28 10h2v1h-2zM22 11h1v1h-1zM7 12h1v1h-1zM23 12h1v1h-1zM25 12h2v1h-2zM23 13h1v1h-1zM19 14h1v1h-1zM21 14h1v1h-1zM23 14h1v1h-1zM18 15h2v1h-2zM21 15h1v1h-1zM23 15h1v1h-1zM18 16h2v1h-2zM18 17h1v1h-1zM21 17h1v1h-1zM20 18h1v1h-1zM19 19h1v1h-1z"/><path fill="#b5de2b" d="M11 0h1v1h-1zM28 0h1v1h-1zM34 0h1v1h-1zM24 2h1v1h-1zM30 2h1v1h-1zM8 3h1v1h-1zM10 4h1v1h-1zM26 4h1v1h-1zM32 4h1v1h-1zM10 5h1v1h-1zM27 5h1v1h-1zM31 5h2v1h-2zM9 6h1v1h-1zM22 6h2v1h-2zM25 6h1v1h-1zM29 6h1v1h-1zM29 7h1v1h-1zM8 8h1v1h-1zM22 8h2v1h-2zM25 9h1v1h-1zM21 10h1v1h-1zM26 10h2v1h-2zM19 13h1v1h-1zM24 13h1v1h-1zM20 14h1v1h-1zM20 16h1v1h-1zM20 17h1v1h-1z"/><path fill="#c0df25" d="M9 0h1v1h-1zM31 0h1v1h-1zM30 1h1v1h-1zM33 1h1v1h-1zM31 2h1v1h-1zM25 3h1v1h-1zM28 3h1v1h-1zM31 3h2v1h-2zM29 4h1v1h-1zM26 5h1v1h-1zM28 5h2v1h-2zM26 6h1v1h-1zM24 7h1v1h-1zM26 7h1v1h-1zM24 8h2v1h-2zM7 11h1v1h-1z"/><path fill="#cae11f" d="M29 0h2v1h-2zM32 0h2v1h-2zM32 1h1v1h-1zM9 2h1v1h-1zM29 2h1v1h-1zM9 3h1v1h-1zM27 3h1v1h-1zM30 3h1v1h-1zM9 7h1v1h-1zM9 8h1v1h-1z"/><path fill="#d5e21a" d="M9 1h1v1h-1z"/><path fill="#dfe318" d="M10 0h1v1h-1zM8 9h1v1h-1z"/><path fill="#eae51a" d="M10 1h1v1h-1z"/></g></g><g clip-path="url(#clipA0_451)"><g transform="translate(0 450.7)" fill="none" stroke="#bf00bf" stroke-width="3.3"><path d="M110 162 L126 161.9 Q135 161 141.5 147.4 L184.5 45"/><path d="M110 227 L126 226.9 Q135 226 141.5 215.6 L231 45"/><path d="M110 417.3 L125 417.1 Q133 416.5 139.5 410.8 L460 168.3 L617 45.5"/><path d="M110 419 L125 418.8 Q133 418.2 139.5 413.2 L460 170.6 L627.5 46"/><path d="M291.3 422.3 L631.6 292.1 L640 289"/><path d="M303.5 422.3 L400 385.7 L631.6 300.7 L640 297.6"/><path d="M260.2 205.9 L400.5 45.5" stroke-width="3"/></g></g><g clip-path="url(#clipA0_451)"><g transform="translate(0 450.7)" fill="#bf00bf"><circle cx="207.5" cy="266.1" r="1.45"/><circle cx="214.615" cy="257.9762" r="1.45"/><circle cx="221.8618" cy="249.702" r="1.45"/><circle cx="225.2876" cy="245.7906" r="1.45"/><circle cx="229.1086" cy="241.4278" r="1.45"/><circle cx="232.5344" cy="237.5164" r="1.45"/><circle cx="235.9602" cy="233.605" r="1.45"/><circle cx="239.7812" cy="229.2422" r="1.45"/><circle cx="243.4705" cy="225.0299" r="1.45"/><circle cx="247.028" cy="220.968" r="1.45"/><circle cx="249.6632" cy="217.9592" r="1.45"/><circle cx="253.2866" cy="213.8221" r="1.45"/><circle cx="256.7124" cy="209.9107" r="1.45"/><circle cx="259.8746" cy="206.3001" r="1.45"/></g></g><g transform="translate(0 450.7)" fill="#bf00bf"><circle cx="147.2" cy="58.6" r="1.3"/><circle cx="144.1" cy="66.9" r="1.3"/><circle cx="138.9" cy="79.9" r="1.2"/><circle cx="120.3" cy="96.8" r="1.3"/></g><g clip-path="url(#clipA661_451)"><g transform="translate(660.8 450.7)"><rect x="118.1" y="47.0" width="513.5" height="373.1" fill="#e2d9e2"/><path d="M100 391.1339L127 391.1339Q135 391.1339 141 385.7658L1002.3603 -384.8877" fill="none" stroke="#a7c0cb" stroke-width="1.7758" opacity="0.4894"/><path d="M-41 548.6L1227.0763 -44.6811" fill="none" stroke="#a7c0cb" stroke-width="1.2499" opacity="0.3074"/><path d="M-41 548.6L1299.9429 146.2666" fill="none" stroke="#a7c0cb" stroke-width="1.017" opacity="0.2264"/><path d="M-41 548.6L1144.9024 -195.4669" fill="none" stroke="#a7c0cb" stroke-width="0.7274" opacity="0.5725"/><path d="M-41 548.6L1326.6301 249.2877" fill="none" stroke="#a7c0cb" stroke-width="1.7" opacity="0.4194"/><path d="M100 343.6975L127 343.6975Q135 343.6975 141 336.7121L871.2107 -513.413" fill="none" stroke="#d8c0b0" stroke-width="1.2145" opacity="0.4007"/><path d="M100 335.528L127 335.528Q135 335.528 141 328.2642L850.5858 -530.7863" fill="none" stroke="#a7c0cb" stroke-width="1.1025" opacity="0.391"/><path d="M-41 548.6L1292.5879 122.5211" fill="none" stroke="#a7c0cb" stroke-width="1.0037" opacity="0.4291"/><path d="M100 292.4195L127 292.4195Q135 292.4195 141 283.6861L751.7608 -605.3195" fill="none" stroke="#a7c0cb" stroke-width="1.205" opacity="0.3481"/><path d="M-41 548.6L1202.7631 -94.0924" fill="none" stroke="#d8c0b0" stroke-width="1.5152" opacity="0.2541"/><path d="M100 317.3665L127 317.3665Q135 317.3665 141 309.4835L806.9181 -565.4175" fill="none" stroke="#a7c0cb" stroke-width="1.1564" opacity="0.4092"/><path d="M100 133.518L127 133.518Q135 133.518 141 119.3675L505.5188 -740.3209" fill="none" stroke="#a7c0cb" stroke-width="1.4658" opacity="0.4097"/><path d="M-41 548.6L1273.2669 66.2075" fill="none" stroke="#a7c0cb" stroke-width="1.3519" opacity="0.3235"/><path d="M100 413.6696L127 413.6696Q135 413.6696 141 409.0697L1070.058 -303.1923" fill="none" stroke="#d8c0b0" stroke-width="1.2196" opacity="0.4545"/><path d="M-41 548.6L1120.4355 -233.1081" fill="none" stroke="#a7c0cb" stroke-width="1.516" opacity="0.3852"/><path d="M100 173.3477L127 173.3477Q135 173.3477 141 160.555L553.4857 -718.912" fill="none" stroke="#a7c0cb" stroke-width="1.0305" opacity="0.3298"/><path d="M100 313.7712L127 313.7712Q135 313.7712 141 305.7657L798.6287 -571.6783" fill="none" stroke="#a7c0cb" stroke-width="1.576" opacity="0.51"/><path d="M-41 548.6L1216.0306 -67.7392" fill="none" stroke="#d8c0b0" stroke-width="1.4424" opacity="0.4662"/><path d="M-41 548.6L1324.8639 241.3284" fill="none" stroke="#a7c0cb" stroke-width="1.0042" opacity="0.5503"/><path d="M100 393.4917L127 393.4917Q135 393.4917 141 388.2039L1009.323 -377.0466" fill="none" stroke="#a7c0cb" stroke-width="1.4246" opacity="0.2589"/><path d="M100 293.9497L127 293.9497Q135 293.9497 141 285.2684L754.9876 -603.096" fill="none" stroke="#d8c0b0" stroke-width="1.3598" opacity="0.3283"/><path d="M-41 548.6L1303.4788 158.2452" fill="none" stroke="#d8c0b0" stroke-width="1.1623" opacity="0.2021"/><path d="M100 93.7342L127 93.7342Q135 93.7342 141 78.2274L464.1993 -757.0698" fill="none" stroke="#a7c0cb" stroke-width="1.6113" opacity="0.4431"/><path d="M-41 548.6L1119.5515 -234.42" fill="none" stroke="#a7c0cb" stroke-width="0.8457" opacity="0.4637"/><path d="M100 355.3731L127 355.3731Q135 355.3731 141 348.7858L901.7362 -486.4113" fill="none" stroke="#a7c0cb" stroke-width="1.6427" opacity="0.5129"/><path d="M100 345.8953L127 345.8953Q135 345.8953 141 338.9849L876.8631 -508.5316" fill="none" stroke="#d8c0b0" stroke-width="1.0017" opacity="0.4925"/><path d="M100 403.7836L127 403.7836Q135 403.7836 141 398.8467L1040.0785 -340.9332" fill="none" stroke="#d8c0b0" stroke-width="1.1857" opacity="0.2593"/><path d="M-41 548.6L1308.2077 174.9175" fill="none" stroke="#a7c0cb" stroke-width="1.5886" opacity="0.466"/><path d="M-41 548.6L1130.4512 -218.0173" fill="none" stroke="#a7c0cb" stroke-width="1.5887" opacity="0.3126"/><path d="M-41 548.6L408.7481 -777.1928" fill="none" stroke="#a7c0cb" stroke-width="0.8644" opacity="0.2254"/><path d="M100 344.0116L127 344.0116Q135 344.0116 141 337.0369L872.0158 -512.7209" fill="none" stroke="#a7c0cb" stroke-width="0.848" opacity="0.3708"/><path d="M100 358.6307L127 358.6307Q135 358.6307 141 352.1544L910.4695 -478.3887" fill="none" stroke="#d8c0b0" stroke-width="0.9658" opacity="0.4978"/><path d="M100 398.0269L127 398.0269Q135 398.0269 141 392.8937L1022.8072 -361.5177" fill="none" stroke="#d8c0b0" stroke-width="1.5486" opacity="0.3376"/><path d="M-41 548.6L1255.4003 20.0679" fill="none" stroke="#d8c0b0" stroke-width="0.9988" opacity="0.2072"/><path d="M100 159.7628L127 159.7628Q135 159.7628 141 146.507L536.3004 -726.831" fill="none" stroke="#d8c0b0" stroke-width="1.4398" opacity="0.2091"/><path d="M100 295.3211L127 295.3211Q135 295.3211 141 286.6866L757.8968 -601.0799" fill="none" stroke="#a7c0cb" stroke-width="1.2731" opacity="0.2726"/><path d="M-41 548.6L1175.3188 -144.6305" fill="none" stroke="#d8c0b0" stroke-width="0.9118" opacity="0.2481"/><path d="M100 301.6297L127 301.6297Q135 301.6297 141 293.2102L771.4877 -591.5157" fill="none" stroke="#a7c0cb" stroke-width="1.6109" opacity="0.5675"/><path d="M100 298.482L127 298.482Q135 298.482 141 289.9553L764.6634 -596.3482" fill="none" stroke="#a7c0cb" stroke-width="1.0039" opacity="0.3804"/><path d="M-41 548.6L1322.1401 229.4618" fill="none" stroke="#a7c0cb" stroke-width="1.3552" opacity="0.4601"/><path d="M100 423.3645L127 423.3645Q135 423.3645 141 419.0951L1099.6927 -263.0774" fill="none" stroke="#d8c0b0" stroke-width="1.3639" opacity="0.4839"/><path d="M100 374.2059L127 374.2059Q135 374.2059 141 368.2606L953.476 -436.8022" fill="none" stroke="#a7c0cb" stroke-width="0.8616" opacity="0.4626"/><path d="M-41 548.6L1327.4576 253.0938" fill="none" stroke="#a7c0cb" stroke-width="0.7436" opacity="0.4375"/><path d="M-41 548.6L1302.9822 156.539" fill="none" stroke="#a7c0cb" stroke-width="0.9068" opacity="0.5044"/><path d="M100 244.8878L127 244.8878Q135 244.8878 141 234.534L660.9484 -662.7085" fill="none" stroke="#a7c0cb" stroke-width="1.6852" opacity="0.2368"/><path d="M100 322.8592L127 322.8592Q135 322.8592 141 315.1635L819.8078 -555.4878" fill="none" stroke="#a7c0cb" stroke-width="1.5986" opacity="0.474"/><path d="M-41 548.6L1153.3636 -181.8078" fill="none" stroke="#d8c0b0" stroke-width="1.61" opacity="0.2437"/><path d="M-41 548.6L1167.2619 -158.5798" fill="none" stroke="#a7c0cb" stroke-width="0.9844" opacity="0.4515"/><path d="M-41 548.6L1205.0833 -89.5821" fill="none" stroke="#d8c0b0" stroke-width="0.8093" opacity="0.4506"/><path d="M-41 548.6L1173.4167 -147.9572" fill="none" stroke="#d8c0b0" stroke-width="1.2034" opacity="0.3628"/><path d="M100 422.9339L127 422.9339Q135 422.9339 141 418.6498L1098.3744 -264.9269" fill="none" stroke="#a7c0cb" stroke-width="0.7388" opacity="0.3312"/><path d="M-41 548.6L1243.1521 -9.0319" fill="none" stroke="#d8c0b0" stroke-width="1.0707" opacity="0.3795"/><path d="M-41 548.6L1115.8401 -239.8928" fill="none" stroke="#a7c0cb" stroke-width="1.108" opacity="0.493"/><path d="M100 403.7633L127 403.7633Q135 403.7633 141 398.8257L1040.0173 -341.0075" fill="none" stroke="#a7c0cb" stroke-width="1.4084" opacity="0.5556"/><path d="M100 98.4674L127 98.4674Q135 98.4674 141 83.1219L468.8103 -755.2763" fill="none" stroke="#a7c0cb" stroke-width="1.1458" opacity="0.5874"/><path d="M100 269.9287L127 269.9287Q135 269.9287 141 260.4285L706.5813 -635.0901" fill="none" stroke="#d8c0b0" stroke-width="1.5556" opacity="0.2495"/><path d="M100 413.2953L127 413.2953Q135 413.2953 141 408.6827L1068.9171 -304.6783" fill="none" stroke="#a7c0cb" stroke-width="1.7241" opacity="0.2173"/><path d="M100 383.926L127 383.926Q135 383.926 141 378.3121L981.2964 -407.9093" fill="none" stroke="#a7c0cb" stroke-width="0.8167" opacity="0.237"/><path d="M100 192.0035L127 192.0035Q135 192.0035 141 179.8468L578.6178 -706.8178" fill="none" stroke="#a7c0cb" stroke-width="1.7433" opacity="0.2188"/><path d="M100 340.0079L127 340.0079Q135 340.0079 141 332.8968L861.8205 -521.4071" fill="none" stroke="#a7c0cb" stroke-width="1.5394" opacity="0.2859"/><path d="M-41 548.6L1218.5279 -62.6197" fill="none" stroke="#a7c0cb" stroke-width="0.7526" opacity="0.5997"/><path d="M100 347.3942L127 347.3942Q135 347.3942 141 340.5349L880.7431 -505.1503" fill="none" stroke="#d8c0b0" stroke-width="1.3703" opacity="0.4469"/><path d="M100 398.5241L127 398.5241Q135 398.5241 141 393.4078L1024.2922 -359.7791" fill="none" stroke="#d8c0b0" stroke-width="1.4894" opacity="0.4616"/><path d="M100 270.1805L127 270.1805Q135 270.1805 141 260.6889L707.0644 -634.7849" fill="none" stroke="#a7c0cb" stroke-width="1.6162" opacity="0.402"/><path d="M100 372.8393L127 372.8393Q135 372.8393 141 366.8475L949.6227 -440.6758" fill="none" stroke="#a7c0cb" stroke-width="0.9154" opacity="0.5102"/><path d="M100 144.3814L127 144.3814Q135 144.3814 141 130.6012L517.8916 -735.0044" fill="none" stroke="#a7c0cb" stroke-width="1.0477" opacity="0.5741"/><path d="M-41 548.6L1233.2934 -31.2072" fill="none" stroke="#a7c0cb" stroke-width="0.7572" opacity="0.5172"/><path d="M100 418.2046L127 418.2046Q135 418.2046 141 413.7593L1083.9035 -284.8219" fill="none" stroke="#a7c0cb" stroke-width="1.0772" opacity="0.2663"/><path d="M-41 548.6L1223.0418 -53.2292" fill="none" stroke="#a7c0cb" stroke-width="0.8209" opacity="0.4963"/><path d="M-41 548.6L1320.6705 223.2489" fill="none" stroke="#a7c0cb" stroke-width="1.0119" opacity="0.4185"/><path d="M100 420.105L127 420.105Q135 420.105 141 415.7245L1089.716 -276.9188" fill="none" stroke="#a7c0cb" stroke-width="1.5082" opacity="0.5171"/><path d="M100 398.3252L127 398.3252Q135 398.3252 141 393.2022L1023.698 -360.4755" fill="none" stroke="#a7c0cb" stroke-width="1.2468" opacity="0.5231"/><path d="M100 384.3321L127 384.3321Q135 384.3321 141 378.7321L982.4738 -406.6493" fill="none" stroke="#d8c0b0" stroke-width="1.7613" opacity="0.4097"/><path d="M100 239.1611L127 239.1611Q135 239.1611 141 228.612L651.1555 -668.3309" fill="none" stroke="#a7c0cb" stroke-width="1.1394" opacity="0.4158"/><path d="M100 327.2952L127 327.2952Q135 327.2952 141 319.7507L830.4181 -547.1329" fill="none" stroke="#a7c0cb" stroke-width="1.2189" opacity="0.2017"/><path d="M100 324.3019L127 324.3019Q135 324.3019 141 316.6554L823.2389 -552.8042" fill="none" stroke="#d8c0b0" stroke-width="1.4012" opacity="0.2537"/><path d="M-41 548.6L1164.8996 -162.6005" fill="none" stroke="#a7c0cb" stroke-width="1.0767" opacity="0.5878"/><path d="M-41 548.6L1307.2171 171.3593" fill="none" stroke="#a7c0cb" stroke-width="1.3885" opacity="0.596"/><path d="M-41 548.6L1280.6897 86.9332" fill="none" stroke="#a7c0cb" stroke-width="1.0023" opacity="0.4849"/><path d="M-41 548.6L1237.9728 -20.8107" fill="none" stroke="#a7c0cb" stroke-width="1.6846" opacity="0.3749"/><path d="M-41 548.6L1222.5615 -54.237" fill="none" stroke="#a7c0cb" stroke-width="1.7793" opacity="0.3505"/><path d="M100 405.2499L127 405.2499Q135 405.2499 141 400.363L1044.502 -335.5297" fill="none" stroke="#d8c0b0" stroke-width="1.0843" opacity="0.2673"/><path d="M-41 548.6L1299.6671 145.3484" fill="none" stroke="#d8c0b0" stroke-width="1.0094" opacity="0.4975"/><path d="M100 334.7338L127 334.7338Q135 334.7338 141 327.4429L848.6133 -532.4126" fill="none" stroke="#a7c0cb" stroke-width="0.8184" opacity="0.4627"/><path d="M-41 548.6L1321.9344 228.5848" fill="none" stroke="#d8c0b0" stroke-width="1.7146" opacity="0.4831"/><path d="M100 422.0983L127 422.0983Q135 422.0983 141 417.7858L1095.8164 -268.4976" fill="none" stroke="#d8c0b0" stroke-width="1.0527" opacity="0.2814"/><path d="M100 412.6508L127 412.6508Q135 412.6508 141 408.0161L1066.9537 -307.2263" fill="none" stroke="#a7c0cb" stroke-width="1.1116" opacity="0.3411"/><path d="M-41 548.6L1303.7022 159.0155" fill="none" stroke="#a7c0cb" stroke-width="1.1091" opacity="0.2995"/><path d="M100 352.9065L127 352.9065Q135 352.9065 141 346.2351L895.1857 -492.3401" fill="none" stroke="#a7c0cb" stroke-width="1.7296" opacity="0.43"/><path d="M-41 548.6L1110.9272 -247.0531" fill="none" stroke="#a7c0cb" stroke-width="1.4107" opacity="0.3651"/><path d="M100 247.6221L127 247.6221Q135 247.6221 141 237.3615L665.7059 -659.9391" fill="none" stroke="#a7c0cb" stroke-width="1.6481" opacity="0.2816"/><path d="M-41 548.6L1202.2107 -95.1601" fill="none" stroke="#a7c0cb" stroke-width="1.2789" opacity="0.4079"/><path d="M100 334.863L127 334.863Q135 334.863 141 327.5765L848.9338 -532.1487" fill="none" stroke="#d8c0b0" stroke-width="1.6105" opacity="0.4353"/><path d="M100 338.986L127 338.986Q135 338.986 141 331.84L859.2416 -523.5777" fill="none" stroke="#a7c0cb" stroke-width="1.1348" opacity="0.2356"/><path d="M100 238.2018L127 238.2018Q135 238.2018 141 227.62L649.5373 -669.2498" fill="none" stroke="#d8c0b0" stroke-width="1.4684" opacity="0.4059"/><path d="M100 194.0199L127 194.0199Q135 194.0199 141 181.9319L581.4464 -705.4177" fill="none" stroke="#a7c0cb" stroke-width="0.8113" opacity="0.239"/><path d="M-41 548.6L1317.1966 209.0384" fill="none" stroke="#a7c0cb" stroke-width="1.757" opacity="0.3015"/><path d="M-41 548.6L1190.1499 -117.9357" fill="none" stroke="#a7c0cb" stroke-width="1.3419" opacity="0.3089"/><path d="M-41 548.6L1230.9284 -36.377" fill="none" stroke="#d8c0b0" stroke-width="1.364" opacity="0.234"/><path d="M-41 548.6L1125.7936 -225.0877" fill="none" stroke="#a7c0cb" stroke-width="1.0713" opacity="0.4521"/><path d="M-41 548.6L1222.8178 -53.6994" fill="none" stroke="#a7c0cb" stroke-width="0.7175" opacity="0.5611"/><path d="M-41 548.6L1119.8276 -234.0105" fill="none" stroke="#a7c0cb" stroke-width="1.2242" opacity="0.3954"/><path d="M100 278.176L127 278.176Q135 278.176 141 268.957L722.668 -624.776" fill="none" stroke="#a7c0cb" stroke-width="1.7087" opacity="0.5825"/><path d="M-41 548.6L1323.9267 237.1917" fill="none" stroke="#d8c0b0" stroke-width="0.8287" opacity="0.3127"/><path d="M-41 548.6L1177.0486 -141.5867" fill="none" stroke="#a7c0cb" stroke-width="1.7662" opacity="0.5925"/><path d="M-41 548.6L1257.5472 25.3648" fill="none" stroke="#a7c0cb" stroke-width="1.2143" opacity="0.5706"/><path d="M-41 548.6L1148.7935 -189.2289" fill="none" stroke="#a7c0cb" stroke-width="0.9521" opacity="0.4088"/><path d="M100 298.0949L127 298.0949Q135 298.0949 141 289.555L763.8301 -596.9342" fill="none" stroke="#d8c0b0" stroke-width="1.649" opacity="0.2831"/><path d="M-41 548.6L1266.1913 47.3507" fill="none" stroke="#d8c0b0" stroke-width="0.8966" opacity="0.2221"/><path d="M-41 548.6L1319.488 218.3387" fill="none" stroke="#a7c0cb" stroke-width="0.717" opacity="0.5097"/><path d="M100 150.1074L127 150.1074Q135 150.1074 141 136.5224L524.6193 -732.0541" fill="none" stroke="#a7c0cb" stroke-width="1.702" opacity="0.3553"/><path d="M100 162.5305L127 162.5305Q135 162.5305 141 149.369L539.729 -725.2736" fill="none" stroke="#a7c0cb" stroke-width="0.7309" opacity="0.2026"/><path d="M100 340.9603L127 340.9603Q135 340.9603 141 333.8817L864.2326 -519.3672" fill="none" stroke="#a7c0cb" stroke-width="0.8137" opacity="0.352"/><path d="M-41 548.6L1197.0058 -105.1137" fill="none" stroke="#a7c0cb" stroke-width="0.9292" opacity="0.399"/><path d="M100 162.8048L127 162.8048Q135 162.8048 141 149.6527L540.0708 -725.1177" fill="none" stroke="#d8c0b0" stroke-width="1.7512" opacity="0.2838"/><path d="M100 187.572L127 187.572Q135 187.572 141 175.2642L572.4799 -709.8285" fill="none" stroke="#a7c0cb" stroke-width="1.6695" opacity="0.4934"/><path d="M100 392.5378L127 392.5378Q135 392.5378 141 387.2175L1006.5021 -380.2377" fill="none" stroke="#d8c0b0" stroke-width="1.1999" opacity="0.2914"/><path d="M-41 548.6L1154.3923 -180.123" fill="none" stroke="#d8c0b0" stroke-width="1.6424" opacity="0.4098"/><path d="M100 342.6297L127 342.6297Q135 342.6297 141 335.6079L868.4804 -515.7521" fill="none" stroke="#a7c0cb" stroke-width="1.5025" opacity="0.3256"/><path d="M-41 548.6L1126.6947 -223.7271" fill="none" stroke="#a7c0cb" stroke-width="1.179" opacity="0.227"/><path d="M-41 548.6L1148.3021 -190.0206" fill="none" stroke="#a7c0cb" stroke-width="1.6215" opacity="0.4062"/><path d="M-41 548.6L416.5233 -774.5298" fill="none" stroke="#a7c0cb" stroke-width="1.0214" opacity="0.3421"/><path d="M-41 548.6L1273.3973 66.5629" fill="none" stroke="#a7c0cb" stroke-width="1.5776" opacity="0.4192"/><path d="M100 417.3638L127 417.3638Q135 417.3638 141 412.8899L1081.3336 -288.2795" fill="none" stroke="#d8c0b0" stroke-width="1.4503" opacity="0.213"/><path d="M-41 548.6L1326.9284 250.6537" fill="none" stroke="#a7c0cb" stroke-width="1.4374" opacity="0.228"/><path d="M100 398.1961L127 398.1961Q135 398.1961 141 393.0687L1023.3125 -360.9267" fill="none" stroke="#a7c0cb" stroke-width="1.4441" opacity="0.3297"/><path d="M100 369.5348L127 369.5348Q135 369.5348 141 363.4303L940.3668 -449.8584" fill="none" stroke="#a7c0cb" stroke-width="1.6629" opacity="0.4935"/><path d="M100 177.8191L127 177.8191Q135 177.8191 141 165.1788L559.3429 -716.1483" fill="none" stroke="#a7c0cb" stroke-width="0.76" opacity="0.3559"/><path d="M100 423.4958L127 423.4958Q135 423.4958 141 419.2309L1100.0947 -262.5121" fill="none" stroke="#a7c0cb" stroke-width="1.5869" opacity="0.573"/><path d="M100 288.1088L127 288.1088Q135 288.1088 141 279.2284L742.7772 -611.4402" fill="none" stroke="#d8c0b0" stroke-width="0.9914" opacity="0.3858"/><path d="M100 401.197L127 401.197Q135 401.197 141 396.1719L1032.2981 -350.3055" fill="none" stroke="#a7c0cb" stroke-width="1.3225" opacity="0.597"/><path d="M100 393.9635L127 393.9635Q135 393.9635 141 388.6918L1010.7202 -375.4587" fill="none" stroke="#a7c0cb" stroke-width="1.3304" opacity="0.364"/><path d="M100 404.802L127 404.802Q135 404.802 141 399.8998L1043.1498 -337.1874" fill="none" stroke="#a7c0cb" stroke-width="0.8679" opacity="0.2647"/><path d="M100 354.6505L127 354.6505Q135 354.6505 141 348.0386L899.8116 -488.1611" fill="none" stroke="#a7c0cb" stroke-width="1.6014" opacity="0.4172"/><path d="M-41 548.6L1116.0301 -239.614" fill="none" stroke="#a7c0cb" stroke-width="1.1218" opacity="0.367"/><path d="M100 327.2062L127 327.2062Q135 327.2062 141 319.6587L830.2033 -547.3036" fill="none" stroke="#d8c0b0" stroke-width="1.0778" opacity="0.2917"/><path d="M100 184.577L127 184.577Q135 184.577 141 172.1671L568.392 -711.8132" fill="none" stroke="#a7c0cb" stroke-width="1.7078" opacity="0.3601"/><path d="M-41 548.6L1149.869 -187.4918" fill="none" stroke="#a7c0cb" stroke-width="1.3159" opacity="0.5129"/><path d="M100 366.4712L127 366.4712Q135 366.4712 141 360.2623L931.8658 -458.1434" fill="none" stroke="#a7c0cb" stroke-width="1.5215" opacity="0.5141"/><path d="M-41 548.6L1277.0957 76.7697" fill="none" stroke="#d8c0b0" stroke-width="1.0726" opacity="0.2854"/><path d="M100 55L124 55Q134 55 140 45" fill="none" stroke="#d0b29c" stroke-width="1.2" opacity="0.6"/><path d="M100 62L124 62Q134 62 140 52" fill="none" stroke="#a7c0cb" stroke-width="1.2" opacity="0.6"/><path d="M100 70L124 70Q134 70 140 60" fill="none" stroke="#d0b29c" stroke-width="1.2" opacity="0.6"/><path d="M100 78L124 78Q134 78 140 68" fill="none" stroke="#a7c0cb" stroke-width="1.2" opacity="0.6"/><path d="M100 112L124 112Q134 112 140 102" fill="none" stroke="#a7c0cb" stroke-width="1.2" opacity="0.6"/><path d="M100 120L124 120Q134 120 140 110" fill="none" stroke="#a7c0cb" stroke-width="1.2" opacity="0.6"/><path d="M100 135L124 135Q134 135 140 125" fill="none" stroke="#d0b29c" stroke-width="1.2" opacity="0.6"/><path d="M100 145L124 145Q134 145 140 135" fill="none" stroke="#d0b29c" stroke-width="1.2" opacity="0.6"/><path d="M100 175L124 175Q134 175 140 165" fill="none" stroke="#d0b29c" stroke-width="1.2" opacity="0.6"/><path d="M100 185L124 185Q134 185 140 175" fill="none" stroke="#d0b29c" stroke-width="1.2" opacity="0.6"/><path d="M100 195L124 195Q134 195 140 185" fill="none" stroke="#d0b29c" stroke-width="1.2" opacity="0.6"/><path d="M100 240L124 240Q134 240 140 230" fill="none" stroke="#a7c0cb" stroke-width="1.2" opacity="0.6"/><path d="M100 250L124 250Q134 250 140 240" fill="none" stroke="#d0b29c" stroke-width="1.2" opacity="0.6"/><path d="M100 262L124 262Q134 262 140 252" fill="none" stroke="#a7c0cb" stroke-width="1.2" opacity="0.6"/><path d="M100 300L124 300Q134 300 140 290" fill="none" stroke="#a7c0cb" stroke-width="1.2" opacity="0.6"/><path d="M100 310L124 310Q134 310 140 300" fill="none" stroke="#d0b29c" stroke-width="1.2" opacity="0.6"/><path d="M100 325L124 325Q134 325 140 315" fill="none" stroke="#a7c0cb" stroke-width="1.2" opacity="0.6"/><path d="M100 335L124 335Q134 335 140 325" fill="none" stroke="#d0b29c" stroke-width="1.2" opacity="0.6"/><path d="M100 370L124 370Q134 370 140 360" fill="none" stroke="#d0b29c" stroke-width="1.2" opacity="0.6"/><path d="M100 385L124 385Q134 385 140 375" fill="none" stroke="#a7c0cb" stroke-width="1.2" opacity="0.6"/><path d="M100 395L124 395Q134 395 140 385" fill="none" stroke="#d0b29c" stroke-width="1.2" opacity="0.6"/><path d="M100 405L124 405Q134 405 140 395" fill="none" stroke="#a7c0cb" stroke-width="1.2" opacity="0.6"/><path d="M-41 548.6L682.8744 -649.7346L726.8335 -622.0544Z" fill="#d0b29c" opacity="0.25"/><path d="M-41 548.6L475.277 -752.7293L514.8739 -736.3141Z" fill="#d0b29c" opacity="0.22"/><path d="M-41 548.6L548.7938 -721.102L601.3149 -695.358Z" fill="#d0b29c" opacity="0.22"/><path d="M-41 548.6L843.7176 -536.4229L878.6397 -506.9865Z" fill="#d0b29c" opacity="0.25"/><path d="M-41 548.6L1290.4448 115.8705L1334.0911 285.6849Z" fill="#a7c0cb" opacity="0.1"/><path d="M-400 686.8L700 227.4359L700 265.2897Z" fill="#a7c0cb" opacity="0.6"/><path d="M-400 686.8L700 242.3642L700 265.2897Z" fill="#85a9c4" opacity="0.6"/><path d="M-400 686.8L700 248.762L700 258.3587Z" fill="#6e91c0" opacity="1"/><path d="M-400 686.8L700 254.0935L700 261.5577Z" fill="#6276ba" opacity="1"/><path d="M-400 686.8L700 257.8256L700 265.1831Z" fill="#5f59b1" opacity="1"/><path d="M-400 686.8L700 261.5577L700 265.1831Z" fill="#5d3a9e" opacity="1"/><path d="M-400 686.8L700 264.9698L700 266.6759Z" fill="#e2d9e2" opacity="1"/><path d="M-400 686.8L700 266.4627L700 273.8202Z" fill="#63184b" opacity="1"/><path d="M-400 686.8L700 273.287L700 279.1517Z" fill="#842550" opacity="1"/><path d="M-400 686.8L700 278.6185L700 282.8838Z" fill="#9e3b50" opacity="1"/><path d="M-400 686.8L700 282.3506L700 286.0827Z" fill="#b25652" opacity="1"/><path d="M-400 686.8L700 285.5495L700 289.2816Z" fill="#c0745d" opacity="0.95"/><path d="M-400 686.8L700 288.7484L700 295.6794Z" fill="#d0b29c" opacity="0.7"/><path d="M-41 548.6L1175.1964 -144.8453" fill="none" stroke="#c89477" stroke-width="1.8" opacity="0.9"/><path d="M-41 548.6L1208.5115 -82.8436" fill="none" stroke="#d0b29c" stroke-width="1.3" opacity="0.7"/><path d="M-41 548.6L1316.0285 204.3998" fill="none" stroke="#c89477" stroke-width="1.5" opacity="0.7"/><path d="M-41 548.6L1298.9547 142.9878" fill="none" stroke="#d0b29c" stroke-width="1.2" opacity="0.6"/><linearGradient id="gDblue" gradientUnits="userSpaceOnUse" x1="150" y1="400" x2="600" y2="60"><stop offset="0" stop-color="#a7c0cb" stop-opacity="0.25"/><stop offset="0.5" stop-color="#85a9c4" stop-opacity="0.5"/><stop offset="1" stop-color="#85a9c4" stop-opacity="0.6"/></linearGradient><linearGradient id="gDcore" gradientUnits="userSpaceOnUse" x1="150" y1="400" x2="600" y2="60"><stop offset="0" stop-color="#b25652"/><stop offset="0.6" stop-color="#9e3b50"/><stop offset="1" stop-color="#842550"/></linearGradient><path d="M-41 548.6L998.4955 -389.1895L1056.2633 -320.8902Z" fill="#a7c0cb" opacity="0.35"/><path d="M-41 548.6L1015.5739 -369.9051L1054.9222 -322.58Z" fill="url(#gDblue)" opacity="1"/><path d="M-41 548.6L1058.2605 -318.3639L1068.623 -305.0609Z" fill="#e2d9e2" opacity="0.8"/><path d="M100 420.5L127 420.5Q135 420.5 141 411.32L1076.6965 -294.4625" fill="none" stroke="#c89477" stroke-width="9" opacity="0.55"/><path d="M100 419L127 419Q135 419 141 410.802L1075.1673 -296.4861" fill="none" stroke="#c0745d" stroke-width="6" opacity="1"/><path d="M100 417.8L127 417.8Q135 417.8 141 410.28L1073.6271 -298.5166" fill="none" stroke="#b25652" stroke-width="4.0" opacity="1"/><path d="M-41 548.6L1071.1395 -301.7798L1074.2445 -297.7035Z" fill="url(#gDcore)" opacity="1"/><path d="M-41 548.6L1089.2798 -277.5159L1094.0844 -270.9019Z" fill="#85a9c4" opacity="0.8"/><path d="M100 356L127 356Q135 356 141 345.9558L894.4717 -492.9818" fill="none" stroke="#6e91c0" stroke-width="2.2" opacity="0.95"/><path d="M100 351L127 351Q135 351 141 341.5905L883.397 -502.823" fill="none" stroke="#c0745d" stroke-width="2.4" opacity="0.95"/><path d="M100 318L127 318Q135 318 141 306.4483L800.1419 -570.5427" fill="none" stroke="#85a9c4" stroke-width="1.5" opacity="0.8"/><path d="M100 290.3L127 290.3Q135 290.3 141 276.2516L736.8651 -615.4129" fill="none" stroke="#6276ba" stroke-width="2.2" opacity="0.95"/><path d="M100 229.5L127 229.5Q135 229.5 141 210.4844L622.5639 -684.1542" fill="none" stroke="#c0745d" stroke-width="1.8" opacity="0.9"/><path d="M100 226L127 226Q135 226 141 206.0439L615.8654 -687.7365" fill="none" stroke="#5f59b1" stroke-width="2.6" opacity="0.95"/><path d="M100 158L127 158Q135 158 141 132.6948L520.2537 -733.9733" fill="none" stroke="#85a9c4" stroke-width="2.5" opacity="0.8"/><path d="M100 161.9L127 161.9Q135 161.9 141 139.5892L528.1616 -730.4837" fill="none" stroke="#c0745d" stroke-width="1.8" opacity="0.95"/><path d="M100 101.2L127 101.2Q135 101.2 141 78.0268L464.012 -757.1423" fill="none" stroke="#6276ba" stroke-width="2.2" opacity="0.9"/><path d="M100 96.8L127 96.8Q135 96.8 141 71.1356L457.6537 -759.5836" fill="none" stroke="#c0745d" stroke-width="1.6" opacity="0.9"/></g></g><rect x="118.1" y="47" width="513.5" height="373.1" fill="none" stroke="#000" stroke-width="1.6"/><path d="M131.7933 420.1v3.6M152.3333 420.1v6.5M172.8733 420.1v3.6M193.4133 420.1v3.6M213.9533 420.1v3.6M234.4933 420.1v3.6M255.0333 420.1v6.5M275.5733 420.1v3.6M296.1133 420.1v3.6M316.6533 420.1v3.6M337.1933 420.1v3.6M357.7333 420.1v6.5M378.2733 420.1v3.6M398.8133 420.1v3.6M419.3533 420.1v3.6M439.8933 420.1v3.6M460.4333 420.1v6.5M480.9733 420.1v3.6M501.5133 420.1v3.6M522.0533 420.1v3.6M542.5933 420.1v3.6M563.1333 420.1v6.5M583.6733 420.1v3.6M604.2133 420.1v3.6M624.7533 420.1v3.6M118.1 410.1507h-3.6M118.1 395.2267h-6.5M118.1 380.3027h-3.6M118.1 365.3787h-3.6M118.1 350.4547h-3.6M118.1 335.5307h-3.6M118.1 320.6067h-6.5M118.1 305.6827h-3.6M118.1 290.7587h-3.6M118.1 275.8347h-3.6M118.1 260.9107h-3.6M118.1 245.9867h-6.5M118.1 231.0627h-3.6M118.1 216.1387h-3.6M118.1 201.2147h-3.6M118.1 186.2907h-3.6M118.1 171.3667h-6.5M118.1 156.4427h-3.6M118.1 141.5187h-3.6M118.1 126.5947h-3.6M118.1 111.6707h-3.6M118.1 96.7467h-6.5M118.1 81.8227h-3.6M118.1 66.8987h-3.6M118.1 51.9747h-3.6" stroke="#000" stroke-width="1.25" fill="none"/><rect x="778.9" y="47" width="513.5" height="373.1" fill="none" stroke="#000" stroke-width="1.6"/><path d="M792.5933 420.1v3.6M813.1333 420.1v6.5M833.6733 420.1v3.6M854.2133 420.1v3.6M874.7533 420.1v3.6M895.2933 420.1v3.6M915.8333 420.1v6.5M936.3733 420.1v3.6M956.9133 420.1v3.6M977.4533 420.1v3.6M997.9933 420.1v3.6M1018.5333 420.1v6.5M1039.0733 420.1v3.6M1059.6133 420.1v3.6M1080.1533 420.1v3.6M1100.6933 420.1v3.6M1121.2333 420.1v6.5M1141.7733 420.1v3.6M1162.3133 420.1v3.6M1182.8533 420.1v3.6M1203.3933 420.1v3.6M1223.9333 420.1v6.5M1244.4733 420.1v3.6M1265.0133 420.1v3.6M1285.5533 420.1v3.6M778.9 410.1507h-3.6M778.9 395.2267h-6.5M778.9 380.3027h-3.6M778.9 365.3787h-3.6M778.9 350.4547h-3.6M778.9 335.5307h-3.6M778.9 320.6067h-6.5M778.9 305.6827h-3.6M778.9 290.7587h-3.6M778.9 275.8347h-3.6M778.9 260.9107h-3.6M778.9 245.9867h-6.5M778.9 231.0627h-3.6M778.9 216.1387h-3.6M778.9 201.2147h-3.6M778.9 186.2907h-3.6M778.9 171.3667h-6.5M778.9 156.4427h-3.6M778.9 141.5187h-3.6M778.9 126.5947h-3.6M778.9 111.6707h-3.6M778.9 96.7467h-6.5M778.9 81.8227h-3.6M778.9 66.8987h-3.6M778.9 51.9747h-3.6" stroke="#000" stroke-width="1.25" fill="none"/><rect x="118.1" y="497.7" width="513.5" height="373.1" fill="none" stroke="#000" stroke-width="1.6"/><path d="M131.7933 870.8v3.6M152.3333 870.8v6.5M172.8733 870.8v3.6M193.4133 870.8v3.6M213.9533 870.8v3.6M234.4933 870.8v3.6M255.0333 870.8v6.5M275.5733 870.8v3.6M296.1133 870.8v3.6M316.6533 870.8v3.6M337.1933 870.8v3.6M357.7333 870.8v6.5M378.2733 870.8v3.6M398.8133 870.8v3.6M419.3533 870.8v3.6M439.8933 870.8v3.6M460.4333 870.8v6.5M480.9733 870.8v3.6M501.5133 870.8v3.6M522.0533 870.8v3.6M542.5933 870.8v3.6M563.1333 870.8v6.5M583.6733 870.8v3.6M604.2133 870.8v3.6M624.7533 870.8v3.6M118.1 860.8507h-3.6M118.1 845.9267h-6.5M118.1 831.0027h-3.6M118.1 816.0787h-3.6M118.1 801.1547h-3.6M118.1 786.2307h-3.6M118.1 771.3067h-6.5M118.1 756.3827h-3.6M118.1 741.4587h-3.6M118.1 726.5347h-3.6M118.1 711.6107h-3.6M118.1 696.6867h-6.5M118.1 681.7627h-3.6M118.1 666.8387h-3.6M118.1 651.9147h-3.6M118.1 636.9907h-3.6M118.1 622.0667h-6.5M118.1 607.1427h-3.6M118.1 592.2187h-3.6M118.1 577.2947h-3.6M118.1 562.3707h-3.6M118.1 547.4467h-6.5M118.1 532.5227h-3.6M118.1 517.5987h-3.6M118.1 502.6747h-3.6" stroke="#000" stroke-width="1.25" fill="none"/><rect x="778.9" y="497.7" width="513.5" height="373.1" fill="none" stroke="#000" stroke-width="1.6"/><path d="M792.5933 870.8v3.6M813.1333 870.8v6.5M833.6733 870.8v3.6M854.2133 870.8v3.6M874.7533 870.8v3.6M895.2933 870.8v3.6M915.8333 870.8v6.5M936.3733 870.8v3.6M956.9133 870.8v3.6M977.4533 870.8v3.6M997.9933 870.8v3.6M1018.5333 870.8v6.5M1039.0733 870.8v3.6M1059.6133 870.8v3.6M1080.1533 870.8v3.6M1100.6933 870.8v3.6M1121.2333 870.8v6.5M1141.7733 870.8v3.6M1162.3133 870.8v3.6M1182.8533 870.8v3.6M1203.3933 870.8v3.6M1223.9333 870.8v6.5M1244.4733 870.8v3.6M1265.0133 870.8v3.6M1285.5533 870.8v3.6M778.9 860.8507h-3.6M778.9 845.9267h-6.5M778.9 831.0027h-3.6M778.9 816.0787h-3.6M778.9 801.1547h-3.6M778.9 786.2307h-3.6M778.9 771.3067h-6.5M778.9 756.3827h-3.6M778.9 741.4587h-3.6M778.9 726.5347h-3.6M778.9 711.6107h-3.6M778.9 696.6867h-6.5M778.9 681.7627h-3.6M778.9 666.8387h-3.6M778.9 651.9147h-3.6M778.9 636.9907h-3.6M778.9 622.0667h-6.5M778.9 607.1427h-3.6M778.9 592.2187h-3.6M778.9 577.2947h-3.6M778.9 562.3707h-3.6M778.9 547.4467h-6.5M778.9 532.5227h-3.6M778.9 517.5987h-3.6M778.9 502.6747h-3.6" stroke="#000" stroke-width="1.25" fill="none"/><linearGradient id="gA" x1="0" y1="0" x2="0" y2="1"><stop offset="0.0000" stop-color="#fde725"/><stop offset="0.0312" stop-color="#ece51b"/><stop offset="0.0625" stop-color="#d8e219"/><stop offset="0.0938" stop-color="#c2df23"/><stop offset="0.1250" stop-color="#addc30"/><stop offset="0.1562" stop-color="#98d83e"/><stop offset="0.1875" stop-color="#84d44b"/><stop offset="0.2188" stop-color="#70cf57"/><stop offset="0.2500" stop-color="#5ec962"/><stop offset="0.2812" stop-color="#4ec36b"/><stop offset="0.3125" stop-color="#3fbc73"/><stop offset="0.3438" stop-color="#32b67a"/><stop offset="0.3750" stop-color="#28ae80"/><stop offset="0.4062" stop-color="#22a785"/><stop offset="0.4375" stop-color="#1fa088"/><stop offset="0.4688" stop-color="#1f988b"/><stop offset="0.5000" stop-color="#21918c"/><stop offset="0.5312" stop-color="#23898e"/><stop offset="0.5625" stop-color="#26828e"/><stop offset="0.5938" stop-color="#297a8e"/><stop offset="0.6250" stop-color="#2c728e"/><stop offset="0.6562" stop-color="#2f6b8e"/><stop offset="0.6875" stop-color="#33638d"/><stop offset="0.7188" stop-color="#375b8d"/><stop offset="0.7500" stop-color="#3b528b"/><stop offset="0.7812" stop-color="#3e4989"/><stop offset="0.8125" stop-color="#424086"/><stop offset="0.8438" stop-color="#453781"/><stop offset="0.8750" stop-color="#472d7b"/><stop offset="0.9062" stop-color="#482374"/><stop offset="0.9375" stop-color="#48186a"/><stop offset="0.9688" stop-color="#470d60"/><stop offset="1.0000" stop-color="#440154"/></linearGradient><rect x="663" y="47" width="20" height="373.1" fill="url(#gA)" stroke="#000" stroke-width="1.6"/><path d="M683 407.9543h6.3M683 332.0438h6.3M683 256.1334h6.3M683 180.2229h6.3M683 104.3124h6.3" stroke="#000" stroke-width="1.25"/><linearGradient id="gB" x1="0" y1="0" x2="0" y2="1"><stop offset="0.0000" stop-color="#fde725"/><stop offset="0.0312" stop-color="#ece51b"/><stop offset="0.0625" stop-color="#d8e219"/><stop offset="0.0938" stop-color="#c2df23"/><stop offset="0.1250" stop-color="#addc30"/><stop offset="0.1562" stop-color="#98d83e"/><stop offset="0.1875" stop-color="#84d44b"/><stop offset="0.2188" stop-color="#70cf57"/><stop offset="0.2500" stop-color="#5ec962"/><stop offset="0.2812" stop-color="#4ec36b"/><stop offset="0.3125" stop-color="#3fbc73"/><stop offset="0.3438" stop-color="#32b67a"/><stop offset="0.3750" stop-color="#28ae80"/><stop offset="0.4062" stop-color="#22a785"/><stop offset="0.4375" stop-color="#1fa088"/><stop offset="0.4688" stop-color="#1f988b"/><stop offset="0.5000" stop-color="#21918c"/><stop offset="0.5312" stop-color="#23898e"/><stop offset="0.5625" stop-color="#26828e"/><stop offset="0.5938" stop-color="#297a8e"/><stop offset="0.6250" stop-color="#2c728e"/><stop offset="0.6562" stop-color="#2f6b8e"/><stop offset="0.6875" stop-color="#33638d"/><stop offset="0.7188" stop-color="#375b8d"/><stop offset="0.7500" stop-color="#3b528b"/><stop offset="0.7812" stop-color="#3e4989"/><stop offset="0.8125" stop-color="#424086"/><stop offset="0.8438" stop-color="#453781"/><stop offset="0.8750" stop-color="#472d7b"/><stop offset="0.9062" stop-color="#482374"/><stop offset="0.9375" stop-color="#48186a"/><stop offset="0.9688" stop-color="#470d60"/><stop offset="1.0000" stop-color="#440154"/></linearGradient><rect x="1323.8" y="47" width="20" height="373.1" fill="url(#gB)" stroke="#000" stroke-width="1.6"/><path d="M1343.8 396.6952h6.3M1343.8 310.6482h6.3M1343.8 224.6011h6.3M1343.8 138.5541h6.3M1343.8 52.507h6.3" stroke="#000" stroke-width="1.25"/><linearGradient id="gC" x1="0" y1="0" x2="0" y2="1"><stop offset="0.0000" stop-color="#fde725"/><stop offset="0.0312" stop-color="#ece51b"/><stop offset="0.0625" stop-color="#d8e219"/><stop offset="0.0938" stop-color="#c2df23"/><stop offset="0.1250" stop-color="#addc30"/><stop offset="0.1562" stop-color="#98d83e"/><stop offset="0.1875" stop-color="#84d44b"/><stop offset="0.2188" stop-color="#70cf57"/><stop offset="0.2500" stop-color="#5ec962"/><stop offset="0.2812" stop-color="#4ec36b"/><stop offset="0.3125" stop-color="#3fbc73"/><stop offset="0.3438" stop-color="#32b67a"/><stop offset="0.3750" stop-color="#28ae80"/><stop offset="0.4062" stop-color="#22a785"/><stop offset="0.4375" stop-color="#1fa088"/><stop offset="0.4688" stop-color="#1f988b"/><stop offset="0.5000" stop-color="#21918c"/><stop offset="0.5312" stop-color="#23898e"/><stop offset="0.5625" stop-color="#26828e"/><stop offset="0.5938" stop-color="#297a8e"/><stop offset="0.6250" stop-color="#2c728e"/><stop offset="0.6562" stop-color="#2f6b8e"/><stop offset="0.6875" stop-color="#33638d"/><stop offset="0.7188" stop-color="#375b8d"/><stop offset="0.7500" stop-color="#3b528b"/><stop offset="0.7812" stop-color="#3e4989"/><stop offset="0.8125" stop-color="#424086"/><stop offset="0.8438" stop-color="#453781"/><stop offset="0.8750" stop-color="#472d7b"/><stop offset="0.9062" stop-color="#482374"/><stop offset="0.9375" stop-color="#48186a"/><stop offset="0.9688" stop-color="#470d60"/><stop offset="1.0000" stop-color="#440154"/></linearGradient><rect x="663" y="497.7" width="20" height="373.1" fill="url(#gC)" stroke="#000" stroke-width="1.6"/><path d="M683 821.1729h6.3M683 741.4507h6.3M683 661.7285h6.3M683 582.0063h6.3M683 502.284h6.3" stroke="#000" stroke-width="1.25"/><linearGradient id="gD" x1="0" y1="0" x2="0" y2="1"><stop offset="0.0000" stop-color="#2f1436"/><stop offset="0.0312" stop-color="#3a113a"/><stop offset="0.0625" stop-color="#4a1342"/><stop offset="0.0938" stop-color="#5f174a"/><stop offset="0.1250" stop-color="#741e4f"/><stop offset="0.1562" stop-color="#872750"/><stop offset="0.1875" stop-color="#983550"/><stop offset="0.2188" stop-color="#a64550"/><stop offset="0.2500" stop-color="#b25652"/><stop offset="0.2812" stop-color="#bb6958"/><stop offset="0.3125" stop-color="#c27c63"/><stop offset="0.3438" stop-color="#c89073"/><stop offset="0.3750" stop-color="#cca389"/><stop offset="0.4062" stop-color="#d1b6a3"/><stop offset="0.4375" stop-color="#d8c7be"/><stop offset="0.4688" stop-color="#dfd4d6"/><stop offset="0.5000" stop-color="#e2d9e2"/><stop offset="0.5312" stop-color="#d7d7dd"/><stop offset="0.5625" stop-color="#c4ced4"/><stop offset="0.5938" stop-color="#acc2cc"/><stop offset="0.6250" stop-color="#95b5c7"/><stop offset="0.6562" stop-color="#81a6c3"/><stop offset="0.6875" stop-color="#7297c1"/><stop offset="0.7188" stop-color="#6887be"/><stop offset="0.7500" stop-color="#6276ba"/><stop offset="0.7812" stop-color="#5f64b5"/><stop offset="0.8125" stop-color="#5e51ad"/><stop offset="0.8438" stop-color="#5d3da1"/><stop offset="0.8750" stop-color="#592a8f"/><stop offset="0.9062" stop-color="#511b77"/><stop offset="0.9375" stop-color="#45135c"/><stop offset="0.9688" stop-color="#381145"/><stop offset="1.0000" stop-color="#301437"/></linearGradient><rect x="1323.8" y="497.7" width="20" height="373.1" fill="url(#gD)" stroke="#000" stroke-width="1.6"/><path d="M1343.8 497.7h6.3M1343.8 684.25h6.3M1343.8 870.8h6.3M1343.8 590.975h6.3M1343.8 777.525h6.3" stroke="#000" stroke-width="1.25"/><rect x="1356.1" y="690.2" width="14.5" height="2.4" fill="#000"/><path d="M1327.2 453.6 L1333.4 447.4 L1339.6 453.6" fill="none" stroke="#000" stroke-width="1.6"/><text transform="matrix(0.376 0 0 0.4252 66.5 409.9515)" font-family="Liberation Serif" font-style="normal" font-size="100">60</text><text transform="matrix(0.376 0 0 0.4252 66.5 335.3315)" font-family="Liberation Serif" font-style="normal" font-size="100">90</text><text transform="matrix(0.366 0 0 0.4252 49.2 260.7115)" font-family="Liberation Serif" font-style="normal" font-size="100">120</text><text transform="matrix(0.366 0 0 0.4252 49.2 186.0915)" font-family="Liberation Serif" font-style="normal" font-size="100">150</text><text transform="matrix(0.366 0 0 0.4252 49.2 111.4715)" font-family="Liberation Serif" font-style="normal" font-size="100">180</text><text transform="matrix(0.376 0 0 0.4252 66.5 860.6515)" font-family="Liberation Serif" font-style="normal" font-size="100">60</text><text transform="matrix(0.376 0 0 0.4252 66.5 786.0315)" font-family="Liberation Serif" font-style="normal" font-size="100">90</text><text transform="matrix(0.366 0 0 0.4252 49.2 711.4115)" font-family="Liberation Serif" font-style="normal" font-size="100">120</text><text transform="matrix(0.366 0 0 0.4252 49.2 636.7915)" font-family="Liberation Serif" font-style="normal" font-size="100">150</text><text transform="matrix(0.366 0 0 0.4252 49.2 562.1715)" font-family="Liberation Serif" font-style="normal" font-size="100">180</text><text transform="matrix(0.379 0 0 0.4459 133.5833 914.3541)" font-family="Liberation Serif" font-style="normal" font-size="100">60</text><text transform="matrix(0.379 0 0 0.4459 236.2833 914.3541)" font-family="Liberation Serif" font-style="normal" font-size="100">90</text><text transform="matrix(0.3667 0 0 0.4459 330.4333 914.3541)" font-family="Liberation Serif" font-style="normal" font-size="100">120</text><text transform="matrix(0.3667 0 0 0.4459 433.1333 914.3541)" font-family="Liberation Serif" font-style="normal" font-size="100">150</text><text transform="matrix(0.3667 0 0 0.4459 535.8333 914.3541)" font-family="Liberation Serif" font-style="normal" font-size="100">180</text><text transform="matrix(0.379 0 0 0.4459 794.3833 914.3541)" font-family="Liberation Serif" font-style="normal" font-size="100">60</text><text transform="matrix(0.379 0 0 0.4459 897.0833 914.3541)" font-family="Liberation Serif" font-style="normal" font-size="100">90</text><text transform="matrix(0.3667 0 0 0.4459 991.2333 914.3541)" font-family="Liberation Serif" font-style="normal" font-size="100">120</text><text transform="matrix(0.3667 0 0 0.4459 1093.9333 914.3541)" font-family="Liberation Serif" font-style="normal" font-size="100">150</text><text transform="matrix(0.3667 0 0 0.4459 1196.6333 914.3541)" font-family="Liberation Serif" font-style="normal" font-size="100">180</text><text transform="matrix(0.3699 0 0 0.4667 120.9 36.6385)" font-family="Liberation Sans" font-style="normal" font-size="100">(a)</text><text transform="matrix(0.393 0 0 0.4062 257.1 35.0507)" font-family="Liberation Sans" font-style="normal" font-size="100">Total Memory</text><text transform="matrix(0.3903 0 0 0.4667 780.7 36.6385)" font-family="Liberation Sans" font-style="normal" font-size="100">(b)</text><text transform="matrix(0.3708 0 0 0.4062 912.3 35.0507)" font-family="Liberation Sans" font-style="normal" font-size="100">Linear Memory</text><text transform="matrix(0.4005 0 0 0.4667 119.3 487.3385)" font-family="Liberation Sans" font-style="normal" font-size="100">(c)</text><text transform="matrix(0.3805 0 0 0.4116 218.6 485.6392)" font-family="Liberation Sans" font-style="normal" font-size="100">Quadratic Memory</text><text transform="matrix(0.4198 0 0 0.4667 778.7 487.3385)" font-family="Liberation Sans" font-style="normal" font-size="100">(d)</text><text transform="matrix(0.3709 0 0 0.4116 851 485.6392)" font-family="Liberation Sans" font-style="normal" font-size="100">Average angular distance</text><text transform="matrix(0.4941 0 0 0.456 638.2929 35.9896)" font-family="Liberation Serif" font-style="italic" font-size="100">MC</text><text transform="matrix(0.4915 0 0 0.456 1299.5898 36.0896)" font-family="Liberation Serif" font-style="italic" font-size="100">MC</text><text transform="matrix(0.208 0 0 0.2955 1377.2 19.9)" font-family="Liberation Serif" font-style="normal" font-size="100">1</text><text transform="matrix(0.4685 0 0 0.4545 638.7622 486.8909)" font-family="Liberation Serif" font-style="italic" font-size="100">MC</text><text transform="matrix(0.246 0 0 0.3051 715.7 470.9)" font-family="Liberation Serif" font-style="normal" font-size="100">2</text><text transform="matrix(0.384 0 0 0.4148 696 422.2395)" font-family="Liberation Serif" font-style="normal" font-size="100">10</text><text transform="matrix(0.384 0 0 0.423 696 346.7438)" font-family="Liberation Serif" font-style="normal" font-size="100">12</text><text transform="matrix(0.384 0 0 0.4242 696 270.8334)" font-family="Liberation Serif" font-style="normal" font-size="100">14</text><text transform="matrix(0.384 0 0 0.4167 696 194.5062)" font-family="Liberation Serif" font-style="normal" font-size="100">16</text><text transform="matrix(0.384 0 0 0.4148 696 118.5976)" font-family="Liberation Serif" font-style="normal" font-size="100">18</text><text transform="matrix(0.3912 0 0 0.4124 1357.7 410.8179)" font-family="Liberation Serif" font-style="normal" font-size="100">5.0</text><text transform="matrix(0.3912 0 0 0.4185 1357.7 324.7622)" font-family="Liberation Serif" font-style="normal" font-size="100">7.5</text><text transform="matrix(0.368 0 0 0.4124 1359.6 238.7238)" font-family="Liberation Serif" font-style="normal" font-size="100">10.0</text><text transform="matrix(0.368 0 0 0.4142 1359.6 152.6742)" font-family="Liberation Serif" font-style="normal" font-size="100">12.5</text><text transform="matrix(0.368 0 0 0.4124 1359.6 66.6297)" font-family="Liberation Serif" font-style="normal" font-size="100">15.0</text><text transform="matrix(0.33 0 0 0.4275 698.8 836.5229)" font-family="Liberation Serif" font-style="normal" font-size="100">2</text><text transform="matrix(0.33 0 0 0.4301 698.8 756.8007)" font-family="Liberation Serif" font-style="normal" font-size="100">4</text><text transform="matrix(0.33 0 0 0.4211 698.8 676.6573)" font-family="Liberation Serif" font-style="normal" font-size="100">6</text><text transform="matrix(0.33 0 0 0.4193 698.8 596.937)" font-family="Liberation Serif" font-style="normal" font-size="100">8</text><text transform="matrix(0.348 0 0 0.4193 698.8 517.2148)" font-family="Liberation Serif" font-style="normal" font-size="100">10</text><text transform="matrix(0.4332 0 0 0.3838 1357.1 512.1162)" font-family="Liberation Serif" font-style="italic" font-size="100">π</text><text transform="matrix(0.35 0 0 0.4178 1356.4 885.3822)" font-family="Liberation Serif" font-style="normal" font-size="100">0</text><text transform="matrix(0.182 0 0 0.3061 1358.6 685.5)" font-family="Liberation Serif" font-style="normal" font-size="100">1</text><text transform="matrix(0.248 0 0 0.2991 1356.9 716.9)" font-family="Liberation Serif" font-style="normal" font-size="100">2</text><text transform="matrix(0.4332 0 0 0.4136 1373.9 702.4864)" font-family="Liberation Serif" font-style="italic" font-size="100">π</text><text transform="matrix(0.3434 0 0 0.4427 1320.9 486.1)" font-family="Liberation Serif" font-style="normal" font-size="100">Φ</text><text transform="matrix(0.3743 0 0 0.4094 271.8 959.0838)" font-family="Liberation Sans" font-style="normal" font-size="100">Delay time</text><text transform="matrix(0.5193 0 0 0.403 463.8 958.797)" font-family="Liberation Serif" font-style="italic" font-size="100">τ</text><text transform="matrix(0.3743 0 0 0.4094 932.6 959.0838)" font-family="Liberation Sans" font-style="normal" font-size="100">Delay time</text><text transform="matrix(0.5193 0 0 0.403 1124.6 958.797)" font-family="Liberation Serif" font-style="italic" font-size="100">τ</text><text transform="matrix(0 -0.3835 0.4116 0 30.2392 346.6)" font-family="Liberation Sans" font-style="normal" font-size="100">Clock cycle T</text><text transform="matrix(0 -0.3835 0.4116 0 30.2392 797.3)" font-family="Liberation Sans" font-style="normal" font-size="100">Clock cycle T</text></svg></body></html>
